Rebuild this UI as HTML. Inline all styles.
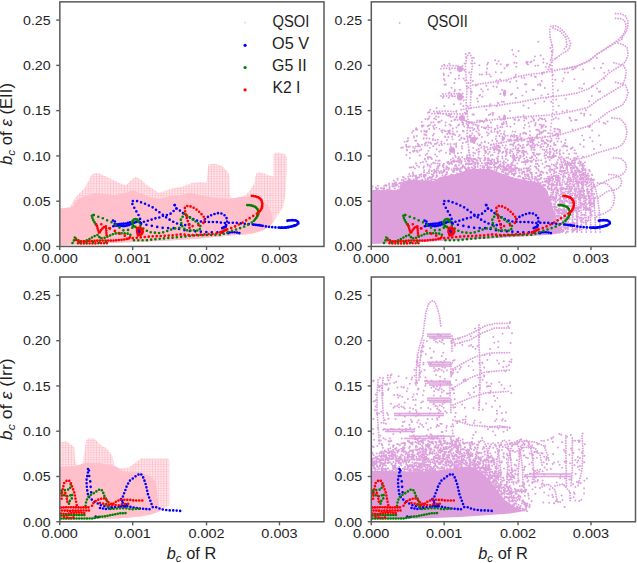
<!DOCTYPE html>
<html><head><meta charset="utf-8"><style>html,body{margin:0;padding:0;background:#fff;overflow:hidden}svg{display:block}</style></head>
<body><svg width="637" height="563" viewBox="0 0 637 563">
<style>
text{font-family:"Liberation Sans",sans-serif;fill:#1e1e1e}
.sp{fill:none;stroke:#5a5a5a;stroke-width:1.5}
.tk{stroke:#5a5a5a;stroke-width:1.4}
</style>
<rect width="637" height="563" fill="#fff"/>
<defs>
<pattern id="pkl" width="2.8" height="2.4" patternUnits="userSpaceOnUse"><rect width="2.8" height="2.4" fill="#fff"/><circle cx="1.4" cy="1.2" r="1.2" fill="#ffc0cb"/></pattern>
<pattern id="pls" width="4.6" height="4.6" patternUnits="userSpaceOnUse" patternTransform="rotate(20)"><circle cx="2.3" cy="2.3" r="0.8" fill="#dda0dd"/></pattern>
<pattern id="plm" width="2.8" height="2.8" patternUnits="userSpaceOnUse"><circle cx="1.4" cy="1.4" r="0.9" fill="#dda0dd"/></pattern>
</defs>
<polygon points="60.5,208.4 70.0,208.0 72.1,202.9 75.4,197.4 78.7,194.0 84.2,188.6 88.6,180.9 90.8,175.4 94.0,173.2 99.6,173.6 106.2,176.5 112.7,179.8 119.3,183.1 125.9,185.3 132.5,178.7 135.8,177.1 141.3,179.8 145.7,184.2 152.3,188.6 158.9,193.0 165.5,190.8 172.1,188.6 183.1,186.4 191.9,183.1 200.0,182.0 206.5,183.0 208.3,164.6 215.0,163.8 222.0,166.0 228.0,172.0 229.5,176.4 229.8,185.8 230.3,196.8 234.2,199.2 239.0,197.6 245.2,195.2 250.0,190.5 253.9,184.2 255.4,176.4 256.2,173.3 259.4,172.5 264.1,173.3 268.8,175.6 273.5,176.4 273.5,154.4 275.0,152.8 279.8,152.8 285.3,154.4 286.8,157.6 286.8,168.5 286.0,184.2 285.3,196.8 282.9,207.8 277.8,215.1 274.6,220.2 272.7,222.7 267.7,227.7 261.4,230.9 252.6,233.4 243.8,234.6 232.5,235.3 225.0,235.9 200.0,238.5 170.0,240.5 140.0,241.8 100.0,243.5 60.5,245.3" fill="url(#pkl)"/>
<polygon points="60.5,208.4 72.0,207.0 77.0,200.0 85.0,196.0 95.0,193.0 105.0,194.0 115.0,195.0 125.0,193.0 133.0,190.0 140.0,193.0 150.0,197.0 160.0,199.0 170.0,196.0 180.0,195.0 190.0,193.0 200.0,195.0 210.0,197.0 230.0,199.0 240.0,197.0 250.0,197.0 260.0,200.0 268.0,205.0 272.0,215.0 272.7,222.7 267.7,227.7 261.4,230.9 252.6,233.4 243.8,234.6 232.5,235.3 225.0,235.9 200.0,238.5 170.0,240.5 140.0,241.8 100.0,243.5 60.5,245.3" fill="#ffc0cb"/>
<polyline points="113.0,220.5 115.0,221.0 114.7,224.2 112.8,227.0" fill="none" stroke="#0000ff" stroke-width="2.65" stroke-linecap="round" stroke-linejoin="round" stroke-dasharray="0 2.6"/>
<polyline points="115.0,225.6 119.4,225.6 124.1,226.1 128.8,225.1 132.6,223.3 136.0,222.0 140.0,221.0" fill="none" stroke="#0000ff" stroke-width="2.8" stroke-linecap="round" stroke-linejoin="round" stroke-dasharray="0 2.0"/>
<polyline points="117.0,224.2 121.0,223.8 126.0,223.5 131.0,222.0" fill="none" stroke="#0000ff" stroke-width="2.65" stroke-linecap="round" stroke-linejoin="round" stroke-dasharray="0 2.2"/>
<polyline points="141.0,223.0 140.1,219.0 139.2,216.2 137.8,213.8 136.4,211.5 135.0,209.1 133.5,206.3 132.1,203.5 131.7,201.1 137.3,201.1 141.6,202.5 146.7,204.4 152.4,207.2 157.6,211.0 162.7,214.6 167.6,218.5 172.7,221.5 177.2,223.6 181.8,225.1 186.4,225.1 190.5,224.1" fill="none" stroke="#0000ff" stroke-width="2.65" stroke-linecap="round" stroke-linejoin="round" stroke-dasharray="0 4.2"/>
<polyline points="140.0,222.4 145.8,221.4 150.5,220.0 154.7,218.5 159.0,217.6 163.2,215.7 168.1,214.9 171.1,213.4 173.2,211.3 176.2,209.3 176.7,207.8 175.7,205.7 174.2,204.7" fill="none" stroke="#0000ff" stroke-width="2.65" stroke-linecap="round" stroke-linejoin="round" stroke-dasharray="0 4.0"/>
<polyline points="174.5,205.0 176.5,208.5 180.3,210.8 183.4,213.4 186.4,215.4 189.0,216.9 192.0,218.5 195.1,220.0 198.2,221.0 201.2,221.5 207.9,222.0 211.9,222.0 216.5,222.0 221.1,222.6 225.2,223.1 230.0,222.7 235.0,222.7 240.0,223.3 245.1,223.9 250.1,224.2 253.9,224.6" fill="none" stroke="#0000ff" stroke-width="2.65" stroke-linecap="round" stroke-linejoin="round" stroke-dasharray="0 4.0"/>
<polyline points="253.9,224.6 258.9,225.2 262.7,225.8" fill="none" stroke="#0000ff" stroke-width="2.8" stroke-linecap="round" stroke-linejoin="round" stroke-dasharray="0 1.8"/>
<polyline points="262.7,225.8 266.4,226.5 271.5,227.1 276.5,227.5 281.5,227.7 286.5,227.5 291.6,226.5 296.0,225.2" fill="none" stroke="#0000ff" stroke-width="2.65" stroke-linecap="round" stroke-linejoin="round" stroke-dasharray="0 3.2"/>
<polyline points="280.0,227.6 286.0,227.6 291.6,226.5 296.0,225.2 298.5,223.3 297.8,221.4 295.3,220.4 291.6,220.2 287.8,220.6 286.5,221.4" fill="none" stroke="#0000ff" stroke-width="2.8" stroke-linecap="round" stroke-linejoin="round" stroke-dasharray="0 1.6"/>
<polyline points="205.0,219.0 207.9,216.9 211.9,214.9 216.0,213.4 220.1,212.9 223.7,214.4 226.2,216.9 227.2,220.0 226.7,223.6 225.7,226.6" fill="none" stroke="#0000ff" stroke-width="2.65" stroke-linecap="round" stroke-linejoin="round" stroke-dasharray="0 3.6"/>
<polyline points="225.7,226.6 223.2,227.7 221.1,228.2" fill="none" stroke="#0000ff" stroke-width="3.0" stroke-linecap="round" stroke-linejoin="round" stroke-dasharray="0 1.8"/>
<polyline points="141.0,224.0 148.6,225.1 155.2,226.6 163.7,228.0 175.2,228.2 186.9,230.7 198.0,231.5 209.9,232.2 221.0,232.5 228.3,233.3" fill="none" stroke="#0000ff" stroke-width="2.65" stroke-linecap="round" stroke-linejoin="round" stroke-dasharray="0 5.5"/>
<polyline points="227.5,232.7 233.8,232.1 237.6,232.7 240.7,233.4" fill="none" stroke="#0000ff" stroke-width="2.65" stroke-linecap="round" stroke-linejoin="round" stroke-dasharray="0 2.4"/>
<polyline points="137.3,231.7 139.2,234.6" fill="none" stroke="#0000ff" stroke-width="2.65" stroke-linecap="round" stroke-linejoin="round" stroke-dasharray="0 2.2"/>
<polyline points="72.5,243.0 73.8,240.9 75.0,236.7 76.3,239.2 80.0,241.5 85.0,241.3 90.0,238.8 92.5,237.1 95.0,235.9 97.6,235.0 99.2,236.7 100.0,238.4 104.2,238.0 110.0,235.5 114.2,233.6 119.0,233.1 127.4,233.6 132.1,235.5" fill="none" stroke="#008000" stroke-width="2.65" stroke-linecap="round" stroke-linejoin="round" stroke-dasharray="0 3.0"/>
<polyline points="97.0,226.0 95.5,224.0 94.6,222.5 93.4,220.4 92.5,218.4 91.7,215.4 93.8,215.0" fill="none" stroke="#008000" stroke-width="2.65" stroke-linecap="round" stroke-linejoin="round" stroke-dasharray="0 2.3"/>
<polyline points="93.8,215.0 96.7,216.3 101.3,217.5 106.3,220.0 112.2,222.5 117.5,226.1 123.2,230.3 127.4,230.3 132.6,227.5" fill="none" stroke="#008000" stroke-width="2.65" stroke-linecap="round" stroke-linejoin="round" stroke-dasharray="0 4.8"/>
<polyline points="138.5,221.0 137.0,219.2 134.5,219.0 132.6,220.8 132.2,223.5 133.3,226.0 135.6,227.0" fill="none" stroke="#008000" stroke-width="2.8" stroke-linecap="round" stroke-linejoin="round" stroke-dasharray="0 1.9"/>
<polyline points="138.3,222.0 141.1,227.0 145.8,230.3 150.5,232.2 155.2,232.7 159.9,233.1 163.7,232.2 167.9,230.8 172.1,229.2 176.2,228.2 180.3,227.7" fill="none" stroke="#008000" stroke-width="2.65" stroke-linecap="round" stroke-linejoin="round" stroke-dasharray="0 4.2"/>
<polyline points="184.4,213.9 182.3,217.4 180.8,219.5 181.3,222.6 181.8,225.6 185.4,230.2 190.0,230.5 194.6,230.2 198.7,230.7 200.7,227.7 200.2,225.1 195.6,221.5 192.6,219.5 189.5,216.9 186.9,215.9 184.4,213.9" fill="none" stroke="#008000" stroke-width="2.65" stroke-linecap="round" stroke-linejoin="round" stroke-dasharray="0 3.4"/>
<polyline points="134.0,240.2 146.3,240.2 159.0,238.8 170.1,237.9 180.0,237.0 193.6,235.5 207.0,235.0 220.1,234.8 225.0,233.4 228.1,232.1 231.9,230.9 235.7,229.6 239.4,228.3 243.2,227.1 247.0,225.2 250.7,223.3 253.9,220.8" fill="none" stroke="#008000" stroke-width="2.65" stroke-linecap="round" stroke-linejoin="round" stroke-dasharray="0 4.3"/>
<polyline points="253.9,220.8 256.4,217.7 258.3,214.5 258.3,211.4 257.0,208.2 254.5,206.4 250.1,205.1 245.7,205.1" fill="none" stroke="#008000" stroke-width="2.8" stroke-linecap="round" stroke-linejoin="round" stroke-dasharray="0 1.9"/>
<polyline points="76.0,240.0 80.0,241.5 90.0,241.2 100.0,240.5 110.0,240.6 113.8,240.6 118.5,240.0 123.2,239.7 128.8,238.5" fill="none" stroke="#ff0000" stroke-width="2.7" stroke-linecap="round" stroke-linejoin="round" stroke-dasharray="0 2.7"/>
<polyline points="78.0,243.3 88.0,243.6 98.0,243.3 108.0,243.2" fill="none" stroke="#ff0000" stroke-width="2.6" stroke-linecap="round" stroke-linejoin="round" stroke-dasharray="0 2.9"/>
<polyline points="80.0,242.5 86.0,242.6 93.0,242.2 100.0,242.5 106.0,242.0" fill="none" stroke="#008000" stroke-width="2.4" stroke-linecap="round" stroke-linejoin="round" stroke-dasharray="0 6.5"/>
<polyline points="128.8,238.5 135.0,238.0 141.0,237.4 150.0,236.5 160.0,236.0 165.0,235.8 173.2,235.3 181.3,234.3 190.5,235.3 198.7,234.8 206.8,234.3 215.0,233.8 221.1,232.2" fill="none" stroke="#ff0000" stroke-width="2.65" stroke-linecap="round" stroke-linejoin="round" stroke-dasharray="0 4.0"/>
<polyline points="221.1,232.2 227.2,229.2" fill="none" stroke="#ff0000" stroke-width="3.0" stroke-linecap="round" stroke-linejoin="round" stroke-dasharray="0 1.8"/>
<polyline points="227.2,229.2 232.5,227.7 236.3,225.8 240.1,223.9 243.8,222.0 247.6,219.5 251.4,217.0 254.5,215.1 257.7,213.3" fill="none" stroke="#ff0000" stroke-width="2.65" stroke-linecap="round" stroke-linejoin="round" stroke-dasharray="0 4.2"/>
<polyline points="257.7,213.3 260.2,210.8 262.0,207.6 262.3,203.8 261.4,200.1 258.9,197.6 255.1,196.3 250.7,195.7" fill="none" stroke="#ff0000" stroke-width="2.8" stroke-linecap="round" stroke-linejoin="round" stroke-dasharray="0 1.6"/>
<polyline points="96.3,224.2 97.5,228.0 99.2,233.4 101.7,229.2 104.0,227.0 105.9,226.3 106.3,231.0 106.7,236.7" fill="none" stroke="#ff0000" stroke-width="2.6" stroke-linecap="round" stroke-linejoin="round" stroke-dasharray="0 2.2"/>
<polyline points="101.3,224.2 110.5,228.8" fill="none" stroke="#ff0000" stroke-width="2.65" stroke-linecap="round" stroke-linejoin="round" stroke-dasharray="0 9"/>
<polyline points="110.0,228.4 115.7,231.3 121.3,234.6 127.0,236.4 131.7,237.9" fill="none" stroke="#ff0000" stroke-width="2.65" stroke-linecap="round" stroke-linejoin="round" stroke-dasharray="0 5.5"/>
<polyline points="137.0,228.0 140.0,227.5 142.5,229.5 143.0,232.0 141.5,234.5 138.0,235.5 137.0,232.0 137.0,228.0" fill="none" stroke="#ff0000" stroke-width="2.6" stroke-linecap="round" stroke-linejoin="round" stroke-dasharray="0 1.7"/>
<polyline points="138.5,229.5 141.0,230.5 140.5,233.0 138.5,233.0" fill="none" stroke="#ff0000" stroke-width="2.6" stroke-linecap="round" stroke-linejoin="round" stroke-dasharray="0 1.5"/>
<polyline points="138.6,230.5 139.5,232.2" fill="none" stroke="#0000ff" stroke-width="2.2" stroke-linecap="round" stroke-linejoin="round" stroke-dasharray="0 1.5"/>
<polyline points="189.5,227.7 188.5,223.1 186.9,218.5 185.9,213.9 184.9,210.3 184.9,207.2 188.0,205.7 191.5,206.7 194.6,208.3 197.7,210.3 200.7,213.4 203.3,215.9 204.8,219.0 204.3,221.5 202.8,223.6" fill="none" stroke="#ff0000" stroke-width="2.65" stroke-linecap="round" stroke-linejoin="round" stroke-dasharray="0 3.4"/>
<polyline points="192.6,226.1 198.7,225.1" fill="none" stroke="#ff0000" stroke-width="2.65" stroke-linecap="round" stroke-linejoin="round" stroke-dasharray="0 6"/>
<path d="M449.3 63.8h0M473.8 57.7h0M465.2 80.5h0M456.8 116.5h0M468.3 82.9h0M489.4 74.6h0M448.1 115.7h0M472.9 81.0h0M466.1 56.9h0M476.0 85.4h0M448.6 97.7h0M459.0 75.4h0M484.6 106.5h0M443.3 96.8h0M464.4 120.3h0M479.7 74.5h0M498.5 61.2h0M456.4 111.1h0M482.3 96.7h0M490.7 76.5h0M477.1 98.4h0M468.5 87.6h0M488.0 125.7h0M460.6 103.8h0M486.6 74.2h0M453.9 104.2h0M429.4 111.9h0M454.3 120.0h0M466.2 120.9h0M486.4 119.4h0M445.9 84.4h0M496.8 63.8h0M469.2 72.5h0M452.7 96.2h0M496.5 105.9h0M463.7 100.2h0M492.5 112.8h0M490.6 114.2h0M454.4 83.1h0M471.1 63.6h0M443.9 79.1h0M459.9 89.7h0M450.7 72.7h0M487.2 64.6h0M464.6 63.4h0M465.7 54.1h0M489.7 106.3h0M444.6 80.6h0M437.5 112.2h0M464.9 112.8h0M449.7 69.4h0M488.9 114.9h0M486.4 109.7h0M444.4 106.0h0M496.7 86.9h0M495.3 129.1h0M496.6 80.4h0M471.8 122.2h0M488.0 89.4h0M474.0 114.4h0M493.2 113.0h0M481.3 89.3h0M438.4 113.6h0M449.9 114.5h0M497.9 82.9h0M479.4 65.3h0M492.9 114.9h0M436.0 116.5h0M498.5 103.3h0M451.3 94.8h0M497.8 102.7h0M457.5 120.0h0M487.0 68.5h0M443.9 74.9h0M443.0 97.7h0M444.5 84.7h0M451.5 87.7h0M468.8 122.5h0M462.6 93.5h0M458.0 66.3h0M479.4 95.4h0M449.4 92.4h0M466.7 113.2h0M443.6 73.6h0M482.9 91.6h0M467.1 111.3h0M493.4 86.6h0M470.9 91.4h0M463.4 106.0h0M458.9 93.6h0M477.4 120.4h0M495.7 72.2h0M488.0 62.7h0M483.8 122.0h0M436.6 107.9h0M474.5 63.2h0M491.2 127.5h0M454.9 90.0h0M499.2 116.9h0M463.7 78.5h0M466.6 86.4h0M471.8 92.0h0M484.1 127.8h0M428.0 112.8h0M486.4 72.2h0M467.8 106.6h0M476.6 85.2h0M472.6 114.5h0M459.0 78.5h0M464.5 70.6h0M448.4 75.8h0M482.0 74.6h0M462.5 65.9h0M480.0 95.0h0M495.1 60.3h0M486.4 85.7h0M462.1 117.1h0M454.5 91.5h0M450.7 116.9h0M478.0 101.6h0M455.4 79.1h0M430.3 109.8h0M444.2 64.7h0M490.3 104.3h0" stroke="#dda0dd" stroke-width="2.0" stroke-linecap="round" fill="none"/>
<path d="M531.6 61.5h0M532.8 89.7h0M517.6 88.0h0M534.7 76.4h0M500.1 79.6h0M553.2 95.4h0M522.5 95.6h0M500.6 64.3h0M510.1 81.9h0M534.1 60.3h0M565.6 98.8h0M584.1 115.5h0M580.2 144.3h0M543.6 72.4h0M581.1 113.6h0M582.2 135.6h0M515.6 98.1h0M556.5 138.5h0M590.1 137.4h0M565.4 146.1h0M576.5 120.1h0M514.9 76.9h0M562.6 111.6h0M570.1 118.5h0M589.3 127.3h0M556.3 99.6h0M508.3 64.5h0M582.9 156.8h0M555.3 79.7h0M553.6 118.9h0M585.9 110.2h0M516.5 63.0h0M583.2 69.6h0M506.8 64.9h0M575.3 120.0h0M575.7 67.8h0M557.9 90.4h0M552.2 45.4h0M502.0 89.7h0M550.3 64.9h0M523.6 105.6h0M515.9 98.1h0M591.9 96.1h0M599.3 121.4h0M500.4 93.9h0M550.5 69.3h0M515.8 74.7h0M603.8 122.7h0M601.0 67.7h0M541.7 81.1h0M540.4 85.6h0M527.9 64.5h0M599.0 135.6h0M570.7 148.7h0M582.0 88.6h0M584.3 113.8h0M552.9 74.7h0M573.5 69.1h0M562.4 81.3h0M518.7 51.0h0M555.7 58.6h0M550.4 48.1h0M538.3 41.8h0M526.8 63.6h0M563.8 145.3h0M584.0 83.7h0M546.4 98.1h0M542.2 74.0h0M507.0 66.1h0M556.4 111.9h0M596.6 58.1h0M530.4 62.3h0M544.8 88.0h0M503.6 122.2h0M600.3 91.5h0M592.5 141.2h0M512.2 50.1h0M558.5 118.7h0M605.4 123.8h0M572.5 129.4h0M551.2 101.7h0M572.3 69.5h0M514.3 62.7h0M571.3 120.8h0M558.7 105.8h0M543.5 59.1h0M533.8 89.9h0M599.0 91.8h0M526.3 62.1h0M607.6 121.6h0M555.8 117.7h0M547.0 63.4h0M574.7 150.3h0M537.9 84.7h0M589.3 126.1h0M608.6 70.5h0M525.0 84.2h0M574.5 153.3h0M516.4 81.1h0M506.7 81.1h0M600.6 144.9h0M604.3 72.8h0M574.4 79.2h0M541.9 73.1h0M531.3 75.7h0M592.1 86.2h0M505.5 91.6h0M521.6 77.4h0M603.0 63.4h0M583.7 146.8h0M538.0 65.4h0M535.4 65.8h0M526.2 91.8h0M543.3 62.6h0M548.2 94.2h0M589.9 126.0h0M592.1 130.5h0M568.0 72.6h0M535.8 77.0h0M503.8 101.8h0M510.8 94.8h0M579.5 88.1h0M526.2 84.2h0M569.5 117.6h0M583.8 140.1h0M594.2 68.2h0M563.5 78.5h0M527.7 61.9h0M564.8 72.4h0M590.5 114.9h0M594.1 148.9h0M504.5 68.2h0M513.4 54.6h0M604.2 78.4h0M597.0 88.4h0M566.8 110.6h0M524.4 77.9h0M515.8 56.5h0M528.6 107.9h0M501.3 72.5h0M535.0 56.4h0M589.1 101.2h0M544.3 101.5h0M518.3 120.4h0M545.9 66.8h0M535.0 103.6h0M540.0 84.1h0M540.7 55.6h0M551.6 51.1h0M501.7 101.7h0M571.8 148.3h0M510.0 110.9h0M541.5 95.6h0M516.3 66.8h0M512.2 93.8h0" stroke="#dda0dd" stroke-width="2.0" stroke-linecap="round" fill="none"/>
<path d="M552.2 232.0h0M416.0 129.5h0M480.0 120.5h0M579.4 161.3h0M574.5 189.7h0M556.6 133.6h0M548.0 141.1h0M462.4 217.3h0M557.7 136.3h0M420.6 162.8h0M487.9 160.8h0M534.3 223.5h0M541.6 118.7h0M506.2 181.1h0M512.3 151.4h0M465.9 185.1h0M467.2 194.4h0M471.9 167.5h0M376.9 189.5h0M481.5 142.7h0M543.0 209.2h0M474.5 135.9h0M477.8 127.1h0M486.1 119.0h0M514.5 124.0h0M536.2 208.9h0M486.4 120.6h0M484.7 160.1h0M535.9 213.4h0M415.1 233.8h0M482.0 230.7h0M548.5 227.5h0M541.3 133.4h0M572.8 147.5h0M554.6 131.5h0M484.3 226.2h0M418.4 146.1h0M485.2 152.9h0M407.9 228.2h0M524.2 223.2h0M409.5 209.8h0M514.4 157.9h0M567.5 181.7h0M501.8 221.7h0M395.2 235.1h0M513.0 162.1h0M550.6 146.3h0M593.9 184.4h0M452.5 207.3h0M470.9 135.6h0M538.5 119.9h0M555.6 144.9h0M515.1 234.1h0M503.1 195.0h0M509.9 166.7h0M486.7 223.3h0M518.2 116.7h0M422.0 185.2h0M503.8 138.9h0M511.6 171.9h0M401.9 228.3h0M426.3 132.2h0M393.2 191.9h0M567.1 209.4h0M461.9 146.2h0M374.3 192.7h0M497.8 156.7h0M516.5 168.1h0M581.9 203.5h0M427.4 224.2h0M462.8 143.0h0M384.8 209.0h0M416.5 188.2h0M485.4 192.3h0M554.1 135.3h0M441.1 150.6h0M382.6 222.5h0M547.3 201.3h0M373.1 217.0h0M538.8 170.8h0M538.1 169.2h0M422.4 126.8h0M447.0 205.5h0M527.6 217.1h0M531.3 146.5h0M495.9 167.2h0M548.5 177.8h0M431.2 192.3h0M430.1 142.8h0M538.6 229.3h0M539.1 153.9h0M569.1 154.1h0M425.3 224.7h0M513.2 198.5h0M520.9 233.4h0M477.0 216.4h0M528.2 218.6h0M469.8 202.4h0M499.6 151.5h0M419.2 190.0h0M389.2 225.1h0M395.6 227.3h0M449.1 131.3h0M527.1 191.3h0M528.0 203.9h0M386.5 186.0h0M453.2 213.7h0M555.5 222.7h0M386.5 219.9h0M576.8 229.2h0M561.8 213.1h0M513.9 214.7h0M513.4 149.1h0M541.6 139.0h0M443.3 165.7h0M435.1 201.3h0M454.2 153.1h0M587.9 175.5h0M562.7 189.4h0M469.6 208.3h0M449.5 200.0h0M492.3 140.4h0M555.6 134.8h0M542.7 233.3h0M481.9 211.2h0M413.1 174.3h0M449.6 215.5h0M430.1 229.2h0M435.3 140.2h0M528.6 174.8h0M396.4 191.7h0M389.8 210.1h0M528.1 210.0h0M512.5 157.4h0M461.7 162.1h0M417.9 146.1h0M573.8 175.1h0M456.8 221.8h0M424.1 170.2h0M490.9 206.0h0M540.6 192.8h0M449.9 153.9h0M406.5 216.9h0M520.2 204.5h0M409.7 167.5h0M545.2 184.7h0M414.7 150.8h0M529.4 216.9h0M427.2 153.8h0M488.8 133.6h0M445.3 137.1h0M590.4 202.9h0M394.5 231.4h0M592.4 211.0h0M536.2 167.1h0M415.7 191.8h0M461.2 210.5h0M527.2 175.1h0M513.5 170.5h0M403.5 187.7h0M462.5 204.4h0M575.4 166.5h0M500.4 205.4h0M466.2 141.9h0M533.7 221.4h0M545.3 199.4h0M562.9 196.9h0M515.6 169.4h0M441.9 190.6h0M547.2 201.0h0M512.9 144.5h0M466.7 169.5h0M511.1 163.9h0M523.2 227.5h0M412.8 193.8h0M546.2 161.4h0M481.6 232.9h0M407.8 209.4h0M582.7 177.3h0M394.4 184.1h0M493.1 201.5h0M486.6 192.0h0M557.6 177.6h0M463.7 229.7h0M418.8 197.5h0M459.7 207.0h0M399.2 234.1h0M451.4 120.9h0M433.2 162.8h0M466.0 199.2h0M450.7 146.3h0M422.0 204.5h0M582.5 178.3h0M420.8 211.8h0M459.6 139.9h0M400.7 208.7h0M553.3 191.4h0M476.9 182.6h0M422.4 231.6h0M450.9 191.9h0M555.3 213.6h0M476.7 149.9h0M494.7 129.3h0M558.7 157.3h0M562.5 146.6h0M456.1 144.9h0M467.3 136.7h0M372.3 202.1h0M434.8 143.9h0M439.4 172.5h0M467.8 191.8h0M519.6 158.2h0M580.0 218.2h0M384.5 215.0h0M574.9 209.7h0M403.2 215.4h0M374.3 230.1h0M518.8 144.5h0M424.1 208.7h0M449.4 132.6h0M574.5 210.6h0M409.4 222.7h0M508.2 209.3h0M521.6 223.1h0M548.5 216.3h0M416.0 198.5h0M490.8 204.5h0M470.1 221.7h0M496.2 146.3h0M424.2 131.0h0M482.3 121.1h0M476.5 131.6h0M481.9 174.8h0M492.7 219.3h0M373.2 216.6h0M476.7 182.6h0M520.9 216.5h0M455.8 165.1h0M514.6 191.6h0M378.1 188.4h0M524.8 227.6h0M445.8 233.8h0M486.2 173.1h0M532.8 190.3h0M447.6 219.1h0M453.8 171.9h0M489.6 208.0h0M419.0 167.1h0M466.4 181.6h0M557.1 149.7h0M557.4 163.3h0M484.7 147.1h0M485.3 232.9h0M518.5 210.6h0M445.9 152.7h0M438.8 185.5h0M514.1 209.7h0M380.7 202.2h0M570.3 180.5h0M578.4 188.3h0M519.3 210.3h0M575.8 188.6h0M510.0 190.5h0M527.9 186.7h0M524.4 139.9h0M521.3 169.9h0M542.8 126.4h0M545.4 225.5h0M518.8 159.0h0M556.2 210.0h0M497.8 145.5h0M439.4 165.5h0M443.1 166.5h0M515.6 227.9h0M553.5 184.2h0M577.7 168.5h0M504.5 228.4h0M464.2 126.4h0M516.3 139.9h0M372.8 197.4h0M399.0 231.9h0M391.5 220.1h0M533.1 143.6h0M536.2 136.9h0M382.9 208.4h0M531.7 218.4h0M535.4 124.3h0M512.7 200.5h0M475.0 227.7h0M428.7 231.6h0M375.0 193.4h0M441.5 203.0h0M408.9 219.0h0M480.8 121.3h0M454.1 184.1h0M470.1 196.6h0M404.2 211.3h0M453.2 192.7h0M512.9 165.0h0M458.2 209.9h0M583.6 209.7h0M498.8 149.7h0M385.3 232.8h0M529.4 214.9h0M446.2 187.9h0M590.9 215.4h0M506.5 151.6h0M467.8 222.4h0M456.2 197.5h0M506.7 223.3h0M552.8 148.6h0M466.5 185.6h0M554.7 222.3h0M381.2 215.7h0M553.8 219.8h0M500.0 147.4h0M562.6 212.5h0M525.3 225.5h0M449.5 124.4h0M495.9 211.3h0M416.7 205.5h0M507.8 196.7h0M476.1 139.2h0M428.8 205.6h0M549.3 170.1h0M391.4 212.4h0M544.9 142.4h0M501.7 223.4h0M570.2 177.7h0M478.6 185.9h0M414.1 137.5h0M412.2 199.5h0M453.1 182.9h0M462.0 177.1h0M395.5 191.2h0M548.3 133.1h0M505.7 156.1h0M379.2 234.8h0M566.0 173.3h0M498.9 145.9h0M546.5 166.0h0M584.0 207.6h0M555.4 231.5h0M428.7 118.6h0M416.8 136.0h0M496.7 220.2h0M474.5 229.6h0M505.8 162.5h0M398.6 231.0h0M429.4 182.9h0M515.4 230.7h0M521.9 162.0h0M472.3 133.5h0M429.1 156.9h0M574.2 224.4h0M548.1 200.6h0M516.8 234.2h0M541.0 228.6h0M523.5 150.5h0M504.4 206.5h0M429.3 129.1h0M479.7 134.6h0M425.2 131.5h0M523.7 115.5h0M532.6 137.8h0M379.8 227.2h0M421.2 227.9h0M566.1 222.4h0M393.5 227.3h0M560.6 190.7h0M473.2 155.5h0M556.3 172.3h0M512.6 131.4h0M531.8 181.5h0M404.2 220.2h0M431.5 164.2h0M406.6 147.1h0M560.0 154.8h0M409.3 173.9h0M443.0 224.2h0M397.3 233.4h0M384.5 223.2h0M521.6 139.8h0M478.8 148.9h0M429.5 138.6h0M453.4 234.9h0M534.6 149.8h0M552.7 155.6h0M558.4 178.2h0M413.4 167.1h0M499.9 130.8h0M412.1 208.0h0M531.3 138.0h0M508.2 174.4h0M433.1 139.1h0M509.1 200.3h0M553.7 185.1h0M536.0 163.8h0M533.6 120.8h0M553.5 154.9h0M560.5 219.5h0M575.9 172.1h0M567.3 146.5h0M413.4 215.5h0M454.0 133.9h0M455.0 186.6h0M471.7 176.9h0M398.8 201.2h0M554.8 219.6h0M443.7 200.8h0M457.2 205.7h0M385.4 220.5h0M585.7 174.4h0M486.8 178.7h0M427.9 213.7h0M528.5 137.8h0M501.0 177.8h0M529.3 126.5h0M566.7 201.5h0M482.4 175.1h0M434.4 128.9h0M462.7 130.7h0M504.4 219.1h0M404.7 183.9h0M539.2 134.0h0M557.0 228.4h0M458.9 165.3h0M560.0 178.1h0M460.4 228.8h0M546.0 155.3h0M425.6 154.9h0M469.4 233.7h0M552.1 225.4h0M554.5 217.4h0M427.6 165.5h0M513.6 158.5h0M490.8 122.5h0M468.8 175.6h0M589.2 208.7h0M581.9 191.3h0M553.2 221.9h0M515.6 146.4h0M523.9 147.4h0M493.3 226.8h0M511.0 144.6h0M488.4 166.9h0M440.2 193.0h0M398.7 186.5h0M586.1 176.7h0M431.9 170.9h0M491.4 132.1h0M437.6 163.6h0M436.4 143.7h0M560.1 188.4h0M499.6 193.3h0M416.8 200.7h0M475.1 180.9h0M509.2 171.2h0M441.3 143.6h0M421.4 176.5h0M457.6 185.5h0M565.0 143.1h0M496.6 174.0h0M435.6 234.5h0M438.0 208.2h0M567.1 167.7h0M470.4 203.7h0M586.9 204.1h0M406.4 155.1h0M450.8 196.4h0M509.9 217.7h0M555.9 177.2h0M537.4 204.7h0M542.1 172.0h0M547.8 200.4h0M543.4 185.5h0M483.4 231.5h0M500.0 165.0h0M547.5 220.5h0M507.9 160.3h0M473.1 169.9h0M533.9 149.7h0M459.3 181.8h0M457.9 153.3h0M548.2 217.6h0M483.7 168.2h0M413.0 151.1h0M404.2 184.2h0M502.1 124.7h0M560.9 216.3h0M467.4 225.1h0M498.4 174.7h0M578.1 208.4h0M492.5 235.8h0M487.8 177.1h0M525.4 161.5h0M451.9 186.6h0M450.5 229.6h0M523.4 178.1h0M461.6 182.5h0M500.5 221.3h0M588.0 173.4h0M470.4 190.2h0M490.6 213.5h0M410.0 152.8h0M591.2 214.8h0M486.7 127.5h0M572.3 198.2h0M570.9 165.3h0M406.8 149.4h0M486.5 175.6h0M413.9 136.3h0M513.0 187.6h0M450.9 235.2h0M514.5 119.2h0M464.0 210.1h0M440.5 198.3h0M560.6 185.5h0M521.6 138.0h0M483.4 181.5h0M431.4 192.9h0M490.9 235.6h0M500.6 164.2h0M542.1 127.0h0M488.9 214.4h0M509.2 212.4h0M544.5 153.4h0M532.2 157.2h0M409.7 146.5h0M394.0 224.3h0M502.3 156.6h0M472.6 161.1h0M384.0 222.6h0M502.4 231.1h0M470.3 189.7h0M427.6 119.4h0M580.5 218.3h0M442.3 223.7h0M554.7 151.0h0M506.9 231.1h0M482.9 229.9h0M426.2 161.6h0M532.9 141.0h0M441.0 220.8h0M480.3 210.7h0M426.3 135.2h0M452.1 136.8h0M497.7 128.0h0M491.4 161.0h0M462.1 122.0h0M399.4 214.8h0M450.5 143.9h0M414.6 148.6h0M520.7 155.7h0M406.7 200.1h0M559.0 129.6h0M471.1 216.0h0M552.2 133.4h0M450.9 202.1h0M456.2 230.9h0M418.4 230.0h0M484.9 141.7h0M473.2 130.0h0M530.2 145.8h0M573.5 185.7h0M454.2 144.0h0M508.1 139.9h0M486.8 180.2h0M432.4 208.2h0M458.0 194.2h0M499.0 151.9h0M459.2 124.5h0M411.4 217.8h0M443.7 194.9h0M396.1 182.6h0M452.8 175.0h0M438.3 122.0h0M441.5 141.6h0M400.0 201.4h0M435.0 163.2h0M575.6 208.5h0M569.7 219.1h0M401.3 147.7h0M378.3 196.9h0M520.5 156.9h0M464.2 194.4h0M528.5 144.3h0M561.6 157.0h0M512.7 136.2h0M397.5 225.3h0M536.3 200.9h0M408.0 138.2h0M439.7 160.5h0M514.9 135.9h0M560.0 183.6h0M532.4 145.1h0M469.3 197.5h0M558.8 208.7h0M435.9 119.2h0M563.3 188.1h0M396.6 210.6h0M418.8 225.6h0M539.8 124.5h0M527.5 162.0h0M539.4 215.1h0M434.8 125.0h0M584.0 165.7h0M580.3 198.4h0M537.4 215.3h0M512.6 169.2h0M383.9 199.2h0M467.8 176.4h0M542.6 119.3h0M529.3 212.3h0M430.3 180.7h0M589.1 191.8h0M493.7 144.5h0M464.0 138.6h0M441.4 130.7h0M530.3 195.8h0M425.1 143.5h0M487.3 168.3h0M438.8 221.9h0M403.5 182.7h0M446.5 213.5h0M494.7 206.8h0M409.7 195.3h0M506.0 170.3h0M543.5 215.4h0M452.6 139.2h0M415.9 199.6h0M472.2 127.8h0M444.5 171.2h0M453.1 134.5h0M390.5 201.5h0M591.6 182.8h0M469.1 137.2h0M578.0 192.6h0M512.5 228.1h0M518.1 144.7h0M426.9 130.9h0M377.9 208.5h0M560.0 150.2h0M413.4 191.8h0M561.4 227.1h0M409.5 209.7h0M558.0 204.6h0M445.0 136.5h0M556.8 153.1h0M454.4 181.2h0M454.5 215.4h0M425.4 119.0h0M498.8 190.6h0M555.6 200.1h0M574.7 229.3h0M482.6 174.9h0M407.0 150.5h0M502.0 123.8h0M526.0 134.0h0M471.1 232.3h0M470.3 137.3h0M560.3 218.3h0M548.2 165.9h0M435.2 194.7h0M487.1 165.4h0M447.7 167.5h0M521.1 214.8h0M438.0 168.1h0M498.1 156.5h0M444.3 170.2h0M565.8 232.9h0M587.4 189.6h0M523.4 188.3h0M438.3 183.7h0M585.4 172.6h0M516.9 150.5h0M448.7 222.0h0M523.9 168.6h0M390.8 194.6h0M455.1 184.9h0M465.1 178.7h0M498.4 162.4h0M571.3 180.9h0M396.9 219.2h0M428.6 125.6h0M490.8 144.7h0M481.4 181.6h0M422.5 183.9h0M503.7 123.8h0M463.2 123.0h0M470.3 219.3h0M495.2 201.2h0M541.5 128.0h0M593.9 202.0h0M394.6 215.3h0M459.6 134.9h0M587.0 182.7h0M545.5 130.7h0M545.8 121.0h0M424.8 159.4h0M419.5 150.6h0M530.4 166.0h0M571.0 189.8h0M567.3 182.7h0M577.5 220.2h0M409.4 204.9h0M448.3 207.2h0M524.3 214.7h0M537.1 229.7h0M533.6 119.3h0M507.1 126.2h0M494.8 212.0h0M397.0 226.9h0M523.2 145.1h0M415.0 168.5h0M559.7 184.9h0M396.5 211.7h0M413.3 181.6h0M436.8 197.8h0M457.1 131.6h0M568.1 179.7h0M526.4 212.6h0M448.5 132.4h0M484.2 220.5h0M412.6 213.8h0M524.1 161.9h0M478.4 133.3h0M561.3 162.0h0M567.5 188.5h0M420.2 223.1h0M503.9 119.3h0M409.8 158.0h0M476.6 184.4h0M458.7 157.1h0M474.7 234.3h0M522.2 147.3h0M433.0 175.0h0M430.5 183.4h0M490.2 230.7h0M497.4 208.1h0M567.4 208.5h0M513.7 191.4h0M453.1 148.4h0M550.1 220.5h0M582.2 197.1h0M439.9 207.1h0M537.6 176.1h0M514.2 156.8h0M495.2 163.5h0M444.2 234.6h0M479.7 158.8h0M426.3 142.6h0M450.0 130.5h0M373.3 220.3h0M473.3 168.4h0M499.3 150.9h0M439.3 151.6h0M534.7 181.3h0M578.3 185.2h0M501.9 234.5h0M451.8 208.5h0M467.8 219.9h0M429.5 116.8h0M408.6 146.7h0M529.7 140.6h0M461.3 138.4h0M506.9 219.4h0M517.1 138.0h0M536.3 231.5h0M506.5 123.7h0M553.3 220.8h0M448.2 130.7h0M413.9 179.5h0M568.1 192.1h0M445.0 205.4h0M517.3 163.4h0M524.0 155.2h0M381.9 190.4h0M446.7 174.3h0M505.8 145.4h0M579.2 182.8h0M509.4 202.3h0M445.5 125.4h0M543.8 125.0h0M554.3 165.6h0M492.5 185.8h0M496.2 194.2h0M506.6 154.4h0M537.9 145.5h0M531.3 207.1h0M545.8 151.7h0M545.0 233.2h0M473.3 147.9h0M489.1 228.8h0M478.4 194.0h0M545.3 158.2h0M541.4 125.0h0M496.2 136.2h0M537.2 226.4h0M546.2 143.6h0M592.0 174.9h0M514.4 156.0h0M551.3 170.1h0M444.3 224.2h0M395.9 203.5h0M386.4 192.7h0M461.8 219.4h0M463.6 226.1h0M583.7 190.5h0M422.0 144.7h0M430.5 166.9h0M423.6 138.8h0M542.0 192.4h0M438.6 235.3h0M420.3 183.5h0M406.9 219.3h0M566.7 146.6h0M540.3 214.4h0M435.1 154.4h0M480.6 222.7h0M407.9 197.3h0M505.7 169.3h0M501.6 221.7h0M418.8 221.8h0M452.5 209.1h0M438.5 117.0h0M396.7 232.9h0M373.8 225.2h0M405.5 203.8h0M524.8 125.0h0M447.9 226.1h0M532.4 221.6h0M424.3 210.6h0M526.3 118.6h0M484.9 142.3h0M468.3 126.8h0M376.2 234.9h0M442.7 221.2h0M411.8 197.6h0M404.9 204.1h0M484.0 127.7h0M451.0 174.5h0M577.8 156.6h0M420.0 232.0h0M569.8 203.2h0M432.9 135.6h0M431.1 122.4h0M463.2 181.9h0M526.1 193.7h0M493.7 181.0h0M526.5 233.8h0M567.8 201.6h0M461.3 152.8h0M465.7 232.7h0M458.5 161.0h0M463.7 131.5h0M508.0 227.0h0M428.8 188.5h0M456.3 143.4h0M416.2 128.2h0M560.8 209.6h0M527.4 153.6h0M516.6 181.0h0M442.5 232.5h0M371.9 205.0h0M563.1 176.2h0M504.6 235.4h0M424.3 190.8h0M538.4 160.2h0M531.4 162.0h0M489.7 188.8h0M523.6 153.3h0M512.8 180.3h0M421.8 188.7h0M431.1 224.9h0M477.9 202.0h0M488.8 172.1h0M421.3 131.3h0M579.7 178.5h0M489.2 178.4h0M554.1 143.1h0M410.4 214.3h0M474.9 192.1h0M557.3 223.1h0M457.2 215.5h0M555.1 129.0h0M406.2 144.7h0M551.9 177.6h0M473.3 124.7h0M460.4 235.6h0M527.6 168.8h0M479.0 211.4h0M541.9 132.3h0M524.3 158.8h0M488.5 143.0h0M454.9 155.5h0M416.8 183.6h0M532.8 147.5h0M444.4 143.5h0M514.4 218.8h0M416.9 165.6h0M549.4 189.4h0M455.1 119.4h0M471.0 158.8h0M531.5 150.0h0M463.2 193.1h0M553.6 157.0h0M458.1 184.6h0M589.6 200.9h0M455.2 195.2h0M445.6 122.6h0M541.3 160.3h0M489.6 174.6h0M573.9 206.4h0M475.4 170.4h0M560.0 164.6h0M477.9 222.6h0M470.4 173.9h0M486.5 214.6h0M522.1 204.3h0M524.2 181.6h0M544.2 207.9h0M389.0 213.7h0M540.7 182.9h0M384.0 197.1h0M531.2 172.9h0M384.0 198.3h0M465.4 185.2h0M446.7 177.2h0M373.1 234.6h0M433.3 146.0h0M441.9 145.1h0M564.3 181.8h0M486.3 165.3h0M566.1 211.8h0M563.8 145.4h0M492.1 159.6h0M475.8 173.7h0M502.6 158.6h0M551.5 138.4h0M577.9 181.8h0M491.3 163.9h0M498.4 153.5h0M433.1 211.1h0M437.1 200.7h0M551.7 186.2h0M473.7 228.1h0M471.5 221.1h0M515.1 120.0h0M505.4 136.0h0M578.6 182.4h0M551.3 174.8h0M522.8 196.3h0M437.8 139.7h0M559.7 131.8h0M547.6 230.0h0M464.7 194.4h0M429.5 224.5h0M525.6 132.9h0M384.4 198.9h0M381.1 216.0h0M437.6 142.4h0M502.3 152.9h0M497.4 132.8h0M576.2 153.6h0M560.4 132.5h0M551.0 233.6h0M456.9 192.2h0M421.8 180.6h0M535.0 166.4h0M524.0 128.0h0M557.5 128.9h0M582.4 178.2h0M436.9 156.4h0M540.0 174.6h0M480.4 219.4h0M505.8 180.0h0M432.5 223.0h0M561.3 141.7h0M506.0 232.0h0M448.9 229.2h0M519.0 120.1h0M446.4 168.9h0M427.2 204.6h0M411.8 210.1h0M438.6 122.5h0M497.1 125.7h0M495.4 210.1h0M505.3 170.3h0M393.5 192.9h0M401.3 184.5h0M450.8 159.7h0M520.4 134.0h0M409.8 228.9h0M446.1 216.8h0M567.6 172.6h0M483.0 179.4h0M408.5 179.3h0M485.4 158.8h0M416.0 163.3h0M417.3 129.5h0M425.5 220.3h0M484.3 222.7h0M375.1 229.1h0M481.2 210.5h0M499.6 198.1h0M423.1 205.5h0M406.2 146.2h0M487.9 149.6h0M501.5 142.5h0M505.2 209.6h0M531.1 121.6h0M426.8 187.1h0M510.4 198.4h0M554.4 155.7h0M553.5 170.3h0M582.6 164.3h0M463.0 124.7h0M426.6 203.5h0M524.0 132.5h0M448.9 131.1h0M416.2 140.8h0M446.0 233.1h0M479.3 174.7h0M546.5 224.8h0M540.3 191.6h0M416.3 190.3h0M561.4 210.0h0M392.4 201.5h0M450.0 133.8h0M588.3 196.1h0M538.9 130.5h0M557.5 228.3h0M574.6 204.9h0M558.4 211.9h0M504.1 167.1h0M556.8 209.7h0M567.0 150.5h0M587.2 178.9h0M588.9 210.1h0M428.2 216.3h0M423.8 138.2h0M474.4 142.9h0M482.2 224.8h0M525.4 200.7h0M459.6 209.6h0M549.7 197.3h0M582.9 214.7h0M462.8 124.6h0M518.1 216.0h0M447.9 186.6h0M559.3 210.7h0M553.9 165.1h0M507.3 169.8h0M446.9 140.1h0M451.0 217.0h0M510.6 149.6h0M529.0 167.9h0M520.0 212.5h0M398.8 197.3h0M381.0 214.4h0M413.0 147.1h0M422.0 222.6h0M508.6 223.1h0M460.2 175.0h0M586.1 175.8h0M558.0 133.8h0M411.0 229.3h0M473.7 212.7h0M428.0 157.0h0M565.1 176.7h0M456.2 227.3h0M572.2 195.3h0M388.7 190.1h0M471.3 230.9h0M452.9 194.7h0M513.4 159.9h0M488.8 196.5h0M575.2 174.8h0M453.3 233.1h0M384.5 215.8h0M525.0 182.0h0M472.1 205.6h0M571.6 202.9h0M539.9 118.3h0M444.6 130.7h0M585.5 222.8h0M404.1 185.7h0M501.1 119.7h0M459.7 205.2h0M515.6 148.3h0M542.7 149.5h0M493.8 165.3h0M591.1 193.2h0M552.2 196.5h0M457.0 231.5h0M530.9 198.3h0M433.9 133.7h0M500.7 214.8h0M549.7 156.4h0M403.1 177.0h0M537.3 134.8h0M441.7 120.5h0M438.5 160.7h0M413.7 151.7h0M443.7 167.5h0M460.1 161.0h0M417.5 224.9h0M472.7 216.1h0M514.6 209.0h0M442.3 132.6h0M541.5 171.4h0M497.0 195.8h0M540.5 147.6h0M453.1 225.9h0M490.4 149.2h0M513.1 145.7h0M544.7 119.0h0M557.1 183.1h0M451.0 228.7h0M431.3 143.7h0M540.8 196.7h0M464.3 212.5h0M516.3 232.0h0M513.9 198.4h0M545.4 162.1h0M582.6 204.6h0M448.4 161.9h0M552.4 156.7h0M413.4 220.3h0M491.0 177.6h0M521.8 224.0h0M484.3 217.9h0M521.5 184.5h0M462.2 184.0h0M433.1 217.1h0M548.6 216.3h0M405.6 195.9h0M540.8 175.1h0M573.2 223.7h0M538.4 214.2h0M517.2 221.2h0M401.1 199.9h0M529.6 188.7h0M433.4 122.2h0M507.0 214.6h0M432.9 140.0h0M421.9 125.4h0M523.3 232.9h0M551.6 157.9h0M528.6 122.8h0M559.8 153.7h0M372.5 190.8h0M402.8 147.6h0M496.2 212.5h0M380.6 214.9h0M512.9 155.5h0M446.0 183.4h0M420.6 210.8h0M418.6 216.4h0M553.1 179.5h0M378.5 208.9h0M466.8 121.7h0M513.0 202.4h0M502.9 162.8h0M486.6 185.8h0M422.5 219.9h0M478.9 130.3h0M473.5 197.3h0M530.6 169.5h0M448.3 137.2h0M462.1 148.5h0M415.3 203.8h0M487.5 167.5h0M416.0 199.9h0M415.8 146.4h0M497.4 199.5h0M589.9 205.2h0M533.8 201.8h0M374.6 219.4h0M533.6 190.9h0M430.9 157.4h0M408.4 191.1h0M451.4 223.7h0M552.1 169.5h0M406.2 208.9h0M477.4 234.8h0M576.2 211.0h0M478.5 214.3h0M498.1 176.0h0M418.6 144.7h0M376.5 224.9h0M531.0 229.3h0M536.0 160.9h0M553.8 216.6h0M419.7 185.4h0M557.9 209.9h0M571.1 179.2h0M511.8 222.0h0M480.4 192.0h0M417.8 143.7h0M574.9 160.7h0M395.0 186.1h0M474.1 185.4h0M514.4 200.3h0M470.3 122.2h0M534.2 120.6h0M477.3 162.8h0M522.6 201.1h0M425.5 193.2h0M526.9 171.5h0M403.5 224.9h0M506.1 121.7h0M425.2 234.4h0M423.0 161.9h0M548.5 214.5h0M513.9 204.5h0M590.7 211.9h0M425.6 227.5h0M421.0 196.0h0M580.4 191.9h0M541.5 126.7h0M590.0 200.6h0M413.6 212.5h0M408.2 176.5h0M395.4 210.0h0M571.3 225.8h0M372.2 217.9h0M496.4 214.2h0M484.4 189.6h0M505.1 211.5h0M494.0 149.5h0M557.8 213.0h0M474.4 128.9h0M517.5 139.3h0M467.9 127.5h0M590.7 180.6h0M450.8 125.5h0M535.5 217.7h0M454.1 150.9h0M542.7 132.0h0M507.7 233.4h0M527.0 187.0h0M488.4 169.6h0M463.1 188.5h0M517.2 225.8h0M536.0 211.2h0M576.5 216.1h0M532.4 117.7h0M524.4 217.7h0M468.3 221.1h0M412.0 229.0h0M470.8 200.2h0M428.4 150.7h0M449.9 153.6h0M591.7 193.8h0M580.8 207.0h0M540.5 147.5h0M427.7 164.3h0M570.5 226.4h0M445.4 208.0h0M545.5 222.6h0M549.9 178.9h0M395.2 214.7h0M442.1 190.5h0M454.0 179.5h0M490.8 193.3h0M492.5 228.4h0M463.1 225.5h0M526.4 232.0h0M436.2 224.6h0M532.3 234.7h0M411.2 167.4h0M525.8 198.3h0M539.0 205.9h0M427.4 145.4h0M377.9 198.3h0M418.6 145.7h0M588.0 192.5h0M504.3 194.0h0M505.8 198.8h0M439.9 121.8h0M452.8 131.4h0M589.2 197.9h0M433.0 207.9h0M439.7 163.9h0M526.4 168.3h0M535.1 125.6h0M557.6 141.6h0M563.5 212.0h0M522.1 147.9h0M519.6 185.6h0M520.0 136.0h0M518.0 183.5h0M421.8 121.9h0M375.0 218.0h0M400.9 231.5h0M453.3 202.2h0M402.7 210.1h0M428.1 158.7h0M489.0 127.6h0M427.4 211.1h0M435.7 160.5h0M543.2 141.3h0M415.2 140.7h0M457.9 158.6h0M515.6 171.6h0M520.6 216.0h0M470.0 128.1h0M474.9 200.8h0M479.3 135.2h0M423.5 167.7h0M452.7 171.2h0M581.8 181.7h0M538.6 182.7h0M566.9 231.4h0M583.4 178.0h0M425.5 134.8h0M565.6 139.9h0M579.0 170.2h0M535.7 123.1h0M473.3 152.8h0M417.8 194.9h0M452.7 128.6h0M518.2 176.8h0M537.8 179.5h0M424.2 174.9h0M507.4 193.4h0M404.2 212.0h0M583.8 204.3h0M564.0 158.9h0M422.6 187.0h0M470.2 131.1h0M414.7 205.4h0M502.5 228.6h0M461.9 196.9h0M374.5 229.7h0M424.0 172.2h0M486.5 229.7h0M482.1 235.0h0M511.0 140.4h0M558.7 138.6h0M422.5 231.3h0M443.9 163.7h0M448.7 195.6h0M408.1 215.0h0M429.5 169.4h0M497.7 200.8h0M398.7 231.2h0M488.8 184.9h0M424.3 134.4h0M503.0 169.2h0M463.4 222.4h0M520.1 218.9h0M583.0 163.7h0M383.3 225.6h0M436.7 149.3h0M588.6 220.2h0M465.9 178.6h0M562.1 212.5h0M518.3 176.6h0M519.3 185.5h0M551.4 223.6h0M388.8 223.5h0M499.6 136.1h0M526.9 145.2h0M424.8 158.7h0M489.2 196.6h0M388.2 204.4h0M511.7 171.5h0M522.5 211.6h0M523.8 200.5h0M516.9 136.0h0M586.7 209.9h0M423.9 166.5h0M463.5 231.3h0M536.6 157.9h0M520.5 207.6h0M419.9 146.5h0M462.8 165.3h0M389.1 185.0h0M583.1 184.4h0M451.5 199.9h0M469.8 135.4h0M523.3 133.6h0M454.6 231.4h0M543.7 215.9h0M515.7 191.4h0M529.8 231.9h0M415.7 207.5h0M439.2 145.2h0M556.0 187.3h0M562.3 220.8h0M503.8 138.2h0M534.5 147.2h0M410.6 198.9h0M431.2 200.8h0M397.3 228.0h0M446.9 177.7h0M443.5 164.9h0M479.1 145.5h0M511.7 199.0h0M430.7 210.6h0M535.2 155.7h0M482.0 137.0h0M580.1 182.4h0M527.1 161.0h0M532.5 142.0h0M550.5 211.8h0M392.8 185.5h0M414.6 200.3h0M552.0 210.5h0M423.6 125.4h0M520.5 182.9h0M502.4 127.2h0M513.9 143.4h0M429.7 165.7h0M491.3 202.4h0M378.6 202.4h0M421.3 149.5h0M515.2 198.3h0M509.6 224.0h0M417.6 152.0h0M520.3 145.8h0M407.0 141.6h0M544.7 214.9h0M532.4 231.0h0M549.9 151.8h0M442.5 202.0h0M384.2 188.3h0M486.9 132.5h0M580.7 221.0h0M475.3 138.1h0M488.6 158.3h0M532.4 178.6h0M545.6 127.0h0M480.2 144.8h0M521.7 141.1h0M443.1 172.2h0M531.5 208.0h0M455.1 168.5h0M579.8 227.9h0M510.5 126.8h0M473.9 191.7h0M434.2 118.6h0M510.6 150.6h0M387.1 205.6h0M544.6 167.4h0M392.8 231.5h0M543.9 130.5h0M408.5 178.9h0M558.6 134.6h0M410.7 207.3h0M467.2 155.2h0M429.9 204.4h0M571.7 224.3h0M477.7 230.7h0M507.2 149.2h0M476.1 201.4h0M536.3 129.8h0M415.1 230.9h0M395.7 213.2h0M447.7 144.2h0M428.9 171.2h0M563.4 153.2h0M410.5 204.9h0M448.3 136.9h0M465.6 214.2h0M565.3 184.1h0M374.0 207.1h0M507.7 223.7h0M562.0 213.9h0M431.4 158.6h0M455.7 157.1h0M456.5 127.4h0M422.6 225.0h0M463.8 191.6h0M570.7 206.2h0M426.5 226.2h0M535.0 206.1h0M554.1 144.9h0M518.8 160.4h0M560.0 130.3h0M492.6 155.0h0M555.8 156.1h0M561.0 217.4h0M582.1 204.8h0M523.5 193.6h0M382.5 220.2h0M494.6 169.6h0M447.8 209.5h0M547.2 220.1h0M419.7 155.5h0M427.6 126.2h0M550.4 141.7h0M537.9 138.2h0M475.3 163.0h0M551.7 230.4h0M441.2 191.1h0M572.4 171.4h0M573.5 203.5h0M441.6 220.6h0M500.3 126.9h0M503.5 215.2h0M488.0 173.1h0M465.1 221.4h0M521.0 139.4h0M453.0 158.3h0M586.7 198.9h0M399.7 225.5h0M468.7 201.5h0M468.0 125.3h0M489.2 214.1h0M548.6 157.5h0M421.6 204.9h0M551.5 140.7h0M468.9 160.4h0M530.9 227.4h0M416.9 150.8h0M445.5 203.3h0M413.6 180.7h0M483.9 195.6h0M403.8 230.7h0M550.1 136.4h0M575.9 181.3h0M542.1 220.0h0M452.8 226.7h0M484.4 223.6h0M573.7 230.5h0M486.3 227.8h0M497.3 131.5h0M513.2 212.0h0M466.8 187.5h0M429.8 147.7h0M466.0 176.6h0M476.7 125.3h0M532.5 205.3h0M424.9 145.2h0M487.6 135.4h0M506.9 224.3h0M417.0 185.4h0M533.4 205.4h0M531.4 200.7h0M432.8 216.3h0M583.5 168.0h0M550.4 196.7h0M515.0 235.7h0M447.1 207.5h0M426.7 138.3h0M510.4 151.0h0M408.0 140.7h0M442.5 175.6h0M412.9 172.5h0M470.4 232.7h0M480.8 229.3h0M477.4 138.2h0M504.5 131.6h0M529.0 232.0h0M462.2 157.2h0M467.1 156.9h0M526.6 161.8h0M405.9 219.4h0M562.2 202.9h0M451.2 190.9h0M578.1 163.0h0M468.7 150.4h0M496.0 194.9h0M536.6 229.8h0M562.7 210.5h0M504.0 196.6h0M448.0 229.3h0M494.9 163.1h0M573.0 211.7h0M479.3 174.5h0M453.2 223.2h0M450.2 178.9h0M580.2 192.0h0M478.7 154.6h0M458.5 188.3h0M548.0 145.8h0M454.8 161.3h0M453.1 225.4h0M492.6 147.6h0M446.3 214.2h0M407.6 198.2h0M385.0 212.3h0M404.6 141.8h0M536.2 201.9h0M575.9 229.5h0M495.3 226.5h0M391.8 226.9h0M469.1 137.5h0M539.5 218.8h0M458.2 125.4h0M567.5 205.9h0M505.6 233.2h0M530.6 190.9h0M412.3 188.3h0M522.5 232.3h0M452.6 233.4h0M469.1 161.7h0M428.5 142.4h0M530.0 135.4h0M412.1 132.6h0M450.4 203.9h0M524.4 118.1h0M470.3 210.5h0M500.8 169.1h0M569.4 187.3h0M447.3 162.3h0M583.3 218.8h0M576.9 182.4h0M457.7 198.3h0M372.7 211.9h0M548.0 176.8h0M373.0 211.4h0M464.6 195.7h0M499.5 202.9h0M463.4 231.1h0M509.7 152.6h0M456.2 146.8h0M574.4 210.6h0M548.5 214.2h0M593.9 197.9h0M443.1 206.4h0M430.5 188.5h0M407.2 218.6h0M481.3 147.6h0M580.3 206.3h0M405.1 206.8h0M500.3 224.7h0M503.3 166.1h0M546.0 126.6h0M433.7 127.9h0M567.1 167.9h0M534.6 145.3h0M535.5 193.1h0M533.6 140.2h0M518.5 147.9h0M454.8 226.2h0M467.4 183.8h0M553.0 206.5h0M474.0 219.4h0M461.7 229.9h0M477.7 128.5h0M539.7 131.7h0M524.1 120.5h0M593.4 180.0h0M537.8 130.0h0M514.5 159.9h0M427.6 213.4h0M391.2 217.9h0M475.9 171.2h0M532.9 203.0h0M448.7 227.8h0M413.3 130.7h0M554.4 128.7h0M413.4 175.0h0M447.1 134.0h0M580.3 171.8h0M548.0 144.5h0M575.0 188.8h0M589.5 208.1h0M513.2 179.0h0M563.4 168.1h0M393.8 225.5h0M552.4 197.2h0M538.7 142.3h0M475.6 214.4h0M407.7 197.4h0M496.0 163.4h0M477.2 174.2h0M431.8 158.9h0M496.0 206.9h0M503.9 133.8h0M570.4 158.9h0M403.2 185.0h0M494.5 152.3h0M512.9 182.7h0M584.4 197.6h0M453.0 229.8h0M513.9 180.3h0M565.2 195.7h0M452.5 187.8h0M439.1 232.2h0M426.5 232.7h0M495.8 139.1h0M485.5 128.4h0M559.4 195.6h0" stroke="#dda0dd" stroke-width="2.0" stroke-linecap="round" fill="none"/>
<path d="M508.8 228.1h0M455.0 225.5h0M489.8 217.0h0M407.6 217.9h0M392.1 228.7h0M425.3 223.1h0M475.0 162.9h0M511.4 135.3h0M393.8 208.6h0M444.7 199.5h0M502.6 145.4h0M517.1 187.5h0M443.6 225.2h0M489.6 214.5h0M403.8 182.3h0M486.8 188.5h0M454.4 186.7h0M523.3 154.1h0M536.7 154.1h0M449.3 164.2h0M525.0 152.0h0M505.9 218.2h0M462.4 182.3h0M556.7 193.2h0M389.5 198.1h0M456.5 161.3h0M474.3 229.2h0M554.0 204.3h0M541.5 198.0h0M403.1 195.5h0M520.4 205.4h0M505.8 174.8h0M504.1 137.9h0M506.0 152.0h0M452.0 202.4h0M505.9 181.5h0M533.7 159.5h0M558.8 216.0h0M509.0 203.3h0M487.5 233.4h0M380.8 205.2h0M532.1 140.2h0M488.5 206.1h0M441.4 203.1h0M445.2 204.9h0M427.2 233.6h0M390.0 206.4h0M544.9 196.8h0M402.8 222.2h0M515.3 140.4h0M447.9 200.5h0M442.5 222.5h0M553.8 212.9h0M545.0 191.5h0M565.9 197.6h0M561.6 189.1h0M411.1 184.0h0M468.4 164.4h0M446.6 183.1h0M489.5 152.0h0M427.3 182.3h0M472.6 173.2h0M504.7 148.0h0M478.2 157.8h0M525.9 204.0h0M528.1 183.9h0M421.6 228.0h0M474.0 168.5h0M513.6 216.4h0M468.4 207.0h0M443.7 209.5h0M518.6 150.4h0M418.5 212.7h0M502.8 201.0h0M498.9 202.9h0M505.9 232.4h0M532.8 152.8h0M531.1 207.6h0M469.4 167.9h0M425.8 180.6h0M514.3 224.7h0M541.7 221.7h0M459.7 173.5h0M434.6 233.2h0M428.0 227.6h0M542.5 163.8h0M542.3 224.2h0M526.5 168.5h0M395.6 225.5h0M459.7 170.9h0M490.9 155.6h0M446.2 210.2h0M438.4 201.4h0M496.8 148.3h0M375.8 200.8h0M494.1 159.7h0M411.8 220.4h0M553.8 153.2h0M489.1 190.1h0M436.9 197.6h0M492.3 183.1h0M434.1 173.0h0M444.5 225.4h0M394.9 234.5h0M419.8 220.5h0M420.5 191.4h0M531.2 215.5h0M425.6 211.8h0M417.3 195.5h0M527.5 219.0h0M481.5 169.8h0M531.9 139.3h0M423.8 209.3h0M445.6 174.7h0M473.4 159.2h0M512.3 183.7h0M474.0 181.3h0M446.2 221.0h0M413.7 222.8h0M494.8 188.8h0M394.6 198.9h0M478.3 163.4h0M437.5 219.3h0M439.5 173.1h0M504.4 199.8h0M461.1 171.8h0M418.3 213.3h0M463.3 217.8h0M446.8 207.2h0M564.1 201.7h0M507.0 181.7h0M406.4 197.7h0M510.7 155.9h0M500.8 142.7h0M494.5 146.5h0M473.8 161.9h0M468.5 194.6h0M507.6 187.0h0M495.2 212.2h0M486.2 152.0h0M460.3 217.7h0M485.2 209.3h0M444.6 176.4h0M566.0 216.8h0M502.5 139.5h0M517.5 156.9h0M541.1 147.1h0M537.5 184.2h0M374.9 224.1h0M459.8 217.7h0M509.6 185.5h0M544.4 149.9h0M551.7 164.6h0M496.7 141.0h0M427.5 227.4h0M553.0 222.0h0M531.1 158.3h0M557.3 215.6h0M518.4 152.6h0M390.0 227.9h0M482.3 194.1h0M544.4 143.5h0M511.8 178.1h0M529.1 177.2h0M411.1 231.3h0M428.0 208.4h0M538.2 154.8h0M510.9 170.8h0M473.8 182.1h0M377.0 209.4h0M521.0 222.6h0M441.3 207.1h0M503.5 171.9h0M555.7 179.0h0M473.2 213.0h0M411.3 206.0h0M442.5 215.7h0M499.0 180.1h0M447.2 190.5h0M372.1 214.3h0M422.6 217.7h0M482.3 193.0h0M497.1 141.5h0M527.4 159.5h0M544.5 212.9h0M507.5 216.0h0M459.2 200.7h0M416.0 221.6h0M408.3 190.4h0M409.7 179.3h0M479.4 175.5h0M472.6 218.4h0M375.0 228.4h0M525.4 189.6h0M479.4 151.5h0M528.1 161.1h0M517.3 152.7h0M486.4 198.0h0M446.1 179.8h0M384.8 197.5h0M510.2 144.6h0M482.0 207.2h0M392.0 218.6h0M469.7 155.0h0M431.8 177.8h0M446.1 213.2h0M516.5 140.3h0M511.3 212.3h0M379.0 209.7h0M454.2 228.6h0M386.3 230.4h0M474.3 175.6h0M459.2 211.0h0M538.1 179.4h0M550.2 172.0h0M504.1 188.4h0M464.1 190.1h0M420.8 188.2h0M544.9 136.6h0M445.6 223.1h0M497.3 196.3h0M540.6 178.8h0M514.5 206.7h0M412.7 197.4h0M503.2 199.0h0M436.8 192.5h0M506.0 159.0h0M530.1 161.0h0M481.0 215.3h0M394.8 207.0h0M385.3 229.1h0M376.7 206.2h0M450.8 182.1h0M476.4 160.4h0M501.1 217.9h0M450.5 209.6h0M546.7 149.9h0M459.9 210.4h0M475.7 173.9h0M559.7 224.9h0M419.4 188.6h0M460.7 226.9h0M432.3 191.3h0M514.0 134.8h0M432.1 205.3h0M536.2 173.0h0M539.9 133.1h0M520.4 138.5h0M491.4 221.2h0M510.6 191.5h0M516.1 158.0h0M489.0 160.3h0M426.7 197.4h0M388.8 214.5h0M394.7 182.9h0M472.6 205.7h0M446.6 172.5h0M550.5 157.6h0M568.2 224.4h0M423.2 215.9h0M494.3 150.0h0M533.9 188.3h0M387.6 221.2h0M495.1 148.9h0M464.3 205.1h0M390.9 199.4h0M501.8 202.2h0M456.8 168.5h0M511.1 208.0h0M501.9 171.5h0M485.8 183.7h0M409.3 230.5h0M565.0 212.0h0M539.8 154.0h0M520.5 205.2h0M559.7 218.0h0M547.8 156.9h0M529.4 179.3h0M531.7 219.0h0M540.9 200.3h0M485.5 150.9h0M402.7 205.4h0M416.5 219.6h0M437.6 219.7h0M458.9 169.0h0M374.2 221.0h0M391.6 204.7h0M488.3 182.4h0M569.9 223.8h0M396.7 219.6h0M375.9 204.8h0M533.9 203.1h0M481.8 215.8h0M402.6 186.3h0M410.0 204.5h0M486.5 212.2h0M497.5 192.7h0M556.4 215.7h0M485.2 163.2h0M557.5 168.1h0M513.2 228.6h0M501.0 199.6h0M559.4 212.0h0M460.9 177.9h0M523.9 162.3h0M393.7 194.9h0M533.7 154.8h0M508.6 224.4h0M470.4 164.1h0M461.0 213.7h0M498.2 146.7h0M454.2 231.1h0M454.6 219.8h0M527.9 191.3h0M470.1 170.7h0M501.0 182.6h0M436.4 193.5h0M456.4 218.3h0M511.5 232.3h0M539.3 191.3h0M480.3 168.6h0M470.2 171.7h0M392.2 207.0h0M532.0 192.6h0M394.9 192.7h0M523.6 132.9h0M547.7 199.8h0M427.1 227.4h0M537.2 224.7h0M421.3 190.3h0M524.2 194.6h0M438.2 186.6h0M557.6 189.2h0M554.7 189.1h0M463.8 187.6h0M517.3 232.6h0M496.5 179.6h0M498.7 185.6h0M512.9 230.3h0M530.0 131.3h0M501.5 214.4h0M417.1 204.1h0M477.6 193.4h0M436.9 191.4h0M562.9 212.2h0M475.1 169.7h0M441.0 214.8h0M406.7 188.3h0M526.7 229.0h0M470.5 229.1h0M404.4 218.8h0M451.3 187.2h0M512.1 190.7h0M396.1 214.6h0M536.0 216.6h0M415.1 229.5h0M534.0 152.7h0M371.9 221.7h0M537.2 138.5h0M525.2 211.5h0M498.6 217.9h0M538.7 227.5h0M434.5 201.8h0M508.8 219.7h0M485.2 157.8h0M422.1 186.6h0M398.8 220.8h0M549.8 154.2h0M511.4 200.7h0M396.1 212.1h0M525.2 161.1h0M526.3 178.4h0M535.0 145.2h0M547.9 145.5h0M386.4 209.3h0M390.0 200.1h0M504.6 222.3h0M453.7 176.6h0M420.2 213.2h0M514.8 212.7h0M478.2 203.5h0M519.8 151.1h0M544.8 197.0h0M468.0 169.0h0M556.3 229.5h0M461.8 189.2h0M544.5 155.7h0M472.2 211.0h0M448.3 218.7h0M550.4 168.6h0M396.4 196.7h0M520.0 227.7h0M503.9 161.2h0M474.8 159.1h0M461.0 178.6h0M554.4 225.8h0M557.2 179.6h0M556.2 197.1h0M546.5 172.6h0M541.5 216.5h0M446.7 217.5h0M414.5 209.3h0M465.5 172.4h0M411.1 214.4h0M518.1 137.6h0M446.9 172.8h0M487.2 224.1h0M561.0 196.4h0M488.5 176.3h0M442.0 173.2h0M406.1 229.4h0M490.1 186.6h0M434.9 181.3h0M461.1 233.8h0M484.5 150.4h0M441.0 212.5h0M549.8 153.5h0M528.0 175.7h0M479.4 185.6h0M505.4 202.4h0M447.9 227.3h0M535.9 160.6h0M502.8 152.2h0M378.5 207.6h0M497.0 158.2h0M535.1 177.0h0M515.0 165.5h0M533.3 192.4h0M502.7 170.4h0M484.2 148.6h0M566.7 200.6h0M478.4 197.0h0M417.9 219.1h0M545.7 212.5h0M515.7 160.6h0M418.2 204.1h0M431.5 206.1h0M441.8 210.1h0M486.5 216.1h0M480.9 169.9h0M525.9 162.0h0M413.4 212.7h0M481.9 209.6h0M526.2 151.6h0M423.6 199.9h0M524.8 196.7h0M460.5 207.1h0M505.7 150.2h0M478.9 192.6h0M517.7 149.4h0M517.8 190.4h0M406.3 207.0h0M395.1 209.1h0M422.1 183.6h0M425.8 223.5h0M521.9 203.1h0M484.1 155.5h0M561.9 231.3h0M457.9 225.0h0M376.5 218.3h0M551.9 157.4h0M487.5 176.2h0M432.8 184.8h0M526.8 206.2h0M440.5 227.1h0M530.2 188.7h0M467.0 163.6h0M398.6 223.6h0M557.1 223.8h0M378.4 203.7h0M419.4 185.8h0M538.8 165.9h0M471.5 199.9h0M410.2 195.7h0M456.9 234.1h0M409.3 204.8h0M530.9 138.4h0M496.5 221.0h0M524.9 178.8h0M451.4 231.4h0M440.6 232.4h0M550.2 149.6h0M481.0 229.7h0M395.2 219.7h0M526.8 208.9h0M528.6 206.1h0M435.3 201.9h0M453.9 209.1h0M380.4 228.8h0M448.7 214.7h0M466.2 215.7h0M432.0 186.9h0M387.6 220.8h0M507.4 173.9h0M512.7 206.6h0M556.8 175.4h0M490.9 216.0h0M551.5 199.8h0M454.5 230.2h0M383.1 235.8h0M392.6 231.0h0M540.2 207.0h0M380.2 203.1h0M470.4 181.1h0M400.8 183.3h0M532.3 142.2h0M547.2 173.4h0M463.8 197.9h0M485.8 224.1h0M474.1 183.4h0M556.1 180.3h0M547.7 203.3h0M517.9 209.9h0M432.1 206.7h0M413.0 187.9h0M490.9 211.8h0M536.8 214.9h0M516.7 208.5h0M501.5 212.2h0M475.0 188.7h0M556.2 198.0h0M503.1 191.6h0M470.6 209.7h0M457.0 173.5h0M458.3 188.6h0M444.2 170.2h0M457.2 168.1h0M375.1 205.9h0M450.9 176.5h0M490.2 167.6h0M546.7 229.4h0M429.0 178.2h0M550.5 218.3h0M511.5 214.0h0M465.8 169.8h0M418.5 214.2h0M544.7 220.7h0M394.6 192.1h0M383.8 207.0h0M385.4 215.4h0M505.0 179.1h0M550.3 228.7h0M489.6 173.5h0M421.7 228.3h0M518.0 141.1h0M486.5 163.1h0M459.8 215.8h0M408.1 205.8h0M437.9 230.0h0M453.9 195.3h0M499.5 165.0h0M433.0 194.8h0M552.1 183.6h0M422.7 191.3h0M426.9 212.5h0M459.6 226.1h0M438.2 170.7h0M523.9 171.6h0M466.9 170.8h0M526.8 225.5h0M456.9 227.5h0M421.9 233.6h0M476.9 201.7h0M398.8 223.6h0M443.7 203.5h0M464.0 184.9h0M439.1 201.6h0M514.1 174.8h0M414.1 216.9h0M481.9 163.3h0M530.1 213.2h0M511.5 223.6h0M502.7 140.3h0M423.4 185.1h0M536.4 191.3h0M568.3 209.4h0M541.5 140.7h0M502.5 166.5h0M549.8 160.1h0M500.5 201.6h0M389.1 234.4h0M380.4 194.1h0M459.0 228.5h0M497.8 199.0h0M546.8 140.0h0M474.6 179.4h0M482.6 206.5h0M550.8 178.6h0M380.1 217.7h0M400.4 193.0h0M528.3 141.9h0M430.7 219.9h0M509.7 139.7h0M509.2 213.8h0M503.7 162.5h0M448.8 187.6h0M482.3 171.6h0M532.0 137.5h0M437.8 228.8h0M544.8 227.4h0M525.0 185.9h0M529.4 189.8h0M391.2 222.5h0M436.2 172.0h0M513.1 213.9h0M531.2 223.2h0M524.2 202.9h0M402.5 217.8h0M464.0 215.7h0M474.5 208.5h0M548.5 166.2h0M510.6 171.6h0M544.3 210.1h0M482.9 167.2h0M426.5 223.6h0M532.1 161.0h0M533.9 185.1h0M482.7 186.3h0M453.9 188.2h0M389.7 227.3h0M506.4 197.2h0M533.3 202.8h0M527.7 144.5h0M478.1 211.2h0M403.0 185.0h0M552.1 208.7h0M451.4 179.7h0M427.4 231.7h0M528.5 201.5h0M432.6 207.0h0M469.2 214.2h0M444.6 223.2h0M508.8 176.7h0M484.4 214.9h0M477.7 231.7h0M373.1 224.9h0M514.7 180.9h0M541.9 144.1h0M439.3 205.1h0M536.6 168.3h0M387.0 189.6h0M553.8 218.5h0M483.6 176.0h0M433.5 193.1h0M441.2 233.4h0M563.2 206.5h0M537.1 136.1h0M569.2 218.1h0M477.5 160.5h0M506.7 188.6h0M491.3 160.4h0M518.9 202.4h0M514.8 178.9h0M464.6 158.9h0M495.1 148.1h0M544.0 222.9h0M542.7 216.1h0M426.0 207.7h0M441.7 192.5h0M394.2 219.1h0M439.4 226.1h0M406.9 232.3h0M489.8 217.2h0M478.8 231.4h0M484.0 166.9h0M487.4 228.9h0M561.4 222.7h0M423.1 216.7h0M445.3 190.8h0M419.1 204.5h0M502.4 138.3h0M511.2 165.6h0M463.6 213.8h0M566.0 228.1h0M478.4 157.7h0M518.0 200.3h0M540.5 172.2h0M483.7 219.7h0M411.6 220.8h0M556.4 175.5h0M490.2 174.3h0M514.6 142.2h0M422.9 215.2h0M544.3 223.2h0M522.8 192.7h0M510.8 139.6h0M435.0 179.3h0M512.0 163.0h0M531.2 147.9h0M392.0 195.7h0M462.4 227.2h0M392.8 208.6h0M505.9 168.0h0M397.4 194.1h0M523.6 179.0h0M466.3 202.1h0M493.8 173.7h0M481.8 224.8h0M498.0 207.8h0M421.3 202.6h0M502.3 221.6h0M433.0 179.5h0M520.9 196.1h0M557.9 200.3h0M498.4 149.8h0M543.2 172.7h0M495.9 186.5h0M424.4 212.2h0M435.9 223.3h0M431.6 193.8h0M533.7 139.8h0M527.8 170.2h0M476.7 173.5h0M555.8 227.1h0M519.1 203.6h0M538.1 200.7h0M498.0 161.8h0M425.2 227.5h0M385.2 233.6h0M552.6 216.0h0M394.1 206.4h0M533.8 213.3h0M530.3 141.0h0M540.4 217.6h0M475.1 153.3h0M543.3 141.0h0M526.2 214.6h0M526.8 228.1h0M522.0 152.4h0M512.3 184.2h0M525.4 164.3h0M454.5 208.4h0M512.4 223.9h0M433.6 219.6h0M519.4 189.9h0M453.4 189.2h0M381.5 205.4h0M518.2 194.5h0M412.9 206.0h0M537.1 194.9h0M417.3 189.0h0M401.5 221.4h0M498.4 228.7h0M432.2 186.3h0M468.2 226.2h0M487.4 196.9h0M488.9 212.8h0M568.1 213.6h0M416.2 199.1h0M436.6 172.8h0M375.5 218.4h0M519.6 181.2h0M552.1 177.4h0M412.8 216.6h0M550.3 141.2h0M472.1 188.6h0M495.5 200.7h0M497.6 195.0h0M374.9 218.5h0M544.9 225.7h0M386.9 211.1h0M411.8 220.9h0M535.8 217.9h0M448.1 229.1h0M423.8 190.0h0M506.6 153.2h0M531.3 147.9h0M499.9 196.8h0M476.8 220.2h0M522.4 150.7h0M549.3 198.9h0M490.2 185.2h0M485.1 192.9h0M387.8 211.5h0M419.8 191.6h0M477.8 164.7h0M456.5 186.3h0M525.8 186.2h0M515.3 196.9h0M523.9 151.4h0M485.6 175.5h0M418.0 212.4h0M416.0 204.7h0M469.7 174.1h0M513.2 206.3h0M531.9 156.5h0M505.7 181.5h0M465.9 185.5h0M441.4 182.0h0M477.9 170.0h0M483.7 232.8h0M435.7 208.2h0M470.5 214.0h0M451.7 169.6h0M487.0 232.1h0M500.3 192.2h0M537.6 164.1h0M378.9 231.4h0M478.7 190.9h0M385.0 208.5h0M446.6 197.4h0M428.5 227.2h0M550.7 152.0h0M426.0 180.6h0M413.8 213.9h0M528.5 205.0h0M530.6 140.7h0M549.9 166.6h0M534.8 178.9h0M550.2 179.6h0M404.6 222.5h0M486.6 221.2h0M401.9 179.9h0M424.5 227.6h0M516.6 183.0h0M493.8 221.0h0M562.7 192.2h0M381.8 222.2h0M399.1 183.3h0M488.4 177.7h0M515.5 186.1h0M433.6 218.0h0M559.8 227.6h0M449.5 176.6h0M423.1 208.3h0M473.1 232.5h0M549.7 176.7h0M475.4 212.9h0M522.0 173.7h0M547.5 152.6h0M515.3 131.7h0M475.0 186.3h0M391.3 190.6h0M461.0 163.4h0M538.0 202.7h0M499.2 232.6h0M565.7 221.4h0M396.6 213.5h0M524.4 179.1h0M397.7 193.9h0M496.7 220.6h0M424.6 221.6h0M394.0 213.6h0M551.3 188.7h0M493.2 194.3h0M526.1 183.9h0M502.5 136.6h0M531.2 187.0h0M443.2 232.1h0M488.1 153.8h0M485.0 220.4h0M445.5 174.9h0M499.6 147.6h0M488.3 162.7h0M466.5 205.0h0M434.6 192.7h0M536.1 178.5h0M497.8 159.2h0M423.0 183.1h0M478.4 152.1h0M524.9 182.0h0M539.3 225.4h0M386.0 196.2h0M376.7 220.5h0M507.7 164.4h0M460.1 201.8h0M529.3 201.5h0M378.0 197.1h0M486.4 227.8h0M482.7 227.2h0M465.6 183.9h0M428.0 178.1h0M559.3 180.7h0M411.3 195.3h0M473.7 179.4h0M557.4 210.3h0M512.1 192.5h0M502.4 182.0h0" stroke="#dda0dd" stroke-width="2.0" stroke-linecap="round" fill="none"/>
<path d="M588.8 202.7h0M591.8 198.4h0M580.4 218.3h0M587.7 182.9h0M594.0 203.9h0M577.3 170.8h0M566.6 168.3h0M572.4 160.5h0M580.9 206.1h0M591.8 215.4h0M575.9 228.1h0M573.6 163.2h0M583.0 170.2h0M595.3 198.0h0M591.7 194.4h0M566.4 207.3h0M583.2 192.0h0M564.1 188.9h0M583.4 174.4h0M581.0 162.1h0M565.4 163.5h0M573.4 223.1h0M582.9 204.2h0M573.2 207.5h0M575.0 170.9h0M582.6 166.8h0M577.0 195.8h0M583.2 194.4h0M568.9 199.0h0M591.9 206.7h0M580.6 203.0h0M584.6 177.3h0M588.7 198.2h0M585.3 220.8h0M563.2 188.2h0M567.9 162.9h0M590.5 209.1h0M573.6 198.4h0M567.7 209.2h0M575.5 194.8h0M563.4 173.9h0M581.5 182.9h0M574.6 164.9h0M567.8 162.7h0M574.1 229.7h0M585.5 184.7h0M593.8 206.1h0M569.1 189.3h0M578.8 197.0h0M566.4 157.7h0M586.3 206.2h0M580.8 162.6h0M568.0 192.9h0M579.9 161.7h0M576.7 213.1h0M583.5 198.6h0M588.3 218.3h0M579.7 207.8h0M559.8 182.7h0M586.4 179.1h0M554.7 181.9h0M567.8 186.5h0M589.6 197.5h0M579.7 190.4h0M572.2 229.7h0M564.2 196.9h0M573.1 167.7h0M587.1 189.8h0M558.4 176.8h0M570.5 214.4h0M571.1 188.8h0M569.7 196.6h0M560.4 167.1h0M576.1 183.7h0M581.8 184.7h0M592.8 179.8h0M571.0 181.1h0M575.5 178.4h0M581.5 188.3h0M583.2 179.2h0M572.1 199.3h0M583.6 206.6h0M570.9 163.5h0M556.9 168.1h0M560.1 170.9h0M581.1 182.9h0M592.0 174.8h0M562.8 170.9h0M577.5 176.1h0M587.7 208.3h0M570.9 203.2h0M580.9 190.5h0M556.0 184.7h0M593.6 185.4h0M580.1 163.7h0M586.1 222.7h0M568.4 185.3h0M574.6 176.2h0M561.2 166.8h0M582.2 195.7h0M590.4 203.8h0M579.3 190.2h0M570.7 168.1h0M576.1 177.9h0M577.3 223.6h0M564.9 200.8h0M576.4 181.7h0M575.0 219.2h0M560.9 171.1h0M583.2 194.8h0M593.4 186.7h0M576.5 188.9h0M574.2 160.3h0M590.8 201.0h0M567.3 178.6h0M589.0 185.8h0M578.5 199.0h0M560.8 159.5h0M584.4 169.4h0M576.9 158.3h0M580.8 203.6h0M575.0 158.0h0M594.2 194.1h0M588.7 193.2h0M561.5 187.9h0M579.2 211.1h0M593.8 179.4h0M582.1 187.2h0M585.6 202.6h0M581.9 220.8h0M587.3 191.5h0M569.4 217.5h0M580.8 198.0h0M561.9 167.2h0M585.2 208.5h0M570.1 202.3h0M576.3 229.1h0M574.3 198.0h0M572.3 188.3h0M582.4 165.5h0M582.5 227.6h0M585.5 198.3h0M567.6 164.4h0M587.5 193.5h0M589.8 171.2h0M566.8 196.1h0M584.0 191.1h0M569.2 188.9h0M561.8 193.7h0M583.1 184.5h0M581.1 194.5h0M564.7 198.5h0M554.8 172.6h0M574.8 160.2h0M564.0 195.8h0M559.7 180.3h0M591.8 190.8h0M562.3 202.4h0M580.5 163.7h0M576.1 180.5h0M584.8 203.8h0M592.0 203.1h0M560.1 171.1h0M583.0 218.6h0M564.4 192.5h0M590.4 199.5h0M584.7 215.1h0M564.2 204.0h0M568.5 193.0h0M575.3 207.7h0M559.1 180.8h0M560.8 159.7h0M585.5 169.3h0M557.5 184.2h0M567.2 213.1h0M573.7 230.4h0M589.1 170.0h0M576.9 197.0h0M559.5 181.4h0M561.7 171.9h0M579.0 181.7h0M585.8 200.6h0M589.3 195.6h0M579.8 175.1h0M582.6 187.9h0M583.7 201.4h0M558.2 179.9h0M579.8 198.5h0M583.4 182.0h0M573.0 193.2h0M585.0 162.5h0M574.4 176.7h0M577.9 176.7h0M561.1 174.6h0M591.4 184.6h0M590.7 212.9h0M563.8 199.1h0M579.8 165.6h0M574.8 194.6h0M581.5 179.0h0M592.0 204.3h0M590.9 180.1h0M583.3 222.4h0M588.8 175.9h0M587.3 209.2h0M572.5 225.5h0M594.2 200.6h0M584.3 208.0h0M569.6 194.9h0M574.3 173.4h0M589.2 210.0h0M582.3 195.8h0M577.2 207.6h0M572.6 162.9h0M568.4 191.2h0M593.8 198.4h0M582.0 165.4h0M552.2 177.1h0M581.8 171.6h0M583.3 181.2h0M575.2 162.8h0M588.6 216.8h0M577.6 209.5h0M567.0 166.7h0M566.3 213.2h0M576.8 167.2h0M562.6 193.1h0M571.8 167.2h0M585.0 217.4h0M565.9 198.2h0M565.6 189.0h0M565.9 206.5h0M590.8 209.4h0M583.8 195.5h0M578.3 216.7h0M586.2 208.1h0M563.8 203.2h0M569.5 191.6h0M575.7 201.7h0M591.2 178.4h0M564.1 171.0h0M554.9 176.0h0M574.1 158.2h0M563.2 192.9h0M582.0 168.7h0M557.4 182.1h0M556.0 166.3h0M587.4 221.1h0M580.6 179.8h0M581.6 174.6h0M573.0 173.1h0M590.3 204.9h0M582.4 204.2h0M586.3 196.1h0M578.0 194.4h0M585.2 197.5h0M564.2 196.2h0M574.9 223.2h0M583.7 172.9h0M574.4 201.3h0M577.5 192.0h0M574.4 209.3h0M590.8 196.2h0M586.5 208.7h0M557.3 176.7h0M565.8 183.9h0M573.6 179.4h0M568.3 210.2h0M579.7 229.9h0M587.4 181.3h0M570.3 183.6h0M572.4 212.3h0M585.7 170.4h0M568.2 157.5h0" stroke="#dda0dd" stroke-width="2.0" stroke-linecap="round" fill="none"/>
<polyline points="572.5,232.0 572.2,215.3 571.4,199.5 570.0,185.2 568.2,173.4 566.0,164.4 563.6,158.9 561.0,157.0 558.4,158.9 556.0,164.4 553.8,173.4 552.0,185.2 550.6,199.5 549.8,215.3 549.5,232.0" fill="none" stroke="#dda0dd" stroke-width="1.9" stroke-linecap="round" stroke-linejoin="round" stroke-dasharray="0 2.4"/>
<polyline points="577.1,232.0 576.8,216.1 576.0,201.0 574.6,187.4 572.8,176.1 570.6,167.6 568.2,162.3 565.6,160.5 563.0,162.3 560.6,167.6 558.4,176.1 556.6,187.4 555.2,201.0 554.4,216.1 554.1,232.0" fill="none" stroke="#dda0dd" stroke-width="1.9" stroke-linecap="round" stroke-linejoin="round" stroke-dasharray="0 2.4"/>
<polyline points="581.7,232.0 581.4,216.9 580.6,202.5 579.2,189.6 577.4,178.8 575.2,170.7 572.8,165.7 570.2,164.0 567.6,165.7 565.2,170.7 563.0,178.8 561.2,189.6 559.8,202.5 559.0,216.9 558.7,232.0" fill="none" stroke="#dda0dd" stroke-width="1.9" stroke-linecap="round" stroke-linejoin="round" stroke-dasharray="0 2.4"/>
<polyline points="586.3,232.0 586.0,217.6 585.2,204.0 583.8,191.8 582.0,181.6 579.8,173.9 577.4,169.1 574.8,167.5 572.2,169.1 569.8,173.9 567.6,181.6 565.8,191.8 564.4,204.0 563.6,217.6 563.3,232.0" fill="none" stroke="#dda0dd" stroke-width="1.9" stroke-linecap="round" stroke-linejoin="round" stroke-dasharray="0 2.4"/>
<polyline points="590.9,232.0 590.6,218.4 589.8,205.5 588.4,194.0 586.6,184.3 584.4,177.0 582.0,172.5 579.4,171.0 576.8,172.5 574.4,177.0 572.2,184.3 570.4,194.0 569.0,205.5 568.2,218.4 567.9,232.0" fill="none" stroke="#dda0dd" stroke-width="1.9" stroke-linecap="round" stroke-linejoin="round" stroke-dasharray="0 2.4"/>
<polyline points="595.5,232.0 595.2,219.2 594.4,207.1 593.0,196.1 591.2,187.0 589.0,180.2 586.6,175.9 584.0,174.5 581.4,175.9 579.0,180.2 576.8,187.0 575.0,196.1 573.6,207.1 572.8,219.2 572.5,232.0" fill="none" stroke="#dda0dd" stroke-width="1.9" stroke-linecap="round" stroke-linejoin="round" stroke-dasharray="0 2.4"/>
<polyline points="600.1,232.0 599.8,220.0 599.0,208.6 597.6,198.3 595.8,189.8 593.6,183.3 591.2,179.4 588.6,178.0 586.0,179.4 583.6,183.3 581.4,189.8 579.6,198.3 578.2,208.6 577.4,220.0 577.1,232.0" fill="none" stroke="#dda0dd" stroke-width="1.9" stroke-linecap="round" stroke-linejoin="round" stroke-dasharray="0 2.4"/>
<path d="M430.0 177.1h0M509.8 168.1h0M563.4 206.6h0M480.4 160.9h0M489.0 162.9h0M564.3 213.8h0M528.3 178.7h0M523.2 172.1h0M427.1 173.1h0M549.6 184.5h0M555.3 206.4h0M468.8 159.5h0M415.6 180.7h0M448.5 169.8h0M562.2 203.3h0M477.6 162.6h0M371.7 188.8h0M475.9 159.3h0M452.0 164.0h0M565.5 210.7h0M389.6 189.0h0M560.2 229.1h0M558.3 191.0h0M550.1 184.5h0M545.3 199.8h0M561.5 229.6h0M554.5 204.4h0M561.2 227.7h0M397.6 178.7h0M562.3 231.3h0M412.7 176.3h0M468.1 167.6h0M561.9 201.1h0M556.8 207.3h0M559.9 203.2h0M424.2 176.9h0M425.2 178.7h0M540.3 174.5h0M393.9 180.6h0M398.2 189.8h0M563.5 231.3h0M550.5 210.0h0M541.3 187.4h0M564.2 214.4h0M468.5 163.9h0M558.1 216.1h0M548.4 200.5h0M455.2 166.0h0M514.7 173.5h0M549.3 196.9h0M548.3 186.3h0M415.1 176.1h0M436.2 177.0h0M433.3 176.1h0M504.5 168.4h0M515.2 167.2h0M508.6 169.2h0M452.9 161.2h0M389.1 183.7h0M389.8 187.0h0M423.8 176.1h0M490.2 160.7h0M557.5 211.8h0M544.7 181.4h0M460.5 169.1h0M545.4 181.6h0M540.0 185.9h0M392.6 184.8h0M548.6 181.7h0M503.9 164.2h0M559.3 224.2h0M500.7 165.9h0M567.1 227.4h0M492.2 163.0h0M507.8 169.6h0M444.3 169.7h0M462.2 167.7h0M465.8 164.5h0M515.8 173.2h0M461.2 161.0h0M522.3 172.0h0M484.2 160.3h0M395.2 182.5h0M531.7 177.2h0M550.8 180.8h0M561.3 201.3h0M564.6 224.2h0M475.0 168.0h0M405.6 179.1h0M563.0 230.4h0M522.9 178.1h0M548.4 208.0h0M520.4 176.5h0M444.0 170.9h0M546.9 181.2h0M545.9 202.5h0M453.8 162.0h0M532.1 176.5h0M459.8 159.3h0M495.9 163.1h0M415.9 178.4h0M507.6 165.6h0M555.1 209.6h0M543.6 184.9h0M506.6 170.4h0M552.9 184.9h0M560.6 200.1h0M556.3 209.7h0M494.3 167.6h0M551.3 208.0h0M375.9 187.4h0M549.7 188.2h0M459.2 159.3h0M429.1 173.2h0M511.3 169.6h0M564.8 213.8h0M513.5 168.5h0M549.3 182.2h0M487.3 163.2h0M556.6 219.2h0M554.0 185.6h0M527.6 176.0h0M562.2 232.1h0M451.3 162.0h0M434.4 171.1h0M499.7 165.4h0M449.0 168.2h0M542.1 188.0h0M557.2 232.0h0M525.3 176.4h0M518.7 170.5h0M503.9 167.5h0M554.6 207.8h0M506.5 173.6h0M563.2 226.1h0M468.8 168.0h0M543.1 184.9h0M512.9 173.7h0M457.5 168.6h0M544.4 178.7h0M433.4 175.6h0M544.7 188.9h0M425.5 175.8h0M453.8 168.2h0M556.1 201.9h0M457.9 169.2h0M525.0 174.7h0M483.9 167.3h0M546.7 178.7h0M422.4 179.8h0M536.9 180.5h0M553.7 189.9h0M460.5 169.7h0M561.8 230.1h0M551.9 219.3h0M564.5 218.8h0M556.5 230.8h0M372.5 186.5h0M538.1 181.9h0M427.6 179.6h0M441.3 171.1h0M506.5 166.2h0M381.8 188.2h0M565.0 218.9h0M485.5 164.8h0M410.4 175.9h0M449.6 163.5h0M547.6 186.6h0M556.7 211.6h0M560.8 230.7h0M568.8 226.0h0M551.7 189.7h0M553.9 217.6h0M508.6 169.5h0M474.9 166.7h0M419.6 175.1h0M556.6 216.2h0M488.0 163.8h0M428.3 180.3h0M563.1 209.2h0M558.7 213.8h0M551.4 204.5h0M547.0 192.2h0M530.7 173.3h0M392.4 186.3h0M564.4 211.8h0M447.6 163.0h0M565.3 226.5h0M483.3 165.8h0M462.9 167.0h0M568.1 226.1h0M543.8 196.2h0M527.2 174.2h0M416.7 180.0h0M545.0 185.8h0M506.2 168.9h0M560.7 227.8h0M538.1 182.0h0M377.9 185.7h0M559.6 217.1h0M459.2 162.5h0M416.0 175.6h0M491.4 163.8h0M506.6 166.7h0M560.6 204.1h0M384.2 185.8h0M417.9 177.5h0M553.6 211.8h0M517.2 168.3h0M514.8 174.2h0M553.0 222.5h0M553.0 219.2h0M514.0 175.5h0M499.0 167.5h0M549.8 209.4h0M546.8 182.5h0M468.8 158.2h0M505.4 169.3h0M457.0 170.2h0M393.1 184.0h0M471.9 163.4h0M488.7 166.8h0M496.9 163.3h0M511.3 167.7h0M553.0 199.0h0M561.0 213.1h0M494.1 161.6h0M549.0 210.6h0M551.6 203.6h0M519.5 176.1h0M547.9 188.3h0M376.3 188.7h0M542.0 189.0h0M549.9 214.4h0M565.4 228.9h0M558.0 205.2h0M553.0 213.5h0M447.2 172.3h0M548.3 207.4h0M500.4 161.5h0M491.6 167.6h0M487.3 167.5h0M531.9 174.8h0M470.2 157.4h0M507.3 173.8h0M393.7 186.8h0M535.9 177.4h0M437.0 168.4h0M394.9 188.8h0M555.8 216.4h0M548.4 183.8h0M548.4 189.0h0M432.4 176.6h0M496.8 170.0h0M469.1 161.4h0M524.3 172.6h0M553.0 197.5h0M425.6 174.8h0M541.3 190.2h0M561.4 213.3h0M472.5 161.1h0M437.5 167.0h0M464.5 166.7h0M459.2 162.4h0M465.7 168.3h0M550.5 198.3h0M560.9 209.5h0M419.3 177.2h0M454.7 169.9h0M548.0 203.7h0M539.1 175.9h0M557.4 192.4h0M511.9 174.0h0M554.8 198.3h0M553.6 200.4h0M417.2 178.3h0M488.9 168.1h0M446.3 167.9h0M497.7 160.7h0M552.9 192.6h0M555.6 216.4h0M505.2 172.9h0M395.0 183.0h0M566.4 214.6h0M564.4 227.8h0M529.1 170.6h0M439.9 172.3h0M376.8 189.5h0M395.7 184.5h0M557.7 189.6h0M453.2 171.4h0M548.4 178.9h0M467.2 157.9h0M549.0 209.5h0M551.7 184.2h0M456.3 166.2h0M556.5 195.5h0M541.3 177.7h0M539.8 175.7h0M549.9 181.0h0M548.6 181.0h0M507.3 169.0h0M462.9 165.8h0M434.0 172.7h0M396.5 184.6h0M519.5 172.7h0M504.2 170.1h0M567.3 217.5h0M473.5 162.7h0M558.1 193.7h0M567.4 228.6h0M498.1 166.8h0M549.3 182.3h0M494.2 164.7h0M560.4 197.7h0M504.4 168.5h0M475.4 167.2h0M556.4 226.8h0M564.5 209.6h0M392.6 183.4h0M557.5 217.0h0M448.9 162.7h0M554.0 207.0h0M494.8 166.7h0M536.4 172.9h0M540.2 185.9h0M541.2 175.1h0M416.0 176.7h0M553.6 200.1h0M460.2 159.2h0M468.2 161.1h0M548.4 203.9h0M555.5 207.0h0M547.2 194.2h0M565.3 212.8h0M443.0 165.3h0M565.2 224.6h0M423.8 174.8h0M509.2 172.8h0M519.1 169.9h0M545.9 180.7h0M436.6 170.3h0M412.1 180.9h0M490.0 164.2h0M396.2 185.7h0M553.2 216.2h0M438.3 166.1h0M383.9 189.4h0M508.7 164.9h0M446.6 166.3h0M557.9 223.5h0M457.0 169.7h0M514.9 169.8h0M556.7 189.4h0M437.0 176.2h0M559.5 232.6h0M558.8 230.5h0M494.6 163.2h0M477.7 166.8h0M544.5 194.1h0M403.8 177.4h0M480.6 158.4h0M475.5 164.5h0M521.2 169.3h0M496.3 171.1h0M381.1 187.9h0M435.6 171.6h0M497.1 167.9h0M501.4 166.8h0M480.6 165.8h0M553.7 216.2h0M461.8 167.6h0M531.7 172.7h0M515.5 168.4h0M431.3 180.1h0M385.8 185.1h0M548.9 203.9h0M488.6 159.9h0M553.0 194.0h0M553.9 218.0h0M544.6 193.1h0M471.5 159.9h0M403.7 180.2h0M509.0 167.1h0M549.9 210.6h0M467.9 160.5h0M461.0 167.8h0M499.9 165.8h0M490.9 162.0h0M559.2 225.3h0M416.3 176.6h0M497.8 168.1h0M434.1 169.8h0M484.5 160.6h0M559.2 226.6h0M465.3 161.3h0M562.3 200.9h0M513.1 170.8h0M431.4 179.8h0M487.7 158.8h0M509.2 172.4h0M430.7 177.8h0M550.7 196.3h0M519.0 169.0h0M383.5 188.4h0M540.4 185.4h0M466.6 159.0h0M419.8 175.3h0M530.8 179.9h0M552.0 196.2h0M567.8 225.7h0M534.4 182.6h0M553.9 211.4h0M397.5 184.5h0M559.3 212.8h0M466.0 163.8h0M397.4 179.7h0M563.6 217.5h0M557.5 225.2h0M454.0 160.3h0M457.5 161.6h0M421.2 174.2h0M528.0 170.5h0M505.6 173.8h0M559.0 224.9h0M548.6 179.8h0M465.0 168.1h0M564.5 212.3h0M503.5 165.6h0M524.8 174.4h0M530.4 172.2h0M559.0 199.3h0M436.8 175.3h0M443.7 171.4h0M539.6 179.4h0M568.0 228.2h0M553.6 196.7h0M510.8 166.4h0M473.4 158.7h0M431.8 174.2h0M542.6 181.9h0M511.0 168.7h0M554.7 188.3h0M562.1 224.1h0M389.4 187.4h0M471.9 164.0h0M454.0 170.1h0M473.8 165.4h0M451.3 163.0h0M371.7 186.6h0M421.5 180.6h0" stroke="#dda0dd" stroke-width="2.0" stroke-linecap="round" fill="none"/>
<polyline points="615.6,13.5 621.0,13.8 625.5,16.0 628.0,21.0 627.8,27.0 626.3,31.6 621.9,37.9 622.5,38.8 610.3,46.1 598.0,53.5 589.5,60.8 578.4,65.7 566.2,68.2 553.9,70.6 541.7,73.1 529.4,74.3 517.2,76.8 504.9,80.4 490.0,82.5 472.7,85.1" fill="none" stroke="#dda0dd" stroke-width="1.9" stroke-linecap="round" stroke-linejoin="round" stroke-dasharray="0 2.6"/>
<polyline points="615.6,18.3 620.5,18.6 624.5,20.5 626.0,25.0 625.5,30.0 623.0,35.0 618.0,40.0 608.0,47.0 596.0,55.0 588.0,61.0 576.0,66.5 562.0,70.0" fill="none" stroke="#dda0dd" stroke-width="1.9" stroke-linecap="round" stroke-linejoin="round" stroke-dasharray="0 2.6"/>
<polyline points="618.3,43.2 623.0,44.5 627.2,47.6 628.1,54.7 625.4,61.8 620.0,66.2 610.3,71.9 600.5,80.4 590.7,87.8 578.4,92.7 566.2,95.1 553.9,96.4 540.5,98.0 520.0,102.0 500.0,105.0 480.2,106.5 460.0,110.0" fill="none" stroke="#dda0dd" stroke-width="1.9" stroke-linecap="round" stroke-linejoin="round" stroke-dasharray="0 2.6"/>
<polyline points="613.9,62.7 623.6,65.4 626.3,70.7 625.4,77.8 622.5,85.3 610.3,92.7 598.0,100.0 588.2,107.4 573.5,111.0 561.3,113.5 550.6,115.0 520.4,117.0 490.3,120.0 465.0,124.0" fill="none" stroke="#dda0dd" stroke-width="1.9" stroke-linecap="round" stroke-linejoin="round" stroke-dasharray="0 2.6"/>
<polyline points="615.6,82.3 625.4,84.9 628.1,92.0 626.3,99.1 622.5,104.9 607.8,112.3 598.0,119.6 589.5,125.8 573.5,130.7 561.3,134.4 545.5,137.0 515.4,140.0 490.0,145.0" fill="none" stroke="#dda0dd" stroke-width="1.9" stroke-linecap="round" stroke-linejoin="round" stroke-dasharray="0 2.6"/>
<polyline points="612.0,118.0 620.1,118.6 625.3,124.6 627.0,131.5 625.8,139.0 622.4,144.4 616.6,148.0 614.0,148.0 600.0,152.0 589.0,156.0 575.0,160.0 561.3,166.5" fill="none" stroke="#dda0dd" stroke-width="1.9" stroke-linecap="round" stroke-linejoin="round" stroke-dasharray="0 2.6"/>
<polyline points="613.5,157.7 620.5,158.3 625.0,161.9 626.5,166.2 625.5,171.0 622.5,174.4 617.5,176.7 612.0,178.0 604.0,182.0 596.0,186.0 590.0,190.0" fill="none" stroke="#dda0dd" stroke-width="1.9" stroke-linecap="round" stroke-linejoin="round" stroke-dasharray="0 2.6"/>
<polyline points="608.8,174.4 615.8,175.0 620.3,177.9 621.8,181.6 620.8,185.6 617.8,188.5 612.8,190.4 608.0,191.0 602.0,195.0 596.0,199.0" fill="none" stroke="#dda0dd" stroke-width="1.9" stroke-linecap="round" stroke-linejoin="round" stroke-dasharray="0 2.6"/>
<polyline points="597.7,183.0 606.9,183.6 612.7,189.8 614.7,196.9 613.4,204.7 609.5,210.3 602.9,214.0 598.0,215.0 595.0,219.0" fill="none" stroke="#dda0dd" stroke-width="1.9" stroke-linecap="round" stroke-linejoin="round" stroke-dasharray="0 2.6"/>
<polyline points="550.7,26.4 555.2,25.6 559.8,27.9 564.4,32.5 568.2,37.8 570.5,43.1 569.7,47.7 567.4,50.7 563.0,53.0 558.0,57.0 553.0,60.0 550.0,64.0 548.0,70.0" fill="none" stroke="#dda0dd" stroke-width="1.9" stroke-linecap="round" stroke-linejoin="round" stroke-dasharray="0 2.6"/>
<polyline points="549.9,29.4 549.9,35.5 551.4,43.1 552.9,49.2 552.2,55.3 550.0,62.0" fill="none" stroke="#dda0dd" stroke-width="1.9" stroke-linecap="round" stroke-linejoin="round" stroke-dasharray="0 2.6"/>
<polyline points="553.0,28.0 560.0,31.0 566.0,38.0 567.0,46.0 563.0,50.0" fill="none" stroke="#dda0dd" stroke-width="1.9" stroke-linecap="round" stroke-linejoin="round" stroke-dasharray="0 2.6"/>
<polyline points="469.0,53.0 466.5,58.0 465.5,66.0 466.0,75.0 467.0,90.0 466.0,105.0 468.0,120.0 467.0,135.0 469.0,150.0 470.0,165.0" fill="none" stroke="#dda0dd" stroke-width="1.9" stroke-linecap="round" stroke-linejoin="round" stroke-dasharray="0 2.8"/>
<polyline points="469.5,53.0 472.0,58.0 472.5,66.0 471.0,75.0 470.5,85.0 471.0,95.0 470.0,110.0" fill="none" stroke="#dda0dd" stroke-width="1.9" stroke-linecap="round" stroke-linejoin="round" stroke-dasharray="0 2.8"/>
<polyline points="441.0,68.6 450.0,68.0 458.0,68.5 466.0,69.0" fill="none" stroke="#dda0dd" stroke-width="1.9" stroke-linecap="round" stroke-linejoin="round" stroke-dasharray="0 2.8"/>
<polyline points="442.0,66.0 450.0,65.5 458.0,66.0" fill="none" stroke="#dda0dd" stroke-width="1.9" stroke-linecap="round" stroke-linejoin="round" stroke-dasharray="0 2.8"/>
<polyline points="441.0,96.0 450.0,96.0 458.0,96.5 466.0,97.0" fill="none" stroke="#dda0dd" stroke-width="1.9" stroke-linecap="round" stroke-linejoin="round" stroke-dasharray="0 2.8"/>
<polyline points="443.0,94.0 452.0,93.5 460.0,94.0" fill="none" stroke="#dda0dd" stroke-width="1.9" stroke-linecap="round" stroke-linejoin="round" stroke-dasharray="0 2.8"/>
<polyline points="432.0,113.5 445.0,113.5 458.0,114.0 468.0,114.0" fill="none" stroke="#dda0dd" stroke-width="1.9" stroke-linecap="round" stroke-linejoin="round" stroke-dasharray="0 2.8"/>
<polyline points="434.0,111.5 446.0,111.0 458.0,112.0" fill="none" stroke="#dda0dd" stroke-width="1.9" stroke-linecap="round" stroke-linejoin="round" stroke-dasharray="0 2.8"/>
<polyline points="552.0,52.0 552.0,70.0 553.0,90.0 553.0,110.0 550.0,135.0" fill="none" stroke="#dda0dd" stroke-width="1.8" stroke-linecap="round" stroke-linejoin="round" stroke-dasharray="0 3.4"/>
<polyline points="440.0,112.8 465.0,120.3 490.3,130.4 515.4,137.9 540.5,145.4 560.0,152.0" fill="none" stroke="#dda0dd" stroke-width="1.8" stroke-linecap="round" stroke-linejoin="round" stroke-dasharray="0 3.4"/>
<polyline points="430.0,125.0 455.0,135.0 480.0,145.0 505.0,152.0 530.0,158.0" fill="none" stroke="#dda0dd" stroke-width="1.8" stroke-linecap="round" stroke-linejoin="round" stroke-dasharray="0 3.4"/>
<ellipse cx="460" cy="69" rx="3" ry="3" fill="#dda0dd"/>
<ellipse cx="460" cy="97" rx="3" ry="3.5" fill="#dda0dd"/>
<ellipse cx="462" cy="118" rx="3" ry="3" fill="#dda0dd"/>
<ellipse cx="504.5" cy="93" rx="1.5" ry="3.5" fill="#dda0dd"/>
<ellipse cx="504.5" cy="117.5" rx="1.5" ry="3" fill="#dda0dd"/>
<ellipse cx="473" cy="140" rx="3" ry="3" fill="#dda0dd"/>
<ellipse cx="452" cy="150" rx="3" ry="3" fill="#dda0dd"/>
<polygon points="371.7,190.0 399.0,190.0 401.0,182.0 410.0,179.5 418.0,180.0 434.0,181.0 440.0,177.0 456.0,174.0 470.0,169.0 490.0,169.0 503.0,174.0 515.0,178.0 530.0,181.0 540.0,183.0 547.0,190.0 552.0,205.0 557.0,220.0 561.0,233.0 550.0,234.8 520.0,236.7 490.0,238.5 450.0,240.5 420.0,242.0 400.0,243.0 371.7,244.1" fill="#dda0dd"/>
<polyline points="424.5,220.5 426.5,221.0 426.2,224.2 424.3,227.0" fill="none" stroke="#0000ff" stroke-width="2.65" stroke-linecap="round" stroke-linejoin="round" stroke-dasharray="0 2.6"/>
<polyline points="426.5,225.6 430.9,225.6 435.6,226.1 440.3,225.1 444.1,223.3 447.5,222.0 451.5,221.0" fill="none" stroke="#0000ff" stroke-width="2.8" stroke-linecap="round" stroke-linejoin="round" stroke-dasharray="0 2.0"/>
<polyline points="428.5,224.2 432.5,223.8 437.5,223.5 442.5,222.0" fill="none" stroke="#0000ff" stroke-width="2.65" stroke-linecap="round" stroke-linejoin="round" stroke-dasharray="0 2.2"/>
<polyline points="452.5,223.0 451.6,219.0 450.7,216.2 449.3,213.8 447.9,211.5 446.5,209.1 445.0,206.3 443.6,203.5 443.2,201.1 448.8,201.1 453.1,202.5 458.2,204.4 463.9,207.2 469.1,211.0 474.2,214.6 479.1,218.5 484.2,221.5 488.7,223.6 493.3,225.1 497.9,225.1 502.0,224.1" fill="none" stroke="#0000ff" stroke-width="2.65" stroke-linecap="round" stroke-linejoin="round" stroke-dasharray="0 4.2"/>
<polyline points="451.5,222.4 457.3,221.4 462.0,220.0 466.2,218.5 470.5,217.6 474.7,215.7 479.6,214.9 482.6,213.4 484.7,211.3 487.7,209.3 488.2,207.8 487.2,205.7 485.7,204.7" fill="none" stroke="#0000ff" stroke-width="2.65" stroke-linecap="round" stroke-linejoin="round" stroke-dasharray="0 4.0"/>
<polyline points="486.0,205.0 488.0,208.5 491.8,210.8 494.9,213.4 497.9,215.4 500.5,216.9 503.5,218.5 506.6,220.0 509.7,221.0 512.7,221.5 519.4,222.0 523.4,222.0 528.0,222.0 532.6,222.6 536.7,223.1 541.5,222.7 546.5,222.7 551.5,223.3 556.6,223.9 561.6,224.2 565.4,224.6" fill="none" stroke="#0000ff" stroke-width="2.65" stroke-linecap="round" stroke-linejoin="round" stroke-dasharray="0 4.0"/>
<polyline points="565.4,224.6 570.4,225.2 574.2,225.8" fill="none" stroke="#0000ff" stroke-width="2.8" stroke-linecap="round" stroke-linejoin="round" stroke-dasharray="0 1.8"/>
<polyline points="574.2,225.8 577.9,226.5 583.0,227.1 588.0,227.5 593.0,227.7 598.0,227.5 603.1,226.5 607.5,225.2" fill="none" stroke="#0000ff" stroke-width="2.65" stroke-linecap="round" stroke-linejoin="round" stroke-dasharray="0 3.2"/>
<polyline points="591.5,227.6 597.5,227.6 603.1,226.5 607.5,225.2 610.0,223.3 609.3,221.4 606.8,220.4 603.1,220.2 599.3,220.6 598.0,221.4" fill="none" stroke="#0000ff" stroke-width="2.8" stroke-linecap="round" stroke-linejoin="round" stroke-dasharray="0 1.6"/>
<polyline points="516.5,219.0 519.4,216.9 523.4,214.9 527.5,213.4 531.6,212.9 535.2,214.4 537.7,216.9 538.7,220.0 538.2,223.6 537.2,226.6" fill="none" stroke="#0000ff" stroke-width="2.65" stroke-linecap="round" stroke-linejoin="round" stroke-dasharray="0 3.6"/>
<polyline points="537.2,226.6 534.7,227.7 532.6,228.2" fill="none" stroke="#0000ff" stroke-width="3.0" stroke-linecap="round" stroke-linejoin="round" stroke-dasharray="0 1.8"/>
<polyline points="452.5,224.0 460.1,225.1 466.7,226.6 475.2,228.0 486.7,228.2 498.4,230.7 509.5,231.5 521.4,232.2 532.5,232.5 539.8,233.3" fill="none" stroke="#0000ff" stroke-width="2.65" stroke-linecap="round" stroke-linejoin="round" stroke-dasharray="0 5.5"/>
<polyline points="539.0,232.7 545.3,232.1 549.1,232.7 552.2,233.4" fill="none" stroke="#0000ff" stroke-width="2.65" stroke-linecap="round" stroke-linejoin="round" stroke-dasharray="0 2.4"/>
<polyline points="448.8,231.7 450.7,234.6" fill="none" stroke="#0000ff" stroke-width="2.65" stroke-linecap="round" stroke-linejoin="round" stroke-dasharray="0 2.2"/>
<polyline points="384.0,243.0 385.3,240.9 386.5,236.7 387.8,239.2 391.5,241.5 396.5,241.3 401.5,238.8 404.0,237.1 406.5,235.9 409.1,235.0 410.7,236.7 411.5,238.4 415.7,238.0 421.5,235.5 425.7,233.6 430.5,233.1 438.9,233.6 443.6,235.5" fill="none" stroke="#008000" stroke-width="2.65" stroke-linecap="round" stroke-linejoin="round" stroke-dasharray="0 3.0"/>
<polyline points="408.5,226.0 407.0,224.0 406.1,222.5 404.9,220.4 404.0,218.4 403.2,215.4 405.3,215.0" fill="none" stroke="#008000" stroke-width="2.65" stroke-linecap="round" stroke-linejoin="round" stroke-dasharray="0 2.3"/>
<polyline points="405.3,215.0 408.2,216.3 412.8,217.5 417.8,220.0 423.7,222.5 429.0,226.1 434.7,230.3 438.9,230.3 444.1,227.5" fill="none" stroke="#008000" stroke-width="2.65" stroke-linecap="round" stroke-linejoin="round" stroke-dasharray="0 4.8"/>
<polyline points="450.0,221.0 448.5,219.2 446.0,219.0 444.1,220.8 443.7,223.5 444.8,226.0 447.1,227.0" fill="none" stroke="#008000" stroke-width="2.8" stroke-linecap="round" stroke-linejoin="round" stroke-dasharray="0 1.9"/>
<polyline points="449.8,222.0 452.6,227.0 457.3,230.3 462.0,232.2 466.7,232.7 471.4,233.1 475.2,232.2 479.4,230.8 483.6,229.2 487.7,228.2 491.8,227.7" fill="none" stroke="#008000" stroke-width="2.65" stroke-linecap="round" stroke-linejoin="round" stroke-dasharray="0 4.2"/>
<polyline points="495.9,213.9 493.8,217.4 492.3,219.5 492.8,222.6 493.3,225.6 496.9,230.2 501.5,230.5 506.1,230.2 510.2,230.7 512.2,227.7 511.7,225.1 507.1,221.5 504.1,219.5 501.0,216.9 498.4,215.9 495.9,213.9" fill="none" stroke="#008000" stroke-width="2.65" stroke-linecap="round" stroke-linejoin="round" stroke-dasharray="0 3.4"/>
<polyline points="445.5,240.2 457.8,240.2 470.5,238.8 481.6,237.9 491.5,237.0 505.1,235.5 518.5,235.0 531.6,234.8 536.5,233.4 539.6,232.1 543.4,230.9 547.2,229.6 550.9,228.3 554.7,227.1 558.5,225.2 562.2,223.3 565.4,220.8" fill="none" stroke="#008000" stroke-width="2.65" stroke-linecap="round" stroke-linejoin="round" stroke-dasharray="0 4.3"/>
<polyline points="565.4,220.8 567.9,217.7 569.8,214.5 569.8,211.4 568.5,208.2 566.0,206.4 561.6,205.1 557.2,205.1" fill="none" stroke="#008000" stroke-width="2.8" stroke-linecap="round" stroke-linejoin="round" stroke-dasharray="0 1.9"/>
<polyline points="387.5,240.0 391.5,241.5 401.5,241.2 411.5,240.5 421.5,240.6 425.3,240.6 430.0,240.0 434.7,239.7 440.3,238.5" fill="none" stroke="#ff0000" stroke-width="2.7" stroke-linecap="round" stroke-linejoin="round" stroke-dasharray="0 2.7"/>
<polyline points="389.5,243.3 399.5,243.6 409.5,243.3 419.5,243.2" fill="none" stroke="#ff0000" stroke-width="2.6" stroke-linecap="round" stroke-linejoin="round" stroke-dasharray="0 2.9"/>
<polyline points="391.5,242.5 397.5,242.6 404.5,242.2 411.5,242.5 417.5,242.0" fill="none" stroke="#008000" stroke-width="2.4" stroke-linecap="round" stroke-linejoin="round" stroke-dasharray="0 6.5"/>
<polyline points="440.3,238.5 446.5,238.0 452.5,237.4 461.5,236.5 471.5,236.0 476.5,235.8 484.7,235.3 492.8,234.3 502.0,235.3 510.2,234.8 518.3,234.3 526.5,233.8 532.6,232.2" fill="none" stroke="#ff0000" stroke-width="2.65" stroke-linecap="round" stroke-linejoin="round" stroke-dasharray="0 4.0"/>
<polyline points="532.6,232.2 538.7,229.2" fill="none" stroke="#ff0000" stroke-width="3.0" stroke-linecap="round" stroke-linejoin="round" stroke-dasharray="0 1.8"/>
<polyline points="538.7,229.2 544.0,227.7 547.8,225.8 551.6,223.9 555.3,222.0 559.1,219.5 562.9,217.0 566.0,215.1 569.2,213.3" fill="none" stroke="#ff0000" stroke-width="2.65" stroke-linecap="round" stroke-linejoin="round" stroke-dasharray="0 4.2"/>
<polyline points="569.2,213.3 571.7,210.8 573.5,207.6 573.8,203.8 572.9,200.1 570.4,197.6 566.6,196.3 562.2,195.7" fill="none" stroke="#ff0000" stroke-width="2.8" stroke-linecap="round" stroke-linejoin="round" stroke-dasharray="0 1.6"/>
<polyline points="407.8,224.2 409.0,228.0 410.7,233.4 413.2,229.2 415.5,227.0 417.4,226.3 417.8,231.0 418.2,236.7" fill="none" stroke="#ff0000" stroke-width="2.6" stroke-linecap="round" stroke-linejoin="round" stroke-dasharray="0 2.2"/>
<polyline points="412.8,224.2 422.0,228.8" fill="none" stroke="#ff0000" stroke-width="2.65" stroke-linecap="round" stroke-linejoin="round" stroke-dasharray="0 9"/>
<polyline points="421.5,228.4 427.2,231.3 432.8,234.6 438.5,236.4 443.2,237.9" fill="none" stroke="#ff0000" stroke-width="2.65" stroke-linecap="round" stroke-linejoin="round" stroke-dasharray="0 5.5"/>
<polyline points="448.5,228.0 451.5,227.5 454.0,229.5 454.5,232.0 453.0,234.5 449.5,235.5 448.5,232.0 448.5,228.0" fill="none" stroke="#ff0000" stroke-width="2.6" stroke-linecap="round" stroke-linejoin="round" stroke-dasharray="0 1.7"/>
<polyline points="450.0,229.5 452.5,230.5 452.0,233.0 450.0,233.0" fill="none" stroke="#ff0000" stroke-width="2.6" stroke-linecap="round" stroke-linejoin="round" stroke-dasharray="0 1.5"/>
<polyline points="450.1,230.5 451.0,232.2" fill="none" stroke="#0000ff" stroke-width="2.2" stroke-linecap="round" stroke-linejoin="round" stroke-dasharray="0 1.5"/>
<polyline points="501.0,227.7 500.0,223.1 498.4,218.5 497.4,213.9 496.4,210.3 496.4,207.2 499.5,205.7 503.0,206.7 506.1,208.3 509.2,210.3 512.2,213.4 514.8,215.9 516.3,219.0 515.8,221.5 514.3,223.6" fill="none" stroke="#ff0000" stroke-width="2.65" stroke-linecap="round" stroke-linejoin="round" stroke-dasharray="0 3.4"/>
<polyline points="504.1,226.1 510.2,225.1" fill="none" stroke="#ff0000" stroke-width="2.65" stroke-linecap="round" stroke-linejoin="round" stroke-dasharray="0 6"/>
<polygon points="61.0,442.0 65.4,441.2 69.0,443.0 74.4,447.0 75.0,458.0 77.0,466.0 82.0,466.0 84.0,455.0 85.3,446.0 86.0,440.0 88.9,438.5 94.3,438.5 101.5,445.8 106.9,448.5 112.4,455.7 114.2,465.6 119.6,468.3 128.6,467.4 137.6,461.1 141.2,458.4 153.9,458.4 168.3,458.4 169.2,460.0 169.5,505.0 165.0,508.0 160.0,511.0 150.0,514.7 140.0,516.5 116.5,518.5 60.5,519.5" fill="url(#pkl)"/>
<polygon points="60.5,467.0 75.0,466.0 85.0,463.0 100.0,463.0 114.0,466.0 125.0,472.0 140.0,472.0 150.0,476.0 156.0,482.0 158.0,500.0 160.0,511.0 150.0,514.7 140.0,516.5 116.5,518.5 60.5,519.5" fill="#ffc0cb"/>
<polyline points="88.0,469.0 88.2,471.0 87.5,475.0 86.6,478.5 86.6,484.4 87.2,490.2 88.2,496.1 91.4,499.3 94.0,501.5 97.0,503.0 100.0,505.0 105.0,506.5 110.0,507.0 115.0,507.0 121.0,506.5" fill="none" stroke="#0000ff" stroke-width="2.6" stroke-linecap="round" stroke-linejoin="round" stroke-dasharray="0 3.6"/>
<polyline points="89.0,470.5 89.0,475.0 90.4,482.2 90.9,490.8 91.5,495.0" fill="none" stroke="#0000ff" stroke-width="2.6" stroke-linecap="round" stroke-linejoin="round" stroke-dasharray="0 5.5"/>
<polyline points="121.0,499.4 122.7,497.2 123.8,493.9 125.4,490.0 126.5,486.7 128.2,483.4 129.8,480.7 132.0,479.0 134.2,477.4 137.0,475.2 140.3,473.5 142.5,475.7 144.1,479.6 145.8,484.5 146.9,489.5 148.0,494.4 149.6,498.8 151.3,503.2 152.4,507.1 155.7,507.1 159.0,508.2 161.2,509.3 165.5,509.8 168.8,510.4 172.1,510.4 175.4,510.4 178.7,510.9 180.9,510.9" fill="none" stroke="#0000ff" stroke-width="2.6" stroke-linecap="round" stroke-linejoin="round" stroke-dasharray="0 3.5"/>
<polyline points="121.0,506.5 126.0,506.0 131.5,507.1 137.0,508.2 142.5,508.7 148.0,509.3 152.0,509.0" fill="none" stroke="#0000ff" stroke-width="2.6" stroke-linecap="round" stroke-linejoin="round" stroke-dasharray="0 3.2"/>
<polyline points="121.0,499.0 123.0,502.0 122.0,505.0 125.0,507.0 127.0,504.0" fill="none" stroke="#0000ff" stroke-width="2.6" stroke-linecap="round" stroke-linejoin="round" stroke-dasharray="0 2.2"/>
<polyline points="100.0,508.0 106.0,509.0 112.0,508.0" fill="none" stroke="#0000ff" stroke-width="2.6" stroke-linecap="round" stroke-linejoin="round" stroke-dasharray="0 3.0"/>
<polyline points="95.7,516.4 99.0,517.0" fill="none" stroke="#0000ff" stroke-width="2.4" stroke-linecap="round" stroke-linejoin="round" stroke-dasharray="0 3"/>
<polyline points="85.6,505.7 86.1,502.0 87.2,498.8 88.8,496.1 92.0,494.0 95.2,492.4 97.8,490.2 100.5,489.2 102.6,490.8 104.2,495.6 106.4,499.3 108.0,503.0 110.0,507.0" fill="none" stroke="#008000" stroke-width="2.6" stroke-linecap="round" stroke-linejoin="round" stroke-dasharray="0 3.2"/>
<polyline points="70.7,484.4 70.1,489.2 66.0,490.0 63.2,490.2 60.8,490.8 61.6,494.0 65.0,495.5 68.5,496.6 72.3,494.0 71.7,499.3 68.5,502.0 69.6,505.7" fill="none" stroke="#008000" stroke-width="2.6" stroke-linecap="round" stroke-linejoin="round" stroke-dasharray="0 3.4"/>
<polyline points="61.0,515.5 70.0,515.0 78.0,515.0 86.0,515.0" fill="none" stroke="#008000" stroke-width="2.7" stroke-linecap="round" stroke-linejoin="round" stroke-dasharray="0 2.6"/>
<polyline points="61.0,518.5 70.0,518.5 78.0,518.5 86.0,518.5 92.0,518.5 99.4,516.9 104.8,516.4 110.1,515.3 115.4,514.2 120.0,513.3 126.0,513.1" fill="none" stroke="#008000" stroke-width="2.6" stroke-linecap="round" stroke-linejoin="round" stroke-dasharray="0 2.6"/>
<polyline points="105.8,504.6 110.1,508.9 115.0,508.7 119.4,508.2 126.0,508.2 131.5,509.3 137.0,508.7 140.3,508.7" fill="none" stroke="#008000" stroke-width="2.6" stroke-linecap="round" stroke-linejoin="round" stroke-dasharray="0 3.2"/>
<polyline points="61.6,498.8 62.1,492.9 63.2,487.0 64.3,482.8 67.5,480.1 70.1,481.2 72.3,487.0 74.4,492.9 76.0,501.4 77.0,506.0" fill="none" stroke="#ff0000" stroke-width="2.6" stroke-linecap="round" stroke-linejoin="round" stroke-dasharray="0 3.2"/>
<polyline points="65.3,492.9 66.4,496.1 67.5,502.5" fill="none" stroke="#ff0000" stroke-width="2.6" stroke-linecap="round" stroke-linejoin="round" stroke-dasharray="0 3.0"/>
<polyline points="61.0,507.5 70.0,507.2 80.0,507.5 90.0,507.3" fill="none" stroke="#ff0000" stroke-width="2.7" stroke-linecap="round" stroke-linejoin="round" stroke-dasharray="0 2.5"/>
<polyline points="62.0,510.5 70.0,510.8 80.0,510.5 91.0,510.5" fill="none" stroke="#ff0000" stroke-width="2.7" stroke-linecap="round" stroke-linejoin="round" stroke-dasharray="0 2.7"/>
<polyline points="61.0,513.5 66.0,514.0 72.0,513.0 78.0,512.5 85.0,513.0" fill="none" stroke="#ff0000" stroke-width="2.6" stroke-linecap="round" stroke-linejoin="round" stroke-dasharray="0 2.6"/>
<polyline points="64.0,517.0 70.0,518.0 76.0,517.0" fill="none" stroke="#ff0000" stroke-width="2.6" stroke-linecap="round" stroke-linejoin="round" stroke-dasharray="0 3.2"/>
<polyline points="92.0,505.7 93.0,503.6 95.2,501.4 97.8,499.8 101.0,498.8 103.7,498.2 105.8,499.3 108.0,502.0 112.2,504.6 115.4,502.0 118.6,500.4 121.6,499.4 126.0,499.9 130.4,499.9 133.7,500.5 137.0,500.5 140.3,500.5 143.6,500.5 145.2,500.5" fill="none" stroke="#ff0000" stroke-width="2.6" stroke-linecap="round" stroke-linejoin="round" stroke-dasharray="0 3.0"/>
<polyline points="100.0,503.0 105.0,504.0 110.0,505.5 115.0,504.9 118.3,505.4 121.6,504.3 129.3,503.8" fill="none" stroke="#ff0000" stroke-width="2.6" stroke-linecap="round" stroke-linejoin="round" stroke-dasharray="0 3.2"/>
<path d="M405.0 416.5h0M440.2 376.7h0M409.8 383.8h0M404.6 408.5h0M373.6 447.0h0M384.3 429.0h0M446.8 400.8h0M453.2 360.7h0M388.6 380.3h0M451.2 426.6h0M396.2 381.8h0M428.2 429.8h0M453.7 342.2h0M388.6 379.9h0M453.9 389.6h0M411.5 379.5h0M438.7 412.7h0M454.0 393.3h0M446.7 412.8h0M413.8 435.3h0M387.8 430.3h0M411.7 422.1h0M431.5 380.4h0M416.7 381.0h0M447.0 370.3h0M393.3 434.0h0M431.0 362.9h0M454.6 360.1h0M453.2 339.3h0M442.5 404.1h0M390.8 375.3h0M424.6 370.2h0M390.1 441.5h0M381.3 411.7h0M406.7 391.3h0M446.9 426.0h0M438.5 334.1h0M441.6 431.9h0M442.5 432.0h0M391.0 403.7h0M409.5 425.1h0M437.5 419.7h0M402.9 422.0h0M394.3 395.1h0M387.9 375.3h0M398.6 376.3h0M399.9 395.8h0M379.3 443.6h0M437.3 425.1h0M450.0 382.6h0M406.2 428.8h0M379.1 387.2h0M419.5 413.9h0M453.0 372.4h0M418.0 389.5h0M450.0 393.2h0M436.4 361.6h0M401.5 387.1h0M456.1 379.9h0M431.0 358.0h0M400.4 432.5h0M417.2 361.5h0M413.3 400.1h0M388.6 388.4h0M451.9 388.4h0M457.2 423.1h0M382.8 447.7h0M431.4 387.8h0M388.0 415.0h0M388.1 390.1h0M384.8 384.1h0M455.2 407.3h0M415.9 409.9h0M428.2 407.9h0M446.9 393.5h0M397.2 406.0h0M375.7 394.6h0M413.1 408.7h0M454.9 345.5h0M382.8 393.1h0M440.2 335.6h0M404.5 421.6h0M377.8 427.9h0M415.7 399.8h0M430.7 428.1h0M406.4 378.0h0M451.0 341.6h0M438.7 390.1h0M417.7 363.6h0M453.1 370.3h0M414.6 438.9h0M433.8 395.4h0M423.7 390.7h0M382.5 394.0h0M413.7 394.6h0M431.8 357.4h0M422.9 395.2h0M397.4 394.7h0M387.1 413.0h0M381.6 388.3h0M376.5 400.0h0M380.1 435.8h0M373.3 433.7h0M429.5 362.7h0M441.9 392.2h0M394.8 406.5h0M407.6 388.6h0M423.0 401.4h0M430.6 409.3h0M372.7 446.6h0M447.6 383.4h0M444.4 402.8h0M412.1 377.6h0M373.8 380.5h0M451.5 384.8h0M452.6 424.3h0M414.6 369.8h0M452.9 433.4h0M435.8 339.0h0M427.7 418.9h0M440.2 384.5h0M399.0 407.4h0M433.4 386.2h0M433.4 404.2h0M441.7 423.8h0M437.7 335.1h0M443.3 352.7h0M451.4 375.2h0M384.8 419.9h0M387.7 377.8h0M409.6 411.8h0M416.4 415.6h0M425.3 385.7h0M414.5 375.8h0M443.7 400.9h0M431.8 435.2h0M410.9 419.8h0M448.1 393.5h0M442.5 367.2h0M385.4 439.4h0M423.4 364.5h0M382.2 445.2h0M417.3 422.4h0M439.1 417.1h0M414.4 428.7h0M437.0 418.2h0M432.3 419.3h0M374.1 439.8h0M397.8 395.0h0M380.0 386.0h0M441.0 335.9h0M389.0 444.5h0M398.2 397.4h0M417.2 383.0h0M440.5 395.9h0M401.8 438.6h0M423.4 427.0h0M415.5 382.9h0M433.8 351.8h0M446.3 431.0h0M405.9 431.0h0M418.5 414.5h0M392.3 429.3h0M394.3 382.7h0M439.0 364.6h0M386.0 423.7h0M402.1 430.1h0M426.8 380.4h0M430.6 434.3h0M388.6 441.0h0M416.7 412.1h0M446.0 358.9h0M412.1 421.4h0M373.1 381.3h0M418.5 388.6h0M415.2 437.5h0M381.5 422.7h0M410.0 408.1h0M429.9 348.3h0M444.9 378.8h0M378.8 386.2h0M425.4 377.5h0M434.5 371.2h0M442.2 339.9h0M407.9 399.1h0M422.5 347.0h0M386.1 384.7h0M455.0 416.8h0M422.0 425.1h0M412.4 432.3h0M426.9 341.2h0M437.0 386.5h0M383.5 438.2h0M393.1 445.5h0M404.8 402.4h0M410.1 428.0h0M402.3 396.7h0M391.6 374.5h0M395.7 418.9h0M455.7 412.9h0M379.1 441.0h0M437.2 408.8h0M454.7 399.3h0M379.5 390.4h0M419.4 437.1h0M379.9 377.8h0M452.5 430.4h0M375.5 406.5h0M401.4 406.5h0M420.2 423.8h0M421.1 371.4h0M389.8 383.5h0M453.4 407.5h0M433.6 337.5h0M418.6 420.2h0M446.3 427.8h0M373.1 429.0h0M453.4 426.2h0M378.9 413.5h0M381.9 385.5h0M376.2 400.0h0M438.8 368.9h0M426.6 435.2h0M452.2 362.9h0M450.9 372.6h0M451.6 342.9h0M391.3 440.8h0M380.7 440.6h0M391.0 429.0h0M382.7 395.1h0M421.3 402.4h0M446.2 336.4h0M416.7 361.7h0M440.5 386.2h0M394.3 429.4h0M437.6 435.9h0M373.7 401.6h0M374.9 410.3h0M383.2 429.8h0M373.4 419.0h0M412.6 397.1h0M445.0 367.7h0M455.5 369.2h0M403.4 407.2h0M377.4 446.0h0M438.8 426.0h0M387.1 383.9h0M412.4 436.6h0M393.5 407.8h0M436.1 375.1h0M425.9 383.7h0M422.9 351.5h0M390.4 377.5h0M457.0 421.4h0M390.0 438.4h0M452.7 373.6h0M440.5 411.3h0M429.6 413.6h0M452.6 389.4h0M434.1 391.2h0M397.4 387.6h0M388.6 418.6h0M418.9 427.0h0M440.4 423.8h0M399.1 404.5h0M442.9 363.1h0M423.6 346.4h0M381.7 443.9h0M435.4 406.0h0M413.5 413.8h0M441.7 356.0h0M418.3 366.0h0M417.1 393.9h0M425.8 354.3h0M403.7 387.5h0M421.0 408.0h0M421.0 351.5h0M372.0 453.4h0M399.2 429.1h0M445.2 411.2h0M404.0 387.2h0M421.1 355.4h0M444.4 360.7h0M415.5 404.9h0M375.3 400.8h0M440.9 362.1h0M426.2 423.3h0M420.1 377.0h0M415.9 416.1h0M409.4 424.8h0M436.4 426.7h0M417.9 357.3h0M442.7 340.0h0M402.5 426.1h0M443.7 381.3h0M420.2 373.6h0M388.3 418.8h0M376.9 413.8h0M424.8 381.2h0M439.9 381.0h0M439.0 409.9h0M423.5 362.8h0M399.7 415.0h0" stroke="#dda0dd" stroke-width="2.0" stroke-linecap="round" fill="none"/>
<path d="M492.0 406.7h0M502.6 333.8h0M465.1 379.3h0M470.9 336.2h0M479.4 336.8h0M495.1 400.7h0M474.6 420.6h0M457.6 372.2h0M508.2 326.6h0M463.5 380.0h0M475.0 328.5h0M502.8 418.9h0M488.4 372.1h0M486.7 382.5h0M487.4 360.1h0M501.5 385.0h0M468.5 393.1h0M499.3 382.3h0M473.5 388.0h0M494.3 342.8h0M505.5 371.2h0M478.9 384.9h0M498.3 341.4h0M465.5 381.0h0M462.3 344.9h0M475.8 432.0h0M489.9 355.0h0M491.4 383.7h0M495.0 420.9h0M510.0 322.1h0M484.3 367.6h0M480.4 422.4h0M479.9 387.9h0M498.3 428.6h0M488.3 385.9h0M460.8 367.0h0M465.9 416.6h0M493.3 337.0h0M488.0 429.3h0M503.3 367.0h0M475.9 386.3h0M478.8 441.8h0M503.6 431.7h0M512.0 333.2h0M508.9 365.2h0M469.9 395.1h0M477.7 346.1h0M510.6 342.9h0M459.8 369.1h0M502.0 420.6h0M480.9 370.5h0M463.0 419.7h0M498.2 347.2h0M493.1 431.6h0M475.5 348.9h0M497.4 397.9h0M473.5 408.0h0M465.7 380.2h0M498.9 363.5h0M462.1 404.5h0M494.1 396.1h0M506.7 366.4h0M484.1 376.5h0M503.8 361.3h0M468.7 366.0h0M502.0 412.9h0M465.7 422.1h0M511.3 362.1h0M500.0 406.6h0M490.1 349.0h0M473.9 422.9h0M503.7 427.1h0M496.8 410.8h0M507.4 430.0h0M473.3 435.1h0M460.2 343.0h0M504.4 388.4h0M509.4 361.4h0M458.8 338.7h0M505.3 421.0h0M479.4 401.7h0M471.1 344.9h0M482.7 379.8h0M482.8 409.8h0M465.5 419.4h0M473.5 369.9h0M506.1 412.4h0M496.5 419.2h0M479.1 363.3h0M484.8 426.0h0M464.9 407.7h0M482.1 438.0h0M495.4 435.3h0M478.6 377.7h0M469.2 346.0h0M472.8 346.7h0M490.7 391.1h0M497.0 413.8h0M510.3 386.0h0M490.1 386.2h0M482.2 362.6h0M472.7 361.5h0M484.0 375.6h0M486.2 403.6h0M511.3 392.9h0M511.5 359.6h0M489.7 392.8h0M480.7 377.4h0M459.3 420.8h0M482.3 363.3h0M472.5 438.3h0M474.1 392.3h0M478.7 402.7h0M486.8 386.5h0M484.6 354.9h0M497.3 360.6h0" stroke="#dda0dd" stroke-width="2.0" stroke-linecap="round" fill="none"/>
<path d="M483.4 447.1h0M529.3 485.4h0M546.9 469.7h0M546.3 459.0h0M515.3 474.3h0M533.5 458.4h0M524.0 469.7h0M548.1 457.9h0M484.2 447.9h0M528.4 447.4h0M535.3 487.3h0M537.1 457.8h0M537.3 452.8h0M545.2 446.0h0M507.5 455.4h0M537.4 481.6h0M517.2 468.6h0M546.9 464.0h0M512.5 471.4h0M528.4 480.5h0M501.5 445.0h0M528.3 445.2h0M541.7 484.5h0M534.5 476.3h0M498.2 443.1h0M488.1 443.5h0M527.2 478.0h0M546.2 459.8h0M535.4 493.8h0M532.7 479.0h0M528.7 443.1h0M544.0 441.1h0M537.4 470.2h0M523.5 450.7h0M535.2 481.3h0M496.3 459.3h0M490.0 446.7h0M516.2 465.5h0M524.4 467.5h0M499.2 461.8h0M543.7 462.2h0M542.5 483.2h0M514.9 444.4h0M521.2 439.3h0M529.9 473.6h0M527.5 481.6h0M502.8 446.9h0M499.2 451.0h0M519.0 453.6h0M511.3 442.7h0M507.1 454.0h0M535.9 451.7h0M524.8 476.5h0M509.2 440.6h0M517.4 444.2h0M542.7 453.5h0M504.2 457.4h0M524.4 455.3h0M499.3 445.7h0M525.7 475.1h0M539.2 471.8h0M526.0 457.4h0M529.7 453.4h0M515.3 473.7h0M534.3 452.0h0M532.8 469.0h0M523.9 443.4h0M516.8 443.3h0M524.1 483.2h0M506.9 462.7h0M523.7 469.9h0M528.0 457.9h0M503.8 457.5h0M511.9 469.4h0M524.3 445.1h0M503.7 453.2h0M518.7 442.5h0M548.8 460.2h0M532.6 489.3h0M510.8 459.3h0M523.6 455.4h0M525.0 466.4h0M531.8 454.0h0M501.9 461.4h0M503.3 456.6h0M495.3 452.3h0M511.8 469.1h0M521.9 447.7h0M535.0 471.1h0M520.5 446.6h0M544.2 456.7h0M524.6 443.9h0M531.8 462.6h0M541.6 440.7h0M500.2 444.7h0M537.9 480.1h0M515.8 470.4h0M509.2 470.3h0M519.2 456.2h0M505.7 447.3h0M507.3 448.3h0M532.1 445.6h0M513.2 450.7h0M527.5 474.5h0M546.6 457.1h0M534.3 473.5h0M520.0 440.1h0M501.5 462.5h0M537.7 444.3h0M519.2 451.6h0M516.9 460.3h0M512.2 445.2h0M531.9 447.4h0M532.1 482.2h0M544.6 467.6h0M532.3 483.1h0M537.0 472.5h0M542.6 480.5h0M506.8 459.0h0M535.6 477.7h0M503.7 453.7h0M512.4 450.7h0M493.3 447.7h0M517.2 441.1h0M508.3 449.6h0M540.1 469.6h0M514.6 464.7h0M541.4 452.9h0M510.2 444.2h0M529.4 464.2h0M502.1 450.1h0M510.1 454.4h0M514.2 470.6h0M509.0 466.4h0M542.6 471.3h0M533.1 455.2h0M491.4 455.9h0M544.1 474.6h0M495.3 445.5h0M534.0 470.7h0M517.6 474.4h0M490.6 453.5h0" stroke="#dda0dd" stroke-width="2.0" stroke-linecap="round" fill="none"/>
<path d="M560.2 502.0h0M581.4 499.7h0M570.2 493.1h0M579.1 441.9h0M570.9 434.9h0M562.1 442.3h0M570.0 463.2h0M577.9 457.0h0M561.6 495.5h0M578.5 482.1h0M575.7 474.1h0M553.0 497.0h0M558.1 501.9h0M573.5 452.9h0M579.1 449.6h0M575.5 459.9h0M544.2 492.6h0M566.3 461.7h0M562.5 500.0h0M560.5 474.8h0M561.2 434.8h0M575.2 440.7h0M582.7 433.5h0M565.1 451.9h0M571.3 479.3h0M574.6 493.7h0M584.2 462.3h0M551.7 438.8h0M577.8 466.7h0M579.7 440.7h0M552.9 441.7h0M579.8 466.1h0M567.1 436.8h0M558.3 461.7h0M572.3 450.5h0M562.2 467.8h0M553.2 437.2h0M586.9 478.4h0M553.1 453.9h0M552.3 495.0h0M564.6 507.0h0M551.3 438.2h0M575.4 486.9h0M578.3 460.5h0M578.2 440.4h0M573.2 484.3h0M565.0 478.5h0M559.6 464.8h0M560.2 478.0h0M579.9 457.9h0M564.5 461.8h0M544.1 485.1h0M574.5 465.1h0M550.9 469.1h0M584.4 480.8h0M554.1 503.2h0M547.9 440.0h0M573.9 492.4h0M577.2 462.4h0M571.1 448.6h0M549.2 502.7h0M564.3 485.6h0M554.2 462.4h0M584.1 488.2h0M584.8 444.2h0M556.9 500.9h0M584.1 493.6h0M581.9 452.6h0M572.8 440.8h0M559.3 433.9h0M557.9 447.4h0M556.7 482.6h0M570.8 498.3h0M584.5 455.7h0M552.7 464.0h0M548.5 495.4h0M577.0 482.1h0M569.4 454.7h0M549.7 489.3h0M575.3 500.4h0M543.3 502.5h0M562.0 442.2h0M563.9 450.1h0M569.3 479.5h0M579.3 501.1h0M580.7 482.9h0M573.7 497.3h0M579.4 469.7h0" stroke="#dda0dd" stroke-width="2.0" stroke-linecap="round" fill="none"/>
<path d="M405.1 467.1h0M391.7 463.7h0M498.4 490.7h0M440.3 452.8h0M381.7 470.6h0M372.1 458.6h0M417.4 467.5h0M417.4 449.8h0M515.3 503.2h0M429.5 447.9h0M507.3 497.8h0M528.4 495.5h0M501.9 494.8h0M432.5 468.6h0M430.9 442.4h0M454.6 462.0h0M438.5 445.7h0M423.2 443.6h0M511.7 489.8h0M399.5 470.4h0M435.1 457.8h0M373.0 461.8h0M526.2 489.8h0M452.1 442.2h0M417.4 466.6h0M527.3 503.5h0M406.5 452.5h0M414.5 466.1h0M378.1 459.3h0M497.9 468.2h0M519.9 486.3h0M438.0 458.0h0M506.7 493.5h0M404.6 445.3h0M517.1 489.9h0M422.6 446.7h0M418.6 441.4h0M507.3 477.4h0M526.2 507.8h0M411.9 443.7h0M456.5 439.1h0M403.1 447.2h0M428.6 462.1h0M425.2 459.9h0M495.8 477.7h0M441.6 467.1h0M462.7 439.4h0M451.2 441.4h0M519.0 495.9h0M391.2 451.3h0M436.7 466.4h0M407.8 466.5h0M409.9 450.3h0M503.2 478.1h0M493.8 483.6h0M373.0 463.2h0M430.0 468.4h0M416.2 445.8h0M431.3 459.4h0M440.7 435.9h0M498.8 488.5h0M390.9 455.6h0M474.5 461.9h0M451.6 461.7h0M403.2 447.7h0M484.6 460.3h0M450.0 462.5h0M450.7 438.0h0M419.8 452.7h0M494.0 460.3h0M399.4 469.5h0M420.4 451.8h0M491.8 460.6h0M469.6 461.2h0M493.9 479.3h0M374.6 458.2h0M439.4 442.1h0M524.3 502.3h0M373.1 458.4h0M385.4 470.6h0M448.8 447.7h0M392.6 459.0h0M375.0 471.0h0M469.0 457.2h0M510.4 488.1h0M524.8 502.6h0M477.0 444.7h0M510.6 473.0h0M521.9 503.6h0M385.4 470.2h0M509.2 482.3h0M376.4 463.6h0M465.4 455.2h0M433.3 443.8h0M414.2 471.2h0M494.2 480.6h0M466.0 462.6h0M393.4 455.0h0M474.0 450.0h0M423.1 448.6h0M416.0 465.5h0M393.5 458.8h0M526.2 507.2h0M518.0 508.0h0M474.3 466.5h0M526.3 507.3h0M511.1 477.8h0M504.0 468.4h0M498.8 484.0h0M447.1 455.2h0M506.7 486.2h0M451.0 439.6h0M511.6 501.3h0M501.3 491.2h0M377.1 458.0h0M417.3 450.5h0M511.3 477.6h0M423.2 457.7h0M397.0 469.7h0M427.9 464.8h0M430.4 438.5h0M432.7 461.9h0M389.0 459.1h0M456.1 442.8h0M500.0 485.9h0M454.5 446.1h0M495.9 487.2h0M381.2 462.9h0M500.3 473.0h0M489.2 465.6h0M405.7 460.8h0M498.7 465.8h0M495.0 481.0h0M513.5 484.3h0M404.2 470.9h0M468.2 452.0h0M455.2 442.9h0M437.4 455.3h0M399.2 458.9h0M380.9 456.7h0M454.6 463.0h0M522.7 482.7h0M489.3 472.7h0M484.7 468.0h0M397.6 450.7h0M445.3 453.7h0M459.1 458.3h0M470.6 452.4h0M455.0 444.7h0M421.2 440.7h0M445.4 458.7h0M450.0 462.8h0M403.5 451.9h0M453.2 464.9h0M513.1 477.1h0M420.4 464.5h0M496.1 466.5h0M422.0 448.6h0M489.4 475.5h0M449.2 447.6h0M499.1 476.1h0M495.5 468.1h0M469.6 464.1h0M399.3 459.6h0M479.9 469.2h0M474.3 464.9h0M413.1 452.5h0M377.4 469.7h0M520.9 491.2h0M427.3 458.3h0M421.8 454.3h0M477.9 453.6h0M508.7 480.0h0M508.2 497.9h0M518.8 498.5h0M427.8 470.0h0M487.5 460.3h0M494.4 480.3h0M444.8 449.1h0M396.6 450.4h0M514.5 478.2h0M381.3 452.2h0M399.0 450.0h0M503.0 477.5h0M435.3 441.9h0M415.3 442.0h0M452.5 463.3h0M485.6 459.5h0M403.5 452.0h0M524.6 503.1h0M445.3 452.5h0M467.2 452.3h0M428.2 440.8h0M420.2 444.3h0M448.8 454.8h0M520.2 496.4h0M430.7 453.2h0M405.4 451.7h0M523.2 490.9h0M478.9 452.8h0M380.1 460.6h0M428.3 465.8h0M422.1 445.6h0M514.2 497.9h0M405.6 451.4h0M416.5 465.3h0M436.9 437.1h0M502.1 493.2h0M389.5 458.1h0M499.0 487.7h0M439.1 445.2h0M398.7 461.8h0M511.0 488.2h0M409.0 461.8h0M518.5 481.8h0M398.9 461.7h0M399.3 466.9h0M409.1 441.3h0M444.1 459.1h0M422.0 468.0h0M520.4 497.6h0M407.9 456.2h0M419.8 448.7h0M504.1 491.1h0M444.4 468.1h0M498.7 473.1h0M511.4 496.0h0M443.3 438.5h0M484.9 451.4h0M384.0 451.7h0M522.1 501.2h0M464.0 449.4h0M497.8 478.2h0M446.6 465.9h0M468.5 453.8h0M440.6 442.7h0M440.8 462.0h0M458.8 438.1h0M423.0 454.4h0M416.2 462.5h0M415.9 463.2h0M481.4 453.0h0M476.5 458.5h0M479.7 453.0h0M426.2 456.9h0M458.5 462.7h0M455.7 454.5h0M389.7 452.7h0M397.0 456.1h0M509.0 475.2h0M446.5 460.3h0M429.5 445.6h0M434.2 456.7h0M486.7 459.7h0M407.2 469.6h0M439.9 441.5h0M429.9 444.8h0M395.3 449.1h0M403.3 450.5h0M511.3 492.5h0M381.8 453.7h0M466.1 465.3h0M477.8 447.8h0M458.9 437.9h0M439.4 450.1h0M517.4 506.8h0M485.7 475.1h0M503.1 477.9h0M383.9 456.7h0M417.5 454.0h0M430.2 470.1h0M421.4 442.1h0M475.6 458.0h0M392.0 451.9h0M494.6 476.6h0M402.7 449.2h0M504.3 491.6h0M414.6 469.9h0M431.8 438.5h0M493.4 482.6h0M509.9 485.9h0M459.6 464.6h0M506.9 483.7h0M417.2 468.5h0M426.5 458.7h0M436.2 458.1h0M472.2 443.5h0M400.3 463.8h0M403.2 443.1h0M494.5 472.9h0M441.5 451.3h0M409.3 456.2h0M463.8 456.1h0M429.3 454.6h0M427.0 470.1h0M409.3 469.8h0M524.9 489.4h0M437.5 461.6h0M521.1 489.5h0M505.9 485.0h0M410.4 465.1h0M525.5 505.9h0M451.8 464.8h0M395.2 467.5h0M501.3 472.2h0M517.1 506.5h0M430.7 448.4h0M432.5 443.0h0M514.0 476.4h0M388.2 458.4h0M431.7 449.4h0M458.0 445.4h0M443.8 448.7h0M506.8 484.0h0M527.0 511.3h0M523.6 484.9h0M462.8 460.0h0M510.7 493.3h0M409.6 460.1h0M514.8 488.8h0M435.9 447.2h0M523.5 509.4h0M472.2 465.0h0M457.6 451.6h0M457.4 441.2h0M523.0 500.2h0M524.8 504.6h0M474.4 443.5h0M457.9 457.1h0M407.3 458.3h0M398.7 450.9h0M377.0 465.2h0M494.6 463.1h0M386.6 457.1h0M451.9 445.3h0M458.0 451.4h0M415.2 468.9h0M437.2 462.3h0M471.9 442.1h0M458.3 465.9h0M481.3 460.2h0M423.0 440.5h0M452.3 445.8h0M441.3 438.6h0M464.7 443.4h0M456.5 446.3h0M428.0 458.5h0M429.5 460.8h0M528.2 493.6h0M493.7 464.3h0M485.0 459.4h0M451.9 445.4h0M496.1 476.2h0M518.8 480.2h0M451.6 449.0h0M518.6 490.0h0M424.8 456.6h0M470.3 464.9h0M439.8 440.3h0M399.6 469.3h0M440.1 456.0h0M510.0 476.2h0M463.3 455.2h0M451.7 441.6h0M391.1 458.7h0M389.8 451.7h0M515.3 492.0h0M445.0 441.1h0M456.7 462.4h0M385.8 455.4h0M521.9 492.6h0M429.9 442.3h0M481.9 468.2h0M470.1 461.1h0M395.4 466.5h0M509.1 487.2h0M417.3 439.1h0M492.1 465.8h0M421.3 465.3h0M409.1 470.5h0M437.5 460.5h0M383.4 459.2h0M524.2 503.9h0M475.8 454.3h0M408.9 456.8h0M454.8 458.9h0M462.0 462.6h0M472.6 444.3h0M469.6 455.7h0M463.8 463.2h0M425.1 452.0h0M525.0 509.5h0M517.0 491.5h0M448.6 465.1h0M435.2 470.0h0M515.0 503.6h0M469.7 442.9h0M458.3 448.9h0M438.9 441.4h0M416.2 449.5h0M446.3 449.0h0M461.4 465.3h0M456.6 456.4h0M393.8 445.4h0M395.7 457.8h0M411.6 454.6h0M392.9 457.2h0M411.8 459.3h0M405.1 443.7h0M488.8 456.7h0M435.2 446.1h0M495.3 466.8h0M467.7 451.1h0M467.5 449.4h0M461.5 459.4h0M432.9 471.0h0M412.8 466.3h0M497.1 487.4h0M392.9 468.1h0M404.5 447.4h0M441.0 450.7h0M386.1 456.7h0M460.3 440.4h0M420.5 441.1h0M420.1 448.2h0M445.8 462.7h0M407.9 458.4h0M428.1 446.1h0M433.9 457.5h0M508.4 474.0h0M444.2 447.7h0M425.8 445.1h0M481.8 471.4h0M469.5 444.8h0M427.8 444.2h0M401.6 451.3h0M384.3 464.9h0M456.3 450.5h0M483.7 460.8h0M437.2 438.6h0M443.6 443.6h0M509.6 490.6h0M459.9 444.3h0M487.2 472.7h0M444.6 465.3h0M430.7 462.3h0M396.4 448.0h0M420.6 467.6h0M379.5 461.2h0M423.4 453.7h0M520.9 490.7h0M470.7 445.4h0M487.7 455.4h0M460.5 452.9h0M453.8 465.5h0M512.6 475.3h0M421.5 466.9h0M386.3 451.8h0M509.0 479.9h0M443.8 469.2h0M456.6 440.4h0M493.6 461.7h0M494.2 464.2h0M447.5 457.3h0M428.2 447.0h0M500.4 474.9h0M459.8 443.2h0M509.7 487.5h0M406.3 463.8h0M522.5 508.4h0M427.6 468.2h0M515.2 489.6h0M471.9 443.1h0M381.9 467.9h0M442.4 458.6h0M430.2 451.9h0M499.1 470.4h0M479.3 464.3h0M408.4 454.2h0M503.4 493.1h0M432.7 441.8h0M373.8 465.2h0M441.0 441.6h0M491.3 462.6h0M516.7 493.8h0M372.0 459.8h0M401.4 443.5h0M487.9 469.1h0M443.8 440.5h0M376.8 461.4h0M468.8 454.0h0M375.4 463.4h0M422.7 457.2h0M392.3 456.7h0M469.2 465.5h0M502.2 487.7h0M409.4 442.3h0M419.3 464.6h0M452.6 444.0h0M473.3 464.3h0M505.0 497.2h0M526.8 505.9h0M384.8 451.5h0M422.3 448.5h0M412.7 442.5h0M510.7 479.2h0M498.4 471.9h0M511.0 473.0h0M506.9 476.2h0M477.4 452.3h0M415.4 449.7h0M428.0 443.4h0M393.0 450.1h0M498.9 489.6h0M456.9 455.4h0M458.9 456.9h0M516.1 482.2h0M418.1 459.0h0M419.6 460.3h0M458.6 464.7h0M464.5 464.1h0M404.9 460.7h0M429.8 453.1h0M434.0 466.4h0M404.8 469.0h0M396.7 458.6h0M436.5 461.1h0M472.6 454.4h0M434.4 447.4h0M376.5 461.6h0M445.3 448.1h0M383.2 460.0h0M461.9 456.9h0M449.0 457.2h0M447.2 443.9h0M377.5 456.4h0M397.2 444.0h0M430.1 464.3h0M524.9 491.3h0M403.4 462.6h0M406.4 464.6h0M487.4 475.0h0M443.8 440.4h0M492.3 461.2h0M426.3 446.4h0M407.1 464.9h0M523.2 501.8h0M466.5 463.3h0M503.9 480.6h0M467.6 442.5h0M461.6 457.8h0M413.1 450.3h0M509.4 476.2h0M513.6 482.0h0M426.2 462.4h0M413.0 459.6h0M478.9 463.7h0M442.6 451.2h0M497.1 486.5h0M398.3 444.3h0M492.4 481.9h0M465.1 447.6h0M443.7 459.5h0M385.1 461.1h0M415.8 447.0h0M389.5 452.6h0M509.6 501.8h0M469.3 459.8h0M387.7 459.7h0M509.6 501.1h0M442.2 461.6h0M431.8 459.4h0M523.1 486.2h0M401.2 448.8h0M490.6 457.1h0M487.1 459.8h0M492.4 457.7h0M377.8 462.2h0M459.2 458.5h0M495.0 471.3h0M410.8 443.6h0M452.4 449.3h0M407.4 457.3h0M391.3 455.2h0M424.1 463.9h0M448.3 461.1h0M470.5 446.7h0M527.1 505.4h0M409.3 465.9h0M459.6 445.4h0M418.4 443.8h0M406.4 462.2h0M446.3 461.3h0M374.3 467.2h0M451.3 443.3h0M529.5 507.2h0M479.6 467.3h0M377.8 467.2h0M433.4 439.2h0M434.3 437.1h0M422.1 471.0h0M484.9 461.0h0M419.0 465.8h0M463.3 443.6h0M412.7 444.4h0M383.2 456.6h0M494.2 476.1h0M529.3 506.1h0M464.8 447.2h0M524.8 495.7h0M425.8 470.5h0M438.6 445.5h0M436.5 444.4h0M415.7 439.2h0M423.1 438.9h0M488.8 477.7h0M433.1 459.6h0M373.0 468.4h0M487.3 469.6h0M447.3 448.8h0M436.6 452.8h0M448.6 452.5h0M404.2 448.8h0M454.8 467.4h0M439.8 458.0h0M513.1 505.2h0M440.7 444.4h0M450.9 446.9h0M419.1 448.9h0M504.1 480.3h0M512.9 505.3h0M439.4 464.0h0M419.4 449.8h0M471.0 442.4h0M451.7 453.9h0M496.5 478.7h0M476.0 464.8h0M435.5 446.5h0M444.5 449.0h0M421.4 456.8h0M496.2 468.6h0M383.6 463.7h0M449.2 458.0h0M432.5 453.7h0M484.0 472.0h0M404.6 442.8h0M512.1 497.4h0M383.0 470.0h0M510.5 476.5h0M461.8 467.1h0M425.1 440.0h0M526.5 504.9h0M459.1 443.0h0M520.2 508.5h0M429.2 448.7h0M380.2 466.1h0M408.8 461.6h0M437.5 447.9h0M418.5 454.7h0M453.4 458.6h0M465.8 460.8h0M424.2 460.0h0M374.6 460.9h0M497.1 482.9h0M437.4 437.4h0M453.8 445.1h0M410.0 470.9h0M371.7 464.6h0M423.9 466.3h0M456.1 450.9h0M385.5 459.4h0M515.4 491.3h0M404.3 443.5h0M501.4 488.4h0M498.0 474.3h0M458.0 450.5h0M446.5 443.3h0M485.5 472.9h0M492.5 475.9h0M404.7 458.7h0M421.9 463.3h0M426.6 449.9h0M382.8 469.1h0M392.7 453.7h0M458.1 445.7h0M450.3 452.5h0M411.3 442.8h0M493.3 459.3h0M458.3 440.9h0M517.8 496.8h0M460.6 445.7h0M488.5 478.1h0M469.1 450.0h0M475.4 448.3h0M470.0 455.5h0M525.7 503.4h0M379.4 453.4h0M488.3 465.0h0M518.7 495.2h0M456.8 461.0h0M531.7 501.0h0M499.6 487.5h0M442.0 445.7h0M387.7 462.6h0M489.8 457.4h0M431.6 437.8h0M512.5 499.5h0M480.8 458.0h0M453.6 457.7h0M470.1 448.0h0M484.1 469.7h0M477.8 461.8h0M418.8 442.2h0M454.3 456.3h0M455.9 467.8h0M462.9 460.4h0M400.9 457.5h0M399.9 445.3h0M497.6 475.1h0M423.6 459.4h0M480.8 457.4h0M441.8 444.2h0M408.8 461.9h0M452.0 462.2h0M422.7 464.6h0M442.7 458.6h0M430.7 470.9h0M509.5 497.1h0M507.4 486.7h0M477.4 462.2h0M422.3 460.2h0M395.0 449.1h0M412.2 467.7h0M522.2 485.8h0M456.1 444.5h0M422.6 449.0h0M416.9 446.7h0M500.6 474.1h0M472.6 444.4h0M504.1 490.0h0M463.8 455.7h0M529.7 504.8h0M405.3 461.6h0M482.8 449.0h0M423.2 442.3h0M453.2 440.5h0M509.3 492.7h0M435.2 446.4h0M455.0 441.6h0M385.7 459.5h0M456.6 464.7h0M407.9 441.1h0M393.1 446.9h0M446.0 446.9h0M373.7 463.7h0M502.2 481.1h0M413.5 457.1h0M437.9 467.7h0M470.4 448.2h0M509.6 497.6h0M494.7 480.0h0M429.6 441.7h0M446.0 465.6h0M424.2 465.9h0M519.1 491.2h0M462.9 456.1h0M443.4 454.7h0M524.1 484.7h0M379.4 459.7h0M379.1 468.7h0M474.4 464.0h0M467.1 465.1h0M490.1 474.6h0M380.2 464.0h0M384.1 469.0h0M489.3 467.1h0M437.8 454.4h0M524.1 487.6h0M408.7 467.4h0M465.1 447.5h0M412.4 454.1h0M457.1 446.2h0M475.0 447.4h0M410.0 446.5h0M522.9 508.9h0M480.1 470.3h0M425.0 449.8h0M407.3 469.5h0M509.3 492.4h0M473.7 467.2h0M497.0 483.1h0M412.5 451.1h0M397.5 468.2h0M381.0 462.4h0M393.4 461.9h0M480.9 468.4h0M507.4 494.1h0M461.0 456.5h0M520.1 506.7h0M444.2 440.9h0M513.2 491.9h0M380.3 460.8h0M484.4 451.9h0M401.5 459.1h0M410.7 457.3h0M403.7 451.0h0M449.1 443.2h0M484.9 454.5h0M525.9 509.6h0M429.1 446.2h0M446.5 457.3h0M450.4 466.4h0M440.3 464.1h0M410.6 451.2h0M390.3 448.2h0M513.5 504.3h0M494.9 472.9h0M470.2 456.4h0M409.6 447.2h0M467.1 457.9h0M517.4 500.1h0M506.9 482.2h0M457.8 439.6h0M381.5 458.1h0M418.3 466.8h0M525.4 490.7h0M388.6 450.6h0M427.2 455.0h0M490.8 461.6h0M431.8 441.7h0M393.3 451.8h0M406.1 469.2h0M454.9 444.6h0M436.4 442.4h0M493.7 458.9h0M382.2 463.2h0M465.9 442.9h0M489.2 466.2h0M467.2 457.7h0M395.9 460.7h0M432.7 438.6h0M398.5 458.6h0M483.5 467.7h0M438.1 447.1h0M496.0 471.7h0M497.8 476.8h0M463.0 442.2h0M478.2 456.9h0M402.8 455.4h0M457.0 459.0h0M374.8 468.4h0M506.6 496.8h0M446.4 451.7h0M394.0 469.3h0M515.4 493.7h0M444.0 438.1h0M385.0 450.4h0M482.7 456.5h0M447.1 442.5h0M516.7 483.3h0M521.6 489.4h0M450.1 443.9h0M434.8 436.5h0M420.2 464.4h0M461.1 460.9h0M427.5 445.2h0M443.0 449.6h0M434.5 450.8h0M488.4 462.0h0M413.3 452.2h0M478.7 458.6h0M416.7 442.4h0M519.7 500.1h0M444.9 442.9h0M507.6 473.3h0M388.3 448.9h0M471.3 449.0h0M404.2 460.5h0M496.8 481.7h0M497.5 490.6h0M491.2 475.5h0M525.0 491.9h0M449.8 461.7h0M434.0 467.1h0M417.6 440.1h0M376.8 462.1h0M388.4 452.8h0M428.8 436.9h0M387.6 463.1h0M386.5 457.4h0M498.6 472.0h0M419.7 466.9h0M443.5 447.3h0M528.9 498.4h0M409.1 447.9h0M523.3 501.6h0M525.5 491.4h0M443.3 435.8h0M439.1 452.5h0M437.5 438.5h0" stroke="#dda0dd" stroke-width="2.0" stroke-linecap="round" fill="none"/>
<path d="M434.5 470.3h0M461.0 449.5h0M495.0 479.9h0M386.1 458.6h0M513.7 495.8h0M426.2 454.0h0M393.8 467.0h0M387.3 468.6h0M508.7 497.7h0M400.4 456.3h0M425.5 464.6h0M394.3 465.7h0M462.7 459.6h0M420.9 455.3h0M381.1 463.5h0M419.2 456.2h0M441.8 462.5h0M448.5 462.8h0M432.8 452.0h0M456.5 466.3h0M372.1 460.3h0M439.0 468.5h0M410.3 470.4h0M374.7 468.2h0M496.4 477.8h0M490.9 469.2h0M381.8 451.6h0M463.6 459.0h0M511.5 494.3h0M395.8 467.7h0M482.6 468.3h0M498.4 479.7h0M421.2 457.3h0M417.1 471.0h0M423.7 450.9h0M495.9 483.3h0M422.1 471.2h0M438.3 451.0h0M504.1 489.5h0M381.9 469.2h0M395.5 465.4h0M492.3 477.0h0M466.0 450.5h0M445.3 462.1h0M413.4 468.6h0M460.3 451.2h0M450.0 466.0h0M441.8 451.2h0M417.5 453.9h0M379.9 459.5h0M412.7 455.0h0M469.3 466.1h0M391.4 464.1h0M436.9 467.0h0M497.8 487.1h0M414.4 465.6h0M480.7 460.8h0M479.4 462.2h0M393.9 455.0h0M430.3 452.9h0M396.8 458.9h0M504.4 494.4h0M473.1 460.3h0M479.8 469.8h0M483.8 472.2h0M381.8 455.8h0M440.3 452.2h0M389.9 455.8h0M453.5 452.9h0M419.9 463.6h0M393.6 451.6h0M509.2 500.0h0M396.7 461.2h0M450.0 466.0h0M455.5 462.5h0M398.5 463.1h0M516.3 503.8h0M483.5 464.4h0M508.0 488.1h0M457.7 447.3h0M440.3 462.9h0M418.5 452.8h0M512.1 493.1h0M436.9 466.6h0M412.0 450.6h0M431.4 467.2h0M446.4 463.9h0M498.4 477.1h0M477.0 468.4h0M386.0 455.0h0M524.5 510.6h0M479.4 459.2h0M467.7 451.7h0M384.1 455.5h0M485.0 472.7h0M455.8 461.1h0M422.6 470.1h0M402.4 459.9h0M426.4 468.9h0M435.1 469.0h0M462.7 461.7h0M469.5 459.1h0M373.4 463.7h0M469.6 464.1h0M375.1 464.3h0M413.6 456.6h0M378.7 459.3h0M440.4 448.0h0M484.1 469.2h0M472.2 453.7h0M395.3 468.0h0M425.7 456.7h0M464.6 457.2h0M419.1 463.9h0M391.8 454.1h0M401.3 465.2h0M411.5 470.7h0M452.2 455.5h0M455.0 466.2h0M371.9 470.8h0M444.8 454.6h0M456.2 455.6h0M391.3 456.0h0M503.3 487.2h0M504.6 485.1h0M443.0 460.7h0M505.9 490.9h0M461.4 462.3h0M409.1 454.6h0M479.5 459.0h0M402.5 461.1h0M423.5 453.7h0M420.4 470.6h0M423.0 448.6h0M392.6 454.6h0M501.0 491.8h0M457.3 448.8h0M434.6 460.9h0M467.9 451.8h0M496.5 486.1h0M462.1 449.5h0M448.2 456.1h0M500.2 484.7h0M419.9 471.2h0M512.8 500.7h0M453.3 459.4h0M445.4 463.1h0M438.8 463.8h0M414.3 463.8h0M486.1 471.8h0M507.6 491.1h0M443.4 458.3h0M473.7 464.3h0M499.6 490.5h0M381.2 468.9h0M451.0 461.1h0M468.0 455.0h0M396.5 469.5h0M425.7 457.7h0M428.8 470.8h0M470.0 455.9h0M470.1 462.9h0M501.6 484.8h0M417.1 459.0h0M508.6 490.0h0M448.3 465.1h0M419.7 468.9h0M389.7 455.9h0M423.3 462.7h0M486.2 468.0h0M385.4 462.9h0M438.7 456.1h0M483.0 461.7h0M411.0 466.6h0M485.8 472.6h0M461.7 462.0h0M409.3 465.2h0M490.6 472.0h0M418.0 463.2h0M407.6 460.3h0M434.7 461.7h0M514.9 500.6h0M456.2 455.1h0M474.8 465.9h0M412.2 465.0h0M384.5 456.2h0M433.7 463.3h0M430.0 469.0h0M511.6 492.4h0M377.0 466.8h0M434.2 460.5h0M457.9 450.6h0M419.2 458.2h0M459.6 454.4h0M451.4 450.0h0M453.8 447.7h0M496.6 485.6h0M420.0 452.2h0M498.3 490.5h0M429.7 453.1h0M488.5 468.1h0M423.1 469.8h0M372.6 462.8h0M424.1 455.1h0M510.3 491.6h0M391.1 458.8h0M397.4 452.7h0M382.7 459.5h0M427.6 466.6h0M415.6 470.2h0M499.5 490.8h0M407.8 466.0h0M423.1 458.1h0M468.6 456.8h0M455.6 466.1h0M395.2 454.7h0M466.5 463.0h0M426.5 459.6h0M383.2 464.9h0M447.3 468.4h0M488.5 476.2h0M504.7 492.8h0M395.2 456.3h0M425.6 469.7h0M409.8 459.8h0M375.0 462.8h0M407.0 453.3h0M421.2 466.2h0M381.5 460.3h0M435.2 463.8h0M460.0 466.9h0M400.0 459.8h0M382.6 466.5h0M509.5 494.6h0M513.7 497.7h0M424.5 459.4h0M470.8 463.0h0M508.1 488.5h0M435.2 464.7h0M475.7 468.3h0M393.0 457.1h0M504.4 498.6h0M426.4 470.9h0M438.7 458.9h0M414.6 459.7h0M458.4 453.0h0M450.4 460.3h0M487.2 469.9h0M472.3 456.0h0M420.2 465.3h0M388.4 460.5h0M422.4 452.0h0M430.2 450.3h0M404.8 457.0h0M465.0 460.4h0M513.6 496.2h0M461.7 464.2h0M432.1 470.2h0M505.2 488.5h0M392.5 470.3h0M389.6 470.4h0M382.5 468.7h0M423.3 451.5h0M434.7 463.3h0M478.1 467.3h0M404.7 459.1h0M399.4 460.7h0M457.5 448.7h0M405.4 454.3h0M449.4 446.6h0M433.0 468.8h0M414.3 471.4h0M507.3 487.3h0M450.7 451.8h0M473.9 461.3h0M376.7 453.6h0M387.0 457.9h0M420.8 459.2h0M485.2 470.0h0M520.6 505.9h0M399.2 462.5h0M417.9 467.3h0M501.0 487.3h0M428.7 459.0h0M404.7 460.9h0M387.5 460.1h0M482.5 467.1h0M457.8 451.5h0M468.6 453.1h0M504.9 496.9h0M380.0 465.6h0M422.7 461.2h0M411.8 457.4h0M416.4 456.7h0M464.6 453.2h0M427.9 460.9h0M400.8 463.5h0M404.3 468.4h0M464.2 452.8h0M481.6 467.4h0M399.8 458.5h0M486.2 467.3h0M374.0 464.9h0M513.0 501.5h0M508.6 500.6h0M397.8 460.9h0M433.0 470.6h0M442.1 468.4h0M491.5 476.8h0M473.3 464.5h0M475.2 460.9h0M417.3 460.2h0M470.3 454.7h0M426.4 468.2h0M472.1 454.1h0M425.9 451.4h0M440.2 468.5h0M494.5 485.9h0M465.8 462.4h0M516.9 506.8h0M429.8 470.5h0M433.7 459.1h0M495.8 484.0h0M519.3 508.1h0M410.3 469.1h0M412.2 456.6h0M375.8 456.9h0M498.8 485.9h0M373.2 461.8h0M511.0 497.7h0M407.8 468.1h0M399.3 457.2h0M425.0 466.7h0M425.1 464.7h0M498.5 490.4h0M450.2 467.9h0M387.5 452.7h0M383.8 453.8h0M417.0 469.4h0M442.8 456.1h0M395.0 455.9h0M423.1 455.4h0M381.7 452.6h0M478.9 467.4h0M458.2 447.1h0M461.1 463.4h0M480.7 459.4h0M448.8 451.8h0M454.5 454.9h0M511.3 491.5h0M513.5 500.7h0M425.5 453.4h0M508.5 493.9h0M413.7 469.9h0M473.6 463.4h0M458.1 452.5h0M471.3 462.6h0M438.8 456.7h0M475.8 466.5h0M398.6 468.5h0M467.2 462.7h0M457.5 466.9h0M382.4 464.1h0M477.4 464.8h0M376.2 458.5h0M395.4 463.9h0M489.2 468.5h0M429.8 466.4h0M492.0 478.1h0M430.9 469.2h0M444.4 453.2h0M440.9 448.6h0M422.0 449.7h0M516.2 501.3h0M474.4 459.2h0M386.9 457.9h0M444.3 451.8h0M416.5 458.6h0M503.9 486.9h0M392.1 470.8h0M414.6 455.1h0M443.1 464.4h0M494.4 475.4h0M470.9 455.4h0M373.0 466.1h0M434.6 453.6h0M516.1 498.0h0M373.9 462.6h0M460.0 451.9h0M447.7 459.3h0M435.1 465.8h0M389.9 462.3h0M463.1 448.9h0M385.3 468.8h0M440.4 458.8h0M493.7 482.0h0M462.2 455.5h0M483.3 463.2h0M406.2 460.2h0M472.0 462.2h0M477.4 468.5h0M389.2 453.1h0M493.0 473.4h0M430.8 467.0h0M383.6 453.6h0M456.4 447.9h0M382.2 468.1h0M371.8 464.9h0M395.1 452.7h0M375.3 469.2h0M376.4 460.2h0M395.8 470.3h0M488.8 470.4h0M436.0 455.4h0M494.3 474.6h0M468.7 451.1h0M372.6 453.3h0M450.7 463.0h0M422.7 457.7h0M400.9 462.7h0M460.5 447.6h0M451.4 466.1h0M458.2 453.0h0M421.9 466.4h0M412.3 462.4h0M434.8 453.7h0M418.6 469.7h0M485.7 464.9h0M413.5 458.7h0M514.4 505.2h0M443.1 454.4h0M445.9 448.2h0M442.6 457.9h0M383.7 455.4h0M441.7 460.8h0M454.4 467.8h0M388.7 462.7h0M454.6 468.0h0M506.4 485.8h0M487.2 468.6h0M469.1 454.7h0M417.9 453.0h0M466.9 453.3h0M379.5 455.7h0M426.0 451.8h0M450.1 449.9h0M371.8 453.8h0M501.2 493.8h0M452.0 449.6h0M461.9 456.3h0M454.8 464.9h0M485.2 469.1h0M449.4 455.2h0M478.8 457.5h0M493.3 480.3h0M461.6 465.2h0M392.6 465.7h0M401.3 454.6h0M375.5 469.1h0M481.9 471.5h0M469.3 454.6h0M459.0 457.6h0M476.3 464.0h0M407.8 455.2h0M413.4 467.1h0M435.6 457.4h0M395.8 459.8h0M453.4 458.7h0M518.5 504.8h0M494.2 480.3h0M446.1 463.1h0M503.9 490.2h0M419.2 458.9h0M500.9 483.0h0M430.5 452.2h0M392.8 466.0h0M434.4 450.2h0M379.4 466.4h0M488.0 466.3h0M440.3 462.4h0M489.3 478.1h0M457.6 461.0h0M508.0 488.1h0M440.7 449.8h0M397.8 451.1h0M385.6 457.3h0M488.8 469.8h0M424.6 458.1h0M494.6 474.3h0M409.0 452.1h0M420.6 470.5h0M484.3 472.6h0M402.9 468.7h0M480.4 463.4h0M438.8 462.6h0M442.7 467.2h0M411.5 457.0h0M384.4 463.0h0M455.4 446.8h0M423.6 469.2h0M372.0 465.6h0M425.3 462.0h0M459.7 460.9h0M444.3 455.1h0M444.1 456.1h0M436.9 457.9h0M423.7 462.5h0M446.8 446.9h0M382.5 459.2h0M452.2 456.3h0M492.1 471.7h0M437.6 448.5h0M506.5 497.0h0M414.5 463.0h0M510.4 492.5h0M478.0 465.5h0M492.8 481.6h0M388.8 455.4h0M464.4 453.4h0M426.6 464.9h0M373.7 455.3h0M494.6 485.6h0M391.9 453.7h0M385.9 465.6h0M485.5 465.7h0M458.1 460.4h0M439.7 459.5h0M425.5 459.4h0M382.7 460.1h0M428.7 465.3h0M425.8 448.5h0M473.8 463.3h0M489.6 475.6h0M411.4 470.4h0M490.6 478.3h0M476.9 455.7h0M482.9 465.7h0M386.2 469.9h0M405.6 461.6h0M482.4 473.1h0M472.0 454.7h0M453.7 456.4h0M418.7 471.2h0M461.8 454.0h0M427.5 467.4h0M470.6 459.8h0M380.3 462.7h0M380.3 452.3h0M407.4 457.3h0M460.0 463.3h0M373.6 461.9h0M395.8 463.3h0M388.0 468.6h0M447.9 461.7h0M372.5 459.6h0M456.5 452.1h0" stroke="#dda0dd" stroke-width="2.0" stroke-linecap="round" fill="none"/>
<polyline points="490.0,482.0 489.7,471.1 488.9,461.0 487.7,452.3 486.0,445.6 484.1,441.4 482.0,440.0 479.9,441.4 478.0,445.6 476.3,452.3 475.1,461.0 474.3,471.1 474.0,482.0" fill="none" stroke="#dda0dd" stroke-width="1.9" stroke-linecap="round" stroke-linejoin="round" stroke-dasharray="0 2.4"/>
<polyline points="501.0,482.0 500.7,471.9 499.9,462.5 498.7,454.4 497.0,448.2 495.1,444.3 493.0,443.0 490.9,444.3 489.0,448.2 487.3,454.4 486.1,462.5 485.3,471.9 485.0,482.0" fill="none" stroke="#dda0dd" stroke-width="1.9" stroke-linecap="round" stroke-linejoin="round" stroke-dasharray="0 2.4"/>
<polyline points="512.0,482.0 511.7,471.1 510.9,461.0 509.7,452.3 508.0,445.6 506.1,441.4 504.0,440.0 501.9,441.4 500.0,445.6 498.3,452.3 497.1,461.0 496.3,471.1 496.0,482.0" fill="none" stroke="#dda0dd" stroke-width="1.9" stroke-linecap="round" stroke-linejoin="round" stroke-dasharray="0 2.4"/>
<polyline points="523.0,482.0 522.7,471.9 521.9,462.5 520.7,454.4 519.0,448.2 517.1,444.3 515.0,443.0 512.9,444.3 511.0,448.2 509.3,454.4 508.1,462.5 507.3,471.9 507.0,482.0" fill="none" stroke="#dda0dd" stroke-width="1.9" stroke-linecap="round" stroke-linejoin="round" stroke-dasharray="0 2.4"/>
<polyline points="534.0,482.0 533.7,471.1 532.9,461.0 531.7,452.3 530.0,445.6 528.1,441.4 526.0,440.0 523.9,441.4 522.0,445.6 520.3,452.3 519.1,461.0 518.3,471.1 518.0,482.0" fill="none" stroke="#dda0dd" stroke-width="1.9" stroke-linecap="round" stroke-linejoin="round" stroke-dasharray="0 2.4"/>
<polyline points="416.0,385.0 416.3,370.0 417.5,355.0 420.0,345.0 423.0,335.3 424.5,322.0 426.5,310.0 429.0,303.0 432.3,300.7 435.0,302.0 437.6,308.7 439.5,316.0 440.3,322.0 441.0,328.0" fill="none" stroke="#dda0dd" stroke-width="1.9" stroke-linecap="round" stroke-linejoin="round" stroke-dasharray="0 2.5"/>
<polyline points="419.0,380.0 420.0,362.0 421.5,350.0 424.0,340.0" fill="none" stroke="#dda0dd" stroke-width="1.9" stroke-linecap="round" stroke-linejoin="round" stroke-dasharray="0 2.5"/>
<polyline points="428.0,334.3 452.0,334.3" fill="none" stroke="#dda0dd" stroke-width="2.0" stroke-linecap="round" stroke-linejoin="round" stroke-dasharray="0 2.0"/>
<polyline points="428.0,336.2 452.0,336.2" fill="none" stroke="#dda0dd" stroke-width="2.0" stroke-linecap="round" stroke-linejoin="round" stroke-dasharray="0 2.0"/>
<polyline points="430.0,338.1 451.0,338.1" fill="none" stroke="#dda0dd" stroke-width="2.0" stroke-linecap="round" stroke-linejoin="round" stroke-dasharray="0 2.0"/>
<polyline points="452.0,336.0 452.0,353.0" fill="none" stroke="#dda0dd" stroke-width="1.9" stroke-linecap="round" stroke-linejoin="round" stroke-dasharray="0 2.5"/>
<polyline points="434.0,340.0 437.0,343.0 440.0,341.0 444.0,344.0" fill="none" stroke="#dda0dd" stroke-width="1.9" stroke-linecap="round" stroke-linejoin="round" stroke-dasharray="0 2.5"/>
<polyline points="428.0,362.3 452.0,362.3" fill="none" stroke="#dda0dd" stroke-width="2.0" stroke-linecap="round" stroke-linejoin="round" stroke-dasharray="0 2.0"/>
<polyline points="429.0,364.2 452.0,364.2" fill="none" stroke="#dda0dd" stroke-width="2.0" stroke-linecap="round" stroke-linejoin="round" stroke-dasharray="0 2.0"/>
<polyline points="430.0,366.1 451.0,366.1" fill="none" stroke="#dda0dd" stroke-width="2.0" stroke-linecap="round" stroke-linejoin="round" stroke-dasharray="0 2.0"/>
<polyline points="451.0,364.0 451.0,379.0" fill="none" stroke="#dda0dd" stroke-width="1.9" stroke-linecap="round" stroke-linejoin="round" stroke-dasharray="0 2.5"/>
<polyline points="434.0,368.0 437.0,371.0 440.0,369.0 444.0,372.0" fill="none" stroke="#dda0dd" stroke-width="1.9" stroke-linecap="round" stroke-linejoin="round" stroke-dasharray="0 2.5"/>
<polyline points="426.0,381.2 452.0,381.2" fill="none" stroke="#dda0dd" stroke-width="2.0" stroke-linecap="round" stroke-linejoin="round" stroke-dasharray="0 2.0"/>
<polyline points="428.0,383.1 452.0,383.1" fill="none" stroke="#dda0dd" stroke-width="2.0" stroke-linecap="round" stroke-linejoin="round" stroke-dasharray="0 2.0"/>
<polyline points="430.0,385.0 451.0,385.0" fill="none" stroke="#dda0dd" stroke-width="2.0" stroke-linecap="round" stroke-linejoin="round" stroke-dasharray="0 2.0"/>
<polyline points="450.0,383.0 450.0,398.0" fill="none" stroke="#dda0dd" stroke-width="1.9" stroke-linecap="round" stroke-linejoin="round" stroke-dasharray="0 2.5"/>
<polyline points="434.0,387.0 437.0,390.0 440.0,388.0 444.0,391.0" fill="none" stroke="#dda0dd" stroke-width="1.9" stroke-linecap="round" stroke-linejoin="round" stroke-dasharray="0 2.5"/>
<polyline points="428.0,398.3 452.0,398.3" fill="none" stroke="#dda0dd" stroke-width="2.0" stroke-linecap="round" stroke-linejoin="round" stroke-dasharray="0 2.0"/>
<polyline points="428.0,400.2 452.0,400.2" fill="none" stroke="#dda0dd" stroke-width="2.0" stroke-linecap="round" stroke-linejoin="round" stroke-dasharray="0 2.0"/>
<polyline points="430.0,402.1 451.0,402.1" fill="none" stroke="#dda0dd" stroke-width="2.0" stroke-linecap="round" stroke-linejoin="round" stroke-dasharray="0 2.0"/>
<polyline points="451.0,400.0 451.0,415.0" fill="none" stroke="#dda0dd" stroke-width="1.9" stroke-linecap="round" stroke-linejoin="round" stroke-dasharray="0 2.5"/>
<polyline points="434.0,404.0 437.0,407.0 440.0,405.0 444.0,408.0" fill="none" stroke="#dda0dd" stroke-width="1.9" stroke-linecap="round" stroke-linejoin="round" stroke-dasharray="0 2.5"/>
<polyline points="395.0,413.4 445.0,413.4" fill="none" stroke="#dda0dd" stroke-width="2.0" stroke-linecap="round" stroke-linejoin="round" stroke-dasharray="0 2.0"/>
<polyline points="395.0,415.4 445.0,415.4" fill="none" stroke="#dda0dd" stroke-width="2.0" stroke-linecap="round" stroke-linejoin="round" stroke-dasharray="0 2.0"/>
<polyline points="386.0,429.6 415.0,429.6" fill="none" stroke="#dda0dd" stroke-width="2.0" stroke-linecap="round" stroke-linejoin="round" stroke-dasharray="0 2.0"/>
<polyline points="386.0,431.6 415.0,431.6" fill="none" stroke="#dda0dd" stroke-width="2.0" stroke-linecap="round" stroke-linejoin="round" stroke-dasharray="0 2.0"/>
<polyline points="410.0,436.2 455.0,436.2" fill="none" stroke="#dda0dd" stroke-width="2.0" stroke-linecap="round" stroke-linejoin="round" stroke-dasharray="0 2.0"/>
<polyline points="405.0,438.4 440.0,438.4" fill="none" stroke="#dda0dd" stroke-width="2.0" stroke-linecap="round" stroke-linejoin="round" stroke-dasharray="0 2.0"/>
<polyline points="453.0,340.0 466.0,336.0 476.0,331.0 485.0,326.0 495.0,323.5 510.0,323.3" fill="none" stroke="#dda0dd" stroke-width="1.9" stroke-linecap="round" stroke-linejoin="round" stroke-dasharray="0 2.5"/>
<polyline points="455.0,344.0 470.0,340.0 482.0,333.0 495.0,328.0 510.0,328.0" fill="none" stroke="#dda0dd" stroke-width="1.9" stroke-linecap="round" stroke-linejoin="round" stroke-dasharray="0 2.5"/>
<polyline points="453.0,369.0 465.0,362.0 475.0,357.0 490.0,353.0 510.0,352.6" fill="none" stroke="#dda0dd" stroke-width="1.9" stroke-linecap="round" stroke-linejoin="round" stroke-dasharray="0 2.5"/>
<polyline points="453.0,388.0 470.0,378.0 485.0,372.0 510.0,370.0" fill="none" stroke="#dda0dd" stroke-width="1.9" stroke-linecap="round" stroke-linejoin="round" stroke-dasharray="0 2.5"/>
<polyline points="453.0,405.0 470.0,398.0 485.0,393.0 510.0,391.3" fill="none" stroke="#dda0dd" stroke-width="1.9" stroke-linecap="round" stroke-linejoin="round" stroke-dasharray="0 2.5"/>
<polyline points="453.0,420.0 470.0,425.0 490.0,427.0 510.0,427.3" fill="none" stroke="#dda0dd" stroke-width="1.9" stroke-linecap="round" stroke-linejoin="round" stroke-dasharray="0 2.5"/>
<polyline points="479.0,325.0 479.0,345.0 480.0,365.0 480.0,385.0 479.0,410.0" fill="none" stroke="#dda0dd" stroke-width="1.9" stroke-linecap="round" stroke-linejoin="round" stroke-dasharray="0 2.5"/>
<polyline points="378.0,380.0 377.0,395.0 377.0,410.0 378.0,425.0 379.0,440.0" fill="none" stroke="#dda0dd" stroke-width="1.9" stroke-linecap="round" stroke-linejoin="round" stroke-dasharray="0 2.5"/>
<polyline points="383.0,378.0 382.0,395.0 383.0,410.0 384.0,425.0" fill="none" stroke="#dda0dd" stroke-width="1.9" stroke-linecap="round" stroke-linejoin="round" stroke-dasharray="0 2.5"/>
<polyline points="530.0,474.0 572.0,474.0" fill="none" stroke="#dda0dd" stroke-width="2.0" stroke-linecap="round" stroke-linejoin="round" stroke-dasharray="0 2.0"/>
<polyline points="525.0,476.5 572.0,476.5" fill="none" stroke="#dda0dd" stroke-width="2.0" stroke-linecap="round" stroke-linejoin="round" stroke-dasharray="0 2.0"/>
<polyline points="565.8,435.7 566.0,450.0 566.0,465.0 566.5,486.6" fill="none" stroke="#dda0dd" stroke-width="1.9" stroke-linecap="round" stroke-linejoin="round" stroke-dasharray="0 2.5"/>
<polyline points="572.3,438.0 572.3,455.0 572.3,470.0 571.0,486.0" fill="none" stroke="#dda0dd" stroke-width="1.9" stroke-linecap="round" stroke-linejoin="round" stroke-dasharray="0 2.5"/>
<polyline points="582.0,436.0 583.0,450.0 582.0,470.0 578.0,486.0" fill="none" stroke="#dda0dd" stroke-width="1.9" stroke-linecap="round" stroke-linejoin="round" stroke-dasharray="0 2.5"/>
<polyline points="540.0,488.0 548.0,484.0 555.0,490.0 557.0,500.0 553.0,505.0" fill="none" stroke="#dda0dd" stroke-width="1.9" stroke-linecap="round" stroke-linejoin="round" stroke-dasharray="0 2.5"/>
<polyline points="555.0,486.0 563.0,484.0 570.0,492.0 570.0,502.0" fill="none" stroke="#dda0dd" stroke-width="1.9" stroke-linecap="round" stroke-linejoin="round" stroke-dasharray="0 2.5"/>
<polyline points="505.0,445.0 515.0,442.0 525.0,441.0 535.0,442.0 544.0,446.0 548.0,456.0" fill="none" stroke="#dda0dd" stroke-width="1.9" stroke-linecap="round" stroke-linejoin="round" stroke-dasharray="0 2.5"/>
<polyline points="515.0,452.0 525.0,447.0 535.0,448.0 540.0,455.0 542.0,465.0" fill="none" stroke="#dda0dd" stroke-width="1.9" stroke-linecap="round" stroke-linejoin="round" stroke-dasharray="0 2.5"/>
<polyline points="490.0,427.0 500.0,426.0 510.0,428.0" fill="none" stroke="#dda0dd" stroke-width="1.9" stroke-linecap="round" stroke-linejoin="round" stroke-dasharray="0 2.5"/>
<polygon points="371.7,471.0 392.0,471.0 413.0,471.5 434.0,471.0 455.0,468.0 470.0,466.0 480.0,471.0 490.0,480.0 497.0,490.0 505.0,500.0 515.0,507.0 525.0,511.0 510.0,513.5 490.0,515.0 460.0,517.0 420.0,518.5 371.7,519.5" fill="#dda0dd"/>
<polyline points="399.5,469.0 399.7,471.0 399.0,475.0 398.1,478.5 398.1,484.4 398.7,490.2 399.7,496.1 402.9,499.3 405.5,501.5 408.5,503.0 411.5,505.0 416.5,506.5 421.5,507.0 426.5,507.0 432.5,506.5" fill="none" stroke="#0000ff" stroke-width="2.6" stroke-linecap="round" stroke-linejoin="round" stroke-dasharray="0 3.6"/>
<polyline points="400.5,470.5 400.5,475.0 401.9,482.2 402.4,490.8 403.0,495.0" fill="none" stroke="#0000ff" stroke-width="2.6" stroke-linecap="round" stroke-linejoin="round" stroke-dasharray="0 5.5"/>
<polyline points="432.5,499.4 434.2,497.2 435.3,493.9 436.9,490.0 438.0,486.7 439.7,483.4 441.3,480.7 443.5,479.0 445.7,477.4 448.5,475.2 451.8,473.5 454.0,475.7 455.6,479.6 457.3,484.5 458.4,489.5 459.5,494.4 461.1,498.8 462.8,503.2 463.9,507.1 467.2,507.1 470.5,508.2 472.7,509.3 477.0,509.8 480.3,510.4 483.6,510.4 486.9,510.4 490.2,510.9 492.4,510.9" fill="none" stroke="#0000ff" stroke-width="2.6" stroke-linecap="round" stroke-linejoin="round" stroke-dasharray="0 3.5"/>
<polyline points="432.5,506.5 437.5,506.0 443.0,507.1 448.5,508.2 454.0,508.7 459.5,509.3 463.5,509.0" fill="none" stroke="#0000ff" stroke-width="2.6" stroke-linecap="round" stroke-linejoin="round" stroke-dasharray="0 3.2"/>
<polyline points="432.5,499.0 434.5,502.0 433.5,505.0 436.5,507.0 438.5,504.0" fill="none" stroke="#0000ff" stroke-width="2.6" stroke-linecap="round" stroke-linejoin="round" stroke-dasharray="0 2.2"/>
<polyline points="411.5,508.0 417.5,509.0 423.5,508.0" fill="none" stroke="#0000ff" stroke-width="2.6" stroke-linecap="round" stroke-linejoin="round" stroke-dasharray="0 3.0"/>
<polyline points="407.2,516.4 410.5,517.0" fill="none" stroke="#0000ff" stroke-width="2.4" stroke-linecap="round" stroke-linejoin="round" stroke-dasharray="0 3"/>
<polyline points="397.1,505.7 397.6,502.0 398.7,498.8 400.3,496.1 403.5,494.0 406.7,492.4 409.3,490.2 412.0,489.2 414.1,490.8 415.7,495.6 417.9,499.3 419.5,503.0 421.5,507.0" fill="none" stroke="#008000" stroke-width="2.6" stroke-linecap="round" stroke-linejoin="round" stroke-dasharray="0 3.2"/>
<polyline points="382.2,484.4 381.6,489.2 377.5,490.0 374.7,490.2 372.3,490.8 373.1,494.0 376.5,495.5 380.0,496.6 383.8,494.0 383.2,499.3 380.0,502.0 381.1,505.7" fill="none" stroke="#008000" stroke-width="2.6" stroke-linecap="round" stroke-linejoin="round" stroke-dasharray="0 3.4"/>
<polyline points="372.5,515.5 381.5,515.0 389.5,515.0 397.5,515.0" fill="none" stroke="#008000" stroke-width="2.7" stroke-linecap="round" stroke-linejoin="round" stroke-dasharray="0 2.6"/>
<polyline points="372.5,518.5 381.5,518.5 389.5,518.5 397.5,518.5 403.5,518.5 410.9,516.9 416.3,516.4 421.6,515.3 426.9,514.2 431.5,513.3 437.5,513.1" fill="none" stroke="#008000" stroke-width="2.6" stroke-linecap="round" stroke-linejoin="round" stroke-dasharray="0 2.6"/>
<polyline points="417.3,504.6 421.6,508.9 426.5,508.7 430.9,508.2 437.5,508.2 443.0,509.3 448.5,508.7 451.8,508.7" fill="none" stroke="#008000" stroke-width="2.6" stroke-linecap="round" stroke-linejoin="round" stroke-dasharray="0 3.2"/>
<polyline points="373.1,498.8 373.6,492.9 374.7,487.0 375.8,482.8 379.0,480.1 381.6,481.2 383.8,487.0 385.9,492.9 387.5,501.4 388.5,506.0" fill="none" stroke="#ff0000" stroke-width="2.6" stroke-linecap="round" stroke-linejoin="round" stroke-dasharray="0 3.2"/>
<polyline points="376.8,492.9 377.9,496.1 379.0,502.5" fill="none" stroke="#ff0000" stroke-width="2.6" stroke-linecap="round" stroke-linejoin="round" stroke-dasharray="0 3.0"/>
<polyline points="372.5,507.5 381.5,507.2 391.5,507.5 401.5,507.3" fill="none" stroke="#ff0000" stroke-width="2.7" stroke-linecap="round" stroke-linejoin="round" stroke-dasharray="0 2.5"/>
<polyline points="373.5,510.5 381.5,510.8 391.5,510.5 402.5,510.5" fill="none" stroke="#ff0000" stroke-width="2.7" stroke-linecap="round" stroke-linejoin="round" stroke-dasharray="0 2.7"/>
<polyline points="372.5,513.5 377.5,514.0 383.5,513.0 389.5,512.5 396.5,513.0" fill="none" stroke="#ff0000" stroke-width="2.6" stroke-linecap="round" stroke-linejoin="round" stroke-dasharray="0 2.6"/>
<polyline points="375.5,517.0 381.5,518.0 387.5,517.0" fill="none" stroke="#ff0000" stroke-width="2.6" stroke-linecap="round" stroke-linejoin="round" stroke-dasharray="0 3.2"/>
<polyline points="403.5,505.7 404.5,503.6 406.7,501.4 409.3,499.8 412.5,498.8 415.2,498.2 417.3,499.3 419.5,502.0 423.7,504.6 426.9,502.0 430.1,500.4 433.1,499.4 437.5,499.9 441.9,499.9 445.2,500.5 448.5,500.5 451.8,500.5 455.1,500.5 456.7,500.5" fill="none" stroke="#ff0000" stroke-width="2.6" stroke-linecap="round" stroke-linejoin="round" stroke-dasharray="0 3.0"/>
<polyline points="411.5,503.0 416.5,504.0 421.5,505.5 426.5,504.9 429.8,505.4 433.1,504.3 440.8,503.8" fill="none" stroke="#ff0000" stroke-width="2.6" stroke-linecap="round" stroke-linejoin="round" stroke-dasharray="0 3.2"/>
<rect x="59.85" y="1.85" width="264.15" height="244.60" class="sp"/>
<line x1="56.25" y1="246.45" x2="59.85" y2="246.45" class="tk"/>
<text x="50.65" y="251.25" font-size="13.6" text-anchor="end" textLength="27.6" lengthAdjust="spacingAndGlyphs">0.00</text>
<line x1="56.25" y1="201.18" x2="59.85" y2="201.18" class="tk"/>
<text x="50.65" y="205.98" font-size="13.6" text-anchor="end" textLength="27.6" lengthAdjust="spacingAndGlyphs">0.05</text>
<line x1="56.25" y1="155.91" x2="59.85" y2="155.91" class="tk"/>
<text x="50.65" y="160.71" font-size="13.6" text-anchor="end" textLength="27.6" lengthAdjust="spacingAndGlyphs">0.10</text>
<line x1="56.25" y1="110.64" x2="59.85" y2="110.64" class="tk"/>
<text x="50.65" y="115.44" font-size="13.6" text-anchor="end" textLength="27.6" lengthAdjust="spacingAndGlyphs">0.15</text>
<line x1="56.25" y1="65.37" x2="59.85" y2="65.37" class="tk"/>
<text x="50.65" y="70.17" font-size="13.6" text-anchor="end" textLength="27.6" lengthAdjust="spacingAndGlyphs">0.20</text>
<line x1="56.25" y1="20.10" x2="59.85" y2="20.10" class="tk"/>
<text x="50.65" y="24.90" font-size="13.6" text-anchor="end" textLength="27.6" lengthAdjust="spacingAndGlyphs">0.25</text>
<line x1="59.73" y1="246.45" x2="59.73" y2="250.05" class="tk"/>
<text x="59.73" y="262.85" font-size="13.6" text-anchor="middle" textLength="36.2" lengthAdjust="spacingAndGlyphs">0.000</text>
<line x1="132.67" y1="246.45" x2="132.67" y2="250.05" class="tk"/>
<text x="132.67" y="262.85" font-size="13.6" text-anchor="middle" textLength="36.2" lengthAdjust="spacingAndGlyphs">0.001</text>
<line x1="206.55" y1="246.45" x2="206.55" y2="250.05" class="tk"/>
<text x="206.55" y="262.85" font-size="13.6" text-anchor="middle" textLength="36.2" lengthAdjust="spacingAndGlyphs">0.002</text>
<line x1="279.48" y1="246.45" x2="279.48" y2="250.05" class="tk"/>
<text x="279.48" y="262.85" font-size="13.6" text-anchor="middle" textLength="36.2" lengthAdjust="spacingAndGlyphs">0.003</text>
<rect x="371.30" y="1.85" width="264.20" height="244.60" class="sp"/>
<line x1="367.70" y1="246.45" x2="371.30" y2="246.45" class="tk"/>
<text x="362.10" y="251.25" font-size="13.6" text-anchor="end" textLength="27.6" lengthAdjust="spacingAndGlyphs">0.00</text>
<line x1="367.70" y1="201.18" x2="371.30" y2="201.18" class="tk"/>
<text x="362.10" y="205.98" font-size="13.6" text-anchor="end" textLength="27.6" lengthAdjust="spacingAndGlyphs">0.05</text>
<line x1="367.70" y1="155.91" x2="371.30" y2="155.91" class="tk"/>
<text x="362.10" y="160.71" font-size="13.6" text-anchor="end" textLength="27.6" lengthAdjust="spacingAndGlyphs">0.10</text>
<line x1="367.70" y1="110.64" x2="371.30" y2="110.64" class="tk"/>
<text x="362.10" y="115.44" font-size="13.6" text-anchor="end" textLength="27.6" lengthAdjust="spacingAndGlyphs">0.15</text>
<line x1="367.70" y1="65.37" x2="371.30" y2="65.37" class="tk"/>
<text x="362.10" y="70.17" font-size="13.6" text-anchor="end" textLength="27.6" lengthAdjust="spacingAndGlyphs">0.20</text>
<line x1="367.70" y1="20.10" x2="371.30" y2="20.10" class="tk"/>
<text x="362.10" y="24.90" font-size="13.6" text-anchor="end" textLength="27.6" lengthAdjust="spacingAndGlyphs">0.25</text>
<line x1="371.23" y1="246.45" x2="371.23" y2="250.05" class="tk"/>
<text x="371.23" y="262.85" font-size="13.6" text-anchor="middle" textLength="36.2" lengthAdjust="spacingAndGlyphs">0.000</text>
<line x1="444.17" y1="246.45" x2="444.17" y2="250.05" class="tk"/>
<text x="444.17" y="262.85" font-size="13.6" text-anchor="middle" textLength="36.2" lengthAdjust="spacingAndGlyphs">0.001</text>
<line x1="518.05" y1="246.45" x2="518.05" y2="250.05" class="tk"/>
<text x="518.05" y="262.85" font-size="13.6" text-anchor="middle" textLength="36.2" lengthAdjust="spacingAndGlyphs">0.002</text>
<line x1="590.98" y1="246.45" x2="590.98" y2="250.05" class="tk"/>
<text x="590.98" y="262.85" font-size="13.6" text-anchor="middle" textLength="36.2" lengthAdjust="spacingAndGlyphs">0.003</text>
<rect x="59.85" y="277.00" width="264.15" height="244.75" class="sp"/>
<line x1="56.25" y1="521.75" x2="59.85" y2="521.75" class="tk"/>
<text x="50.65" y="526.55" font-size="13.6" text-anchor="end" textLength="27.6" lengthAdjust="spacingAndGlyphs">0.00</text>
<line x1="56.25" y1="476.48" x2="59.85" y2="476.48" class="tk"/>
<text x="50.65" y="481.28" font-size="13.6" text-anchor="end" textLength="27.6" lengthAdjust="spacingAndGlyphs">0.05</text>
<line x1="56.25" y1="431.21" x2="59.85" y2="431.21" class="tk"/>
<text x="50.65" y="436.01" font-size="13.6" text-anchor="end" textLength="27.6" lengthAdjust="spacingAndGlyphs">0.10</text>
<line x1="56.25" y1="385.94" x2="59.85" y2="385.94" class="tk"/>
<text x="50.65" y="390.74" font-size="13.6" text-anchor="end" textLength="27.6" lengthAdjust="spacingAndGlyphs">0.15</text>
<line x1="56.25" y1="340.67" x2="59.85" y2="340.67" class="tk"/>
<text x="50.65" y="345.47" font-size="13.6" text-anchor="end" textLength="27.6" lengthAdjust="spacingAndGlyphs">0.20</text>
<line x1="56.25" y1="295.40" x2="59.85" y2="295.40" class="tk"/>
<text x="50.65" y="300.20" font-size="13.6" text-anchor="end" textLength="27.6" lengthAdjust="spacingAndGlyphs">0.25</text>
<line x1="59.73" y1="521.75" x2="59.73" y2="525.35" class="tk"/>
<text x="59.73" y="538.15" font-size="13.6" text-anchor="middle" textLength="36.2" lengthAdjust="spacingAndGlyphs">0.000</text>
<line x1="132.67" y1="521.75" x2="132.67" y2="525.35" class="tk"/>
<text x="132.67" y="538.15" font-size="13.6" text-anchor="middle" textLength="36.2" lengthAdjust="spacingAndGlyphs">0.001</text>
<line x1="206.55" y1="521.75" x2="206.55" y2="525.35" class="tk"/>
<text x="206.55" y="538.15" font-size="13.6" text-anchor="middle" textLength="36.2" lengthAdjust="spacingAndGlyphs">0.002</text>
<line x1="279.48" y1="521.75" x2="279.48" y2="525.35" class="tk"/>
<text x="279.48" y="538.15" font-size="13.6" text-anchor="middle" textLength="36.2" lengthAdjust="spacingAndGlyphs">0.003</text>
<rect x="371.30" y="277.00" width="264.20" height="244.75" class="sp"/>
<line x1="367.70" y1="521.75" x2="371.30" y2="521.75" class="tk"/>
<text x="362.10" y="526.55" font-size="13.6" text-anchor="end" textLength="27.6" lengthAdjust="spacingAndGlyphs">0.00</text>
<line x1="367.70" y1="476.48" x2="371.30" y2="476.48" class="tk"/>
<text x="362.10" y="481.28" font-size="13.6" text-anchor="end" textLength="27.6" lengthAdjust="spacingAndGlyphs">0.05</text>
<line x1="367.70" y1="431.21" x2="371.30" y2="431.21" class="tk"/>
<text x="362.10" y="436.01" font-size="13.6" text-anchor="end" textLength="27.6" lengthAdjust="spacingAndGlyphs">0.10</text>
<line x1="367.70" y1="385.94" x2="371.30" y2="385.94" class="tk"/>
<text x="362.10" y="390.74" font-size="13.6" text-anchor="end" textLength="27.6" lengthAdjust="spacingAndGlyphs">0.15</text>
<line x1="367.70" y1="340.67" x2="371.30" y2="340.67" class="tk"/>
<text x="362.10" y="345.47" font-size="13.6" text-anchor="end" textLength="27.6" lengthAdjust="spacingAndGlyphs">0.20</text>
<line x1="367.70" y1="295.40" x2="371.30" y2="295.40" class="tk"/>
<text x="362.10" y="300.20" font-size="13.6" text-anchor="end" textLength="27.6" lengthAdjust="spacingAndGlyphs">0.25</text>
<line x1="371.23" y1="521.75" x2="371.23" y2="525.35" class="tk"/>
<text x="371.23" y="538.15" font-size="13.6" text-anchor="middle" textLength="36.2" lengthAdjust="spacingAndGlyphs">0.000</text>
<line x1="444.17" y1="521.75" x2="444.17" y2="525.35" class="tk"/>
<text x="444.17" y="538.15" font-size="13.6" text-anchor="middle" textLength="36.2" lengthAdjust="spacingAndGlyphs">0.001</text>
<line x1="518.05" y1="521.75" x2="518.05" y2="525.35" class="tk"/>
<text x="518.05" y="538.15" font-size="13.6" text-anchor="middle" textLength="36.2" lengthAdjust="spacingAndGlyphs">0.002</text>
<line x1="590.98" y1="521.75" x2="590.98" y2="525.35" class="tk"/>
<text x="590.98" y="538.15" font-size="13.6" text-anchor="middle" textLength="36.2" lengthAdjust="spacingAndGlyphs">0.003</text>
<text transform="translate(12.40,124.00) rotate(-90)" font-size="15.8" text-anchor="middle" textLength="82" lengthAdjust="spacingAndGlyphs"><tspan font-style="italic">b</tspan><tspan font-style="italic" font-size="11" dy="3">c</tspan><tspan dy="-3"> of </tspan><tspan font-style="italic">ε</tspan> (EII)</text>
<text transform="translate(12.40,399.20) rotate(-90)" font-size="15.8" text-anchor="middle" textLength="82" lengthAdjust="spacingAndGlyphs"><tspan font-style="italic">b</tspan><tspan font-style="italic" font-size="11" dy="3">c</tspan><tspan dy="-3"> of </tspan><tspan font-style="italic">ε</tspan> (Irr)</text>
<text x="191.50" y="558.8" font-size="15.8" text-anchor="middle" textLength="49.5" lengthAdjust="spacingAndGlyphs"><tspan font-style="italic">b</tspan><tspan font-style="italic" font-size="11" dy="3">c</tspan><tspan dy="-3"> of R</tspan></text>
<text x="503.00" y="558.8" font-size="15.8" text-anchor="middle" textLength="49.5" lengthAdjust="spacingAndGlyphs"><tspan font-style="italic">b</tspan><tspan font-style="italic" font-size="11" dy="3">c</tspan><tspan dy="-3"> of R</tspan></text>
<circle cx="245.1" cy="22.6" r="0.9" fill="#ffc0cb"/>
<text x="272.60" y="26.70" font-size="15.8" text-anchor="start" textLength="36.8" lengthAdjust="spacingAndGlyphs">QSOI</text>
<circle cx="245.1" cy="45.3" r="1.6" fill="#0000ff"/>
<text x="272.00" y="48.90" font-size="15.8" text-anchor="start" textLength="37.0" lengthAdjust="spacingAndGlyphs">O5 V</text>
<circle cx="245.1" cy="67.5" r="1.6" fill="#008000"/>
<text x="272.00" y="71.20" font-size="15.8" text-anchor="start" textLength="34.6" lengthAdjust="spacingAndGlyphs">G5 II</text>
<circle cx="245.1" cy="89.8" r="1.6" fill="#ff0000"/>
<text x="272.40" y="93.30" font-size="15.8" text-anchor="start" textLength="28.0" lengthAdjust="spacingAndGlyphs">K2 I</text>
<circle cx="399.6" cy="22.9" r="0.9" fill="#dda0dd"/>
<text x="427.20" y="27.00" font-size="15.8" text-anchor="start" textLength="40.6" lengthAdjust="spacingAndGlyphs">QSOII</text>
</svg></body></html>
